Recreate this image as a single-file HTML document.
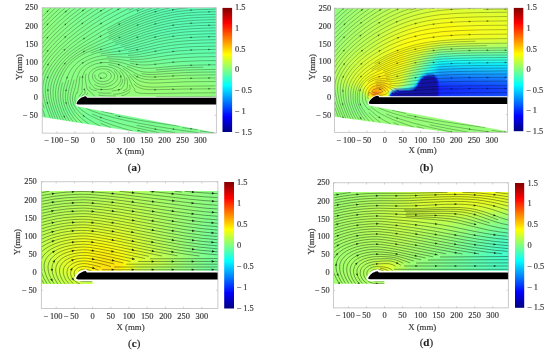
<!DOCTYPE html>
<html><head><meta charset="utf-8"><style>
html,body{margin:0;padding:0;background:#fff;overflow:hidden;}
svg{display:block;}
text{font-family:"Liberation Serif",serif;font-size:8.4px;fill:#3a3a3a;stroke:#3a3a3a;stroke-width:0.18px;}
</style></head><body>
<svg width="550" height="353" viewBox="0 0 550 353">
<defs><filter id="vb" x="-2%" y="-5%" width="104%" height="110%"><feGaussianBlur stdDeviation="0.3 1.0"/></filter><filter id="soft" x="0" y="0" width="100%" height="100%"><feGaussianBlur stdDeviation="0.35"/></filter></defs>
<rect width="550" height="353" fill="#fff"/>
<g filter="url(#soft)">
<defs><clipPath id="clipa"><path d="M41.93,7.80 L216.01,7.80 L216.01,133.10 L143.06,133.10 L41.93,117.10ZM76.29,104.28 L216.01,104.28 L216.01,132.71 L76.50,106.21Z" clip-rule="evenodd"/></clipPath></defs><g clip-path="url(#clipa)"><g filter="url(#vb)"><defs><linearGradient id="ga0"><stop offset="0.000" stop-color="#89ff76"/><stop offset="0.673" stop-color="#52ffad"/><stop offset="0.999" stop-color="#4cffb3"/></linearGradient><linearGradient id="ga1"><stop offset="0.000" stop-color="#89ff76"/><stop offset="0.698" stop-color="#51ffae"/><stop offset="0.999" stop-color="#4cffb3"/></linearGradient><linearGradient id="ga2"><stop offset="0.000" stop-color="#89ff76"/><stop offset="0.701" stop-color="#51ffae"/><stop offset="0.999" stop-color="#4cffb3"/></linearGradient><linearGradient id="ga3"><stop offset="0.000" stop-color="#89ff76"/><stop offset="0.369" stop-color="#68ff97"/><stop offset="0.804" stop-color="#4fffb0"/><stop offset="0.999" stop-color="#4cffb3"/></linearGradient><linearGradient id="ga4"><stop offset="0.000" stop-color="#89ff76"/><stop offset="0.352" stop-color="#6aff95"/><stop offset="0.778" stop-color="#50ffaf"/><stop offset="0.999" stop-color="#4cffb3"/></linearGradient><linearGradient id="ga5"><stop offset="0.000" stop-color="#89ff76"/><stop offset="0.335" stop-color="#6cff93"/><stop offset="0.761" stop-color="#50ffaf"/><stop offset="0.999" stop-color="#4cffb3"/></linearGradient><linearGradient id="ga6"><stop offset="0.000" stop-color="#89ff76"/><stop offset="0.324" stop-color="#6eff91"/><stop offset="0.752" stop-color="#51ffae"/><stop offset="0.999" stop-color="#4dffb2"/></linearGradient><linearGradient id="ga7"><stop offset="0.000" stop-color="#89ff76"/><stop offset="0.315" stop-color="#6fff90"/><stop offset="0.744" stop-color="#51ffae"/><stop offset="0.999" stop-color="#4dffb2"/></linearGradient><linearGradient id="ga8"><stop offset="0.000" stop-color="#89ff76"/><stop offset="0.309" stop-color="#70ff8f"/><stop offset="0.738" stop-color="#52ffad"/><stop offset="0.999" stop-color="#4dffb2"/></linearGradient><linearGradient id="ga9"><stop offset="0.000" stop-color="#89ff76"/><stop offset="0.304" stop-color="#72ff8d"/><stop offset="0.733" stop-color="#52ffad"/><stop offset="0.999" stop-color="#4dffb2"/></linearGradient><linearGradient id="ga10"><stop offset="0.000" stop-color="#89ff76"/><stop offset="0.301" stop-color="#73ff8c"/><stop offset="0.727" stop-color="#53ffac"/><stop offset="0.999" stop-color="#4dffb2"/></linearGradient><linearGradient id="ga11"><stop offset="0.000" stop-color="#89ff76"/><stop offset="0.298" stop-color="#73ff8c"/><stop offset="0.704" stop-color="#54ffab"/><stop offset="0.999" stop-color="#4dffb2"/></linearGradient><linearGradient id="ga12"><stop offset="0.000" stop-color="#89ff76"/><stop offset="0.295" stop-color="#74ff8b"/><stop offset="0.681" stop-color="#54ffab"/><stop offset="0.999" stop-color="#4dffb2"/></linearGradient><linearGradient id="ga13"><stop offset="0.000" stop-color="#89ff76"/><stop offset="0.295" stop-color="#75ff8a"/><stop offset="0.664" stop-color="#55ffaa"/><stop offset="0.999" stop-color="#4dffb2"/></linearGradient><linearGradient id="ga14"><stop offset="0.000" stop-color="#89ff76"/><stop offset="0.292" stop-color="#76ff89"/><stop offset="0.613" stop-color="#58ffa7"/><stop offset="0.999" stop-color="#4dffb2"/></linearGradient><linearGradient id="ga15"><stop offset="0.000" stop-color="#89ff76"/><stop offset="0.292" stop-color="#76ff89"/><stop offset="0.477" stop-color="#62ff9d"/><stop offset="0.999" stop-color="#4effb1"/></linearGradient><linearGradient id="ga16"><stop offset="0.000" stop-color="#89ff76"/><stop offset="0.290" stop-color="#77ff88"/><stop offset="0.440" stop-color="#64ff9b"/><stop offset="0.999" stop-color="#50ffaf"/></linearGradient><linearGradient id="ga17"><stop offset="0.000" stop-color="#89ff76"/><stop offset="0.287" stop-color="#78ff87"/><stop offset="0.432" stop-color="#63ff9c"/><stop offset="0.999" stop-color="#51ffae"/></linearGradient><linearGradient id="ga18"><stop offset="0.000" stop-color="#89ff76"/><stop offset="0.281" stop-color="#79ff86"/><stop offset="0.426" stop-color="#62ff9d"/><stop offset="0.999" stop-color="#52ffad"/></linearGradient><linearGradient id="ga19"><stop offset="0.000" stop-color="#89ff76"/><stop offset="0.273" stop-color="#7aff85"/><stop offset="0.423" stop-color="#60ff9f"/><stop offset="0.999" stop-color="#54ffab"/></linearGradient><linearGradient id="ga20"><stop offset="0.000" stop-color="#89ff76"/><stop offset="0.264" stop-color="#7bff84"/><stop offset="0.423" stop-color="#5fffa0"/><stop offset="0.999" stop-color="#55ffaa"/></linearGradient><linearGradient id="ga21"><stop offset="0.000" stop-color="#89ff76"/><stop offset="0.267" stop-color="#7bff84"/><stop offset="0.426" stop-color="#5fffa0"/><stop offset="0.999" stop-color="#57ffa8"/></linearGradient><linearGradient id="ga22"><stop offset="0.000" stop-color="#89ff76"/><stop offset="0.278" stop-color="#7cff83"/><stop offset="0.434" stop-color="#61ff9e"/><stop offset="0.999" stop-color="#58ffa7"/></linearGradient><linearGradient id="ga23"><stop offset="0.000" stop-color="#89ff76"/><stop offset="0.301" stop-color="#7bff84"/><stop offset="0.446" stop-color="#64ff9b"/><stop offset="0.999" stop-color="#59ffa6"/></linearGradient><linearGradient id="ga24"><stop offset="0.000" stop-color="#89ff76"/><stop offset="0.329" stop-color="#7bff84"/><stop offset="0.460" stop-color="#68ff97"/><stop offset="0.999" stop-color="#5affa5"/></linearGradient><linearGradient id="ga25"><stop offset="0.000" stop-color="#89ff76"/><stop offset="0.355" stop-color="#7bff84"/><stop offset="0.474" stop-color="#6bff94"/><stop offset="0.999" stop-color="#5cffa3"/></linearGradient><linearGradient id="ga26"><stop offset="0.000" stop-color="#89ff76"/><stop offset="0.380" stop-color="#7bff84"/><stop offset="0.497" stop-color="#6fff90"/><stop offset="0.999" stop-color="#5dffa2"/></linearGradient><linearGradient id="ga27"><stop offset="0.000" stop-color="#89ff76"/><stop offset="0.406" stop-color="#7bff84"/><stop offset="0.545" stop-color="#72ff8d"/><stop offset="0.999" stop-color="#5fffa0"/></linearGradient><linearGradient id="ga28"><stop offset="0.000" stop-color="#88ff77"/><stop offset="0.429" stop-color="#7bff84"/><stop offset="0.999" stop-color="#62ff9d"/></linearGradient><linearGradient id="ga29"><stop offset="0.000" stop-color="#87ff78"/><stop offset="0.446" stop-color="#7dff82"/><stop offset="0.889" stop-color="#6bff94"/><stop offset="0.999" stop-color="#66ff99"/></linearGradient><linearGradient id="ga30"><stop offset="0.000" stop-color="#86ff79"/><stop offset="0.454" stop-color="#80ff7f"/><stop offset="0.852" stop-color="#73ff8c"/><stop offset="0.999" stop-color="#6aff95"/></linearGradient><linearGradient id="ga31"><stop offset="0.000" stop-color="#84ff7b"/><stop offset="0.454" stop-color="#84ff7b"/><stop offset="0.829" stop-color="#7aff85"/><stop offset="0.999" stop-color="#6eff91"/></linearGradient><linearGradient id="ga32"><stop offset="0.000" stop-color="#83ff7c"/><stop offset="0.332" stop-color="#85ff7a"/><stop offset="0.772" stop-color="#82ff7d"/><stop offset="0.999" stop-color="#72ff8d"/></linearGradient><linearGradient id="ga33"><stop offset="0.000" stop-color="#81ff7e"/><stop offset="0.341" stop-color="#86ff79"/><stop offset="0.761" stop-color="#88ff77"/><stop offset="0.999" stop-color="#76ff89"/></linearGradient><linearGradient id="ga34"><stop offset="0.000" stop-color="#80ff7f"/><stop offset="0.551" stop-color="#8aff75"/><stop offset="0.775" stop-color="#8aff75"/><stop offset="0.999" stop-color="#7aff85"/></linearGradient><linearGradient id="ga35"><stop offset="0.000" stop-color="#7fff80"/><stop offset="0.735" stop-color="#8fff70"/><stop offset="0.999" stop-color="#7dff82"/></linearGradient><linearGradient id="ga36"><stop offset="0.000" stop-color="#7eff81"/><stop offset="0.730" stop-color="#90ff6f"/><stop offset="0.999" stop-color="#7fff80"/></linearGradient><linearGradient id="ga37"><stop offset="0.000" stop-color="#7dff82"/><stop offset="0.667" stop-color="#91ff6e"/><stop offset="0.999" stop-color="#82ff7d"/></linearGradient><linearGradient id="ga38"><stop offset="0.000" stop-color="#7cff83"/><stop offset="0.503" stop-color="#8cff73"/><stop offset="0.645" stop-color="#94ff6b"/><stop offset="0.999" stop-color="#85ff7a"/></linearGradient><linearGradient id="ga39"><stop offset="0.000" stop-color="#7bff84"/><stop offset="0.471" stop-color="#8dff72"/><stop offset="0.588" stop-color="#95ff6a"/><stop offset="0.647" stop-color="#93ff6c"/><stop offset="0.999" stop-color="#87ff78"/></linearGradient><linearGradient id="ga40"><stop offset="0.000" stop-color="#7aff85"/><stop offset="0.460" stop-color="#8eff71"/><stop offset="0.591" stop-color="#95ff6a"/><stop offset="0.639" stop-color="#94ff6b"/><stop offset="0.999" stop-color="#89ff76"/></linearGradient><linearGradient id="ga41"><stop offset="0.000" stop-color="#7bff84"/><stop offset="0.466" stop-color="#8eff71"/><stop offset="0.602" stop-color="#95ff6a"/><stop offset="0.999" stop-color="#8aff75"/></linearGradient><linearGradient id="ga42"><stop offset="0.000" stop-color="#7cff83"/><stop offset="0.483" stop-color="#8fff70"/><stop offset="0.713" stop-color="#90ff6f"/><stop offset="0.999" stop-color="#8aff75"/></linearGradient><linearGradient id="ga43"><stop offset="0.000" stop-color="#7dff82"/><stop offset="0.290" stop-color="#88ff77"/><stop offset="0.554" stop-color="#8fff70"/><stop offset="0.999" stop-color="#8aff75"/></linearGradient><linearGradient id="ga44"><stop offset="0.000" stop-color="#7eff81"/><stop offset="0.270" stop-color="#84ff7b"/><stop offset="0.477" stop-color="#90ff6f"/><stop offset="0.999" stop-color="#8aff75"/></linearGradient><linearGradient id="ga45"><stop offset="0.000" stop-color="#7eff81"/><stop offset="0.258" stop-color="#81ff7e"/><stop offset="0.466" stop-color="#8eff71"/><stop offset="0.999" stop-color="#89ff76"/></linearGradient><linearGradient id="ga46"><stop offset="0.000" stop-color="#7cff83"/><stop offset="0.258" stop-color="#7eff81"/><stop offset="0.511" stop-color="#89ff76"/><stop offset="0.999" stop-color="#85ff7a"/></linearGradient><linearGradient id="ga47"><stop offset="0.000" stop-color="#7aff85"/><stop offset="0.301" stop-color="#7cff83"/><stop offset="0.999" stop-color="#7fff80"/></linearGradient><linearGradient id="ga48"><stop offset="0.000" stop-color="#78ff87"/><stop offset="0.253" stop-color="#79ff86"/><stop offset="0.999" stop-color="#7aff85"/></linearGradient><linearGradient id="ga49"><stop offset="0.000" stop-color="#76ff89"/><stop offset="0.247" stop-color="#77ff88"/><stop offset="0.999" stop-color="#79ff86"/></linearGradient><linearGradient id="ga50"><stop offset="0.000" stop-color="#74ff8b"/><stop offset="0.258" stop-color="#74ff8b"/><stop offset="0.999" stop-color="#79ff86"/></linearGradient><linearGradient id="ga51"><stop offset="0.000" stop-color="#73ff8c"/><stop offset="0.185" stop-color="#73ff8c"/><stop offset="0.999" stop-color="#79ff86"/></linearGradient><linearGradient id="ga52"><stop offset="0.000" stop-color="#72ff8d"/><stop offset="0.170" stop-color="#72ff8d"/><stop offset="0.216" stop-color="#75ff8a"/><stop offset="0.318" stop-color="#74ff8b"/><stop offset="0.999" stop-color="#79ff86"/></linearGradient><linearGradient id="ga53"><stop offset="0.000" stop-color="#72ff8d"/><stop offset="0.156" stop-color="#73ff8c"/><stop offset="0.207" stop-color="#7bff84"/><stop offset="0.250" stop-color="#6fff90"/><stop offset="0.999" stop-color="#79ff86"/></linearGradient><linearGradient id="ga54"><stop offset="0.000" stop-color="#72ff8d"/><stop offset="0.145" stop-color="#74ff8b"/><stop offset="0.204" stop-color="#7dff82"/><stop offset="0.247" stop-color="#6fff90"/><stop offset="0.999" stop-color="#79ff86"/></linearGradient><linearGradient id="ga55"><stop offset="0.000" stop-color="#73ff8c"/><stop offset="0.131" stop-color="#75ff8a"/><stop offset="0.204" stop-color="#7eff81"/><stop offset="0.247" stop-color="#6fff90"/><stop offset="0.999" stop-color="#79ff86"/></linearGradient><linearGradient id="ga56"><stop offset="0.000" stop-color="#73ff8c"/><stop offset="0.119" stop-color="#76ff89"/><stop offset="0.202" stop-color="#7eff81"/><stop offset="0.250" stop-color="#6fff90"/><stop offset="0.999" stop-color="#79ff86"/></linearGradient><linearGradient id="ga57"><stop offset="0.000" stop-color="#73ff8c"/><stop offset="0.111" stop-color="#78ff87"/><stop offset="0.204" stop-color="#7cff83"/><stop offset="0.256" stop-color="#70ff8f"/><stop offset="0.999" stop-color="#79ff86"/></linearGradient><linearGradient id="ga58"><stop offset="0.000" stop-color="#73ff8c"/><stop offset="0.111" stop-color="#7aff85"/><stop offset="0.213" stop-color="#77ff88"/><stop offset="0.335" stop-color="#72ff8d"/><stop offset="0.999" stop-color="#79ff86"/></linearGradient><linearGradient id="ga59"><stop offset="0.000" stop-color="#74ff8b"/><stop offset="0.193" stop-color="#78ff87"/><stop offset="0.352" stop-color="#72ff8d"/><stop offset="0.999" stop-color="#79ff86"/></linearGradient><linearGradient id="ga60"><stop offset="0.000" stop-color="#74ff8b"/><stop offset="0.159" stop-color="#76ff89"/><stop offset="0.999" stop-color="#79ff86"/></linearGradient><linearGradient id="ga61"><stop offset="0.000" stop-color="#74ff8b"/><stop offset="0.133" stop-color="#73ff8c"/><stop offset="0.224" stop-color="#72ff8d"/><stop offset="0.999" stop-color="#79ff86"/></linearGradient><linearGradient id="ga62"><stop offset="0.000" stop-color="#75ff8a"/><stop offset="0.128" stop-color="#71ff8e"/><stop offset="0.216" stop-color="#70ff8f"/><stop offset="0.999" stop-color="#79ff86"/></linearGradient><linearGradient id="ga63"><stop offset="0.000" stop-color="#75ff8a"/><stop offset="0.136" stop-color="#6fff90"/><stop offset="0.224" stop-color="#71ff8e"/><stop offset="0.999" stop-color="#79ff86"/></linearGradient><linearGradient id="ga64"><stop offset="0.000" stop-color="#75ff8a"/><stop offset="0.148" stop-color="#6eff91"/><stop offset="0.250" stop-color="#72ff8d"/><stop offset="0.999" stop-color="#79ff86"/></linearGradient></defs><rect x="41.2" y="6.8" width="176.1" height="2.05" fill="url(#ga0)"/><rect x="41.2" y="8.8" width="176.1" height="2.05" fill="url(#ga1)"/><rect x="41.2" y="10.8" width="176.1" height="2.05" fill="url(#ga2)"/><rect x="41.2" y="12.8" width="176.1" height="2.05" fill="url(#ga3)"/><rect x="41.2" y="14.8" width="176.1" height="2.05" fill="url(#ga4)"/><rect x="41.2" y="16.8" width="176.1" height="2.05" fill="url(#ga5)"/><rect x="41.2" y="18.8" width="176.1" height="2.05" fill="url(#ga6)"/><rect x="41.2" y="20.8" width="176.1" height="2.05" fill="url(#ga7)"/><rect x="41.2" y="22.8" width="176.1" height="2.05" fill="url(#ga8)"/><rect x="41.2" y="24.8" width="176.1" height="2.05" fill="url(#ga9)"/><rect x="41.2" y="26.8" width="176.1" height="2.05" fill="url(#ga10)"/><rect x="41.2" y="28.8" width="176.1" height="2.05" fill="url(#ga11)"/><rect x="41.2" y="30.8" width="176.1" height="2.05" fill="url(#ga12)"/><rect x="41.2" y="32.8" width="176.1" height="2.05" fill="url(#ga13)"/><rect x="41.2" y="34.8" width="176.1" height="2.05" fill="url(#ga14)"/><rect x="41.2" y="36.8" width="176.1" height="2.05" fill="url(#ga15)"/><rect x="41.2" y="38.8" width="176.1" height="2.05" fill="url(#ga16)"/><rect x="41.2" y="40.8" width="176.1" height="2.05" fill="url(#ga17)"/><rect x="41.2" y="42.8" width="176.1" height="2.05" fill="url(#ga18)"/><rect x="41.2" y="44.8" width="176.1" height="2.05" fill="url(#ga19)"/><rect x="41.2" y="46.8" width="176.1" height="2.05" fill="url(#ga20)"/><rect x="41.2" y="48.8" width="176.1" height="2.05" fill="url(#ga21)"/><rect x="41.2" y="50.8" width="176.1" height="2.05" fill="url(#ga22)"/><rect x="41.2" y="52.8" width="176.1" height="2.05" fill="url(#ga23)"/><rect x="41.2" y="54.8" width="176.1" height="2.05" fill="url(#ga24)"/><rect x="41.2" y="56.8" width="176.1" height="2.05" fill="url(#ga25)"/><rect x="41.2" y="58.8" width="176.1" height="2.05" fill="url(#ga26)"/><rect x="41.2" y="60.8" width="176.1" height="2.05" fill="url(#ga27)"/><rect x="41.2" y="62.8" width="176.1" height="2.05" fill="url(#ga28)"/><rect x="41.2" y="64.8" width="176.1" height="2.05" fill="url(#ga29)"/><rect x="41.2" y="66.8" width="176.1" height="2.05" fill="url(#ga30)"/><rect x="41.2" y="68.8" width="176.1" height="2.05" fill="url(#ga31)"/><rect x="41.2" y="70.8" width="176.1" height="2.05" fill="url(#ga32)"/><rect x="41.2" y="72.8" width="176.1" height="2.05" fill="url(#ga33)"/><rect x="41.2" y="74.8" width="176.1" height="2.05" fill="url(#ga34)"/><rect x="41.2" y="76.8" width="176.1" height="2.05" fill="url(#ga35)"/><rect x="41.2" y="78.8" width="176.1" height="2.05" fill="url(#ga36)"/><rect x="41.2" y="80.8" width="176.1" height="2.05" fill="url(#ga37)"/><rect x="41.2" y="82.8" width="176.1" height="2.05" fill="url(#ga38)"/><rect x="41.2" y="84.8" width="176.1" height="2.05" fill="url(#ga39)"/><rect x="41.2" y="86.8" width="176.1" height="2.05" fill="url(#ga40)"/><rect x="41.2" y="88.8" width="176.1" height="2.05" fill="url(#ga41)"/><rect x="41.2" y="90.8" width="176.1" height="2.05" fill="url(#ga42)"/><rect x="41.2" y="92.8" width="176.1" height="2.05" fill="url(#ga43)"/><rect x="41.2" y="94.8" width="176.1" height="2.05" fill="url(#ga44)"/><rect x="41.2" y="96.8" width="176.1" height="2.05" fill="url(#ga45)"/><rect x="41.2" y="98.8" width="176.1" height="2.05" fill="url(#ga46)"/><rect x="41.2" y="100.8" width="176.1" height="2.05" fill="url(#ga47)"/><rect x="41.2" y="102.8" width="176.1" height="2.05" fill="url(#ga48)"/><rect x="41.2" y="104.8" width="176.1" height="2.05" fill="url(#ga49)"/><rect x="41.2" y="106.8" width="176.1" height="2.05" fill="url(#ga50)"/><rect x="41.2" y="108.8" width="176.1" height="2.05" fill="url(#ga51)"/><rect x="41.2" y="110.8" width="176.1" height="2.05" fill="url(#ga52)"/><rect x="41.2" y="112.8" width="176.1" height="2.05" fill="url(#ga53)"/><rect x="41.2" y="114.8" width="176.1" height="2.05" fill="url(#ga54)"/><rect x="41.2" y="116.8" width="176.1" height="2.05" fill="url(#ga55)"/><rect x="41.2" y="118.8" width="176.1" height="2.05" fill="url(#ga56)"/><rect x="41.2" y="120.8" width="176.1" height="2.05" fill="url(#ga57)"/><rect x="41.2" y="122.8" width="176.1" height="2.05" fill="url(#ga58)"/><rect x="41.2" y="124.8" width="176.1" height="2.05" fill="url(#ga59)"/><rect x="41.2" y="126.8" width="176.1" height="2.05" fill="url(#ga60)"/><rect x="41.2" y="128.8" width="176.1" height="2.05" fill="url(#ga61)"/><rect x="41.2" y="130.8" width="176.1" height="2.05" fill="url(#ga62)"/><rect x="41.2" y="132.8" width="176.1" height="2.05" fill="url(#ga63)"/><rect x="41.2" y="134.8" width="176.1" height="2.05" fill="url(#ga64)"/></g><path d="M102.7 72.8l-1.6 .2-1.1 .5-.9 .7-.5 1.1 .2 1.2 .7 .9 1.5 .7 1.5 .3 1.6-.2 1.5-.7 .8-.8 .4-1.1-.3-1.1-.8-.9-1.1-.5-1.6-.3M152.4 7.8l-11.6 4.3-12.8 5.6-13.3 6.6-12.9 7.1-15.1 9.2-11.9 8-4.2 3.1-3.7 3.1-3.2 3-3 3.2-2.5 3.1-2.4 3.3-2.1 3.4-1.8 3.5-1.4 3.3-1.2 3.4-.8 3.1-.5 3.2-.1 2.8 .1 3.2 .4 3.5 .7 3.6 2.6 8.8 3.5 9.3M215.7 42.8l-14.4 .3-11.6 .5-10 .8-9.5 1.1-11 1.9-18.8 4.2-7 1.3-7.6 .8-16.8 1.1-8.3 1.1-4.3 1-4.2 1.3-4.1 1.6-3.5 1.9-3.6 2.5-2.9 2.7-2.2 2.9-2 3.4-1.9 4.9-3 10.8-.9 4.3-.4 3.5 .1 3.2 .6 3.2 1.1 3.4 1.6 3.2 2.1 3.4 2.4 3.2 3.2 3.6 3.5 3.3M86.7 7.8l-13.5 10.1-6.1 5.1-5.7 5-5.3 4.9-5 5.1-4.6 5.1-4.1 4.9M215.7 74.8l-30.8 .5-30.3 1.7-4.4 0-3.6-.2-4.4-.8-4.1-1.4-3.2-1.6-10.1-5.8-3.6-1.7-3.8-1.3-4.3-1-4.3-.6-4.4-.1-4.4 .4-5 1.2-4.4 1.9-2 1.3-1.6 1.3-1.4 1.5-1.1 1.6-1.4 2.9-.7 3.1-.1 8-.4 3.2 .3 1.5-.1 1.2-.8 1.8-2.4 3.2M85.9 108.3l7 3 9.4 3.2 12 3.3 12.8 3 14.9 3 17 3 18.9 3 20.6 3M215.7 19.6l-19.2 .6-14.3 1.1-6.8 .9-6.3 1.1-6.3 1.3-6.6 1.7-9.1 2.7-9.5 3.3-26 10.5-17.9 6.7-8.8 3.9-3.5 1.9-3.4 2.2-3.8 2.8-3.3 3-2.6 3-2.6 3.6-2.3 4.2-2.1 4.7-1.7 4.9-1 4.3-.5 3.6-.1 3.6 .3 4 .8 3.9 1.2 4.2 1.7 4.5 2.2 4.7 2.3 4.2M113.2 7.8l-12.7 7.5-11.8 7.7-11 8-9.9 8-8.6 7.9-7.1 7.6-3 3.7-2.5 3.6-2.4 3.7-1.9 3.5M42.2 108.2l3.2 9.1M65.2 7.8l-6.3 5.5-5.9 5.5-5.4 5.3-5.1 5.6M99.7 66.7l-3.1 .8-2.9 1.4-1.9 1.4-1.9 2.1-1 2.1-.4 2.4 .3 2.4 1 3 1.3 2 1.5 1.9 1.7 1.6 1.7 1.1 2.8 .5 4 .2 4.4-.1 3.5-.5 2-.5 3.1-1.7 2.1-1.8 1.8-2.2 1-2.2 .3-2-.2-2.3-.7-1.9-1.3-2-2-2-2.3-1.5-2.6-1.2-3-.8-3.2-.5-3.2 0-2.8 .3M215.7 56.6l-19.6 .4-15.2 .8-12.3 1.2-19.4 2.6-6.8 .4-4 0-4.4-.3-13.5-2-5.1-.6-4.8-.3-4.8 .1-5.2 .5-5.1 1.1-4.5 1.6-3.9 2-3 2.1-2.5 2.5-1.9 2.6-1.6 3.2-1 3.4-1.7 8.7-2.7 9.2-.2 3.2 .3 2.7 1 3.1 1.9 3.1 2.5 3.1 3.2 3 3.7 3 4.7 3.1 5.1 3.1 6.1 3.1M215.7 30.8l-17.2 .4-13.6 .8-11.9 1.4-11 2-6.6 1.6-7 1.9-26 8-19.8 4.6-6.2 1.6-4.2 1.4-4.1 1.6-3.6 1.7-3.1 1.9-3.6 2.5-2.9 2.7-2.9 3.3-2.2 3.4-1.9 3.9-2 5.3-1.8 6.1-.9 4.7-.3 3.6 .1 3.6 .6 3.6 1 3.8 1.5 3.8 1.9 3.9 2.3 3.8 2.8 3.9M215.7 9.1l-20.4 .7-8 .6-7.5 .9-7.1 1.1-7.1 1.4-7 1.8-6.9 2-7.5 2.6-8.2 3.2-8.5 3.6-8.7 4.1-31.8 16-6.6 3.8-5.3 3.5-4.1 3.2-3.6 3.2-3.2 3.5-2.7 3.5-2.5 4.1-2.2 4.3-1.8 4.5-1.2 4.2-.6 3.9-.2 3.6 .2 4 .6 4 1 4.2 1.6 5 2 5.2 2.2 4.7M130 7.8l-12.5 6.3-12.6 7-11.6 7.1-11.2 7.7-9.9 7.4-8.2 7-6.5 6.5-5.3 6.6-4.1 6.4-2.9 6.1-1.7 5.8-.6 3.1-.2 2.8 .3 5.6 1.1 6.3 2.5 8.4 3.7 10.2M99.1 7.8l-9.4 6.2-8.8 6.2-8.2 6.4-7.3 6.2-7.1 6.5-6.1 6.3-5.2 6.1-4.6 6.1M75.5 7.8l-9.6 7.8-8.7 7.7-8 7.9-6.9 7.7M55.7 7.8l-7 6.6-6.4 6.6M102.7 68.8l-2 .2-1.9 .4-2.3 .9-1.3 .8-1.2 1.1-.9 1.3-.6 1.5-.1 1.6 .3 1.5 .6 1.5 1 1.3 1.5 1.3 1.7 1 1.9 .6 2 .4 2 .1 2.4-.3 1.9-.4 1.9-.8 1.7-1 1.5-1.3 1-1.2 .7-1.5 .2-1.6-.3-1.5-.7-1.4-1.4-1.5-1.3-1-1.7-.9-1.9-.6-2.4-.4-2-.1M215.7 92.8l-31.2 .2-35.2 .6-7.6-.2-4.3-.7-1.5-.6-.9-.8-.3-.7 0-1.6-1.5-1.8-1.1-1.8-3.6-8-1.9-3-2.4-2.7-3.4-2.8-3.9-2-4.1-1.5-4.3-.8M86.2 73.6l-.7 2.6-.2 2.8 .3 2.4 1.4 7.5 5.9 5.3 2.1 2.4M215.7 64.8l-17.6 .2-13.6 .5-12 .8-19.1 1.9-8 .2-4.3-.4-4.4-.8-13-4-5.4-1.3-4.7-.8-4.8-.4M80.1 76.1l-.5 2.8-.8 6.7-.7 3.1-.2 2.4-.6 1.9-.7-.5-1.1 3-.6 2.3-.1 1.6 .2 1.6 .4 1.6 .7 1.4M78.2 106.8l3.2 3 4.2 3.1 5.2 3 6.5 3.1 7.3 3.1 8.7 3.2 9.5 3 10 2.9M215.7 49.4l-21.6 .5-16.4 1.1-11.5 1.4-21.2 3.7-8.4 1-7.2 .2-15.6-.6-7.2 .3M74.2 79.6l-3.3 12.7-.6 3.2-.2 2.4 .1 2 .8 3.9 1 2.6 1.3 2.4 1.8 2.7 2.1 2.5 2.4 2.6 2.7 2.4 6.6 5.1M215.7 36.6l-14 .3-11.6 .6-9.9 .8-9.2 1.1-7.5 1.3-7.8 1.7-21.3 5.7-6.6 1.5-6.7 1.2-14.6 2.1-5.9 1.1M68.8 80.1l-2.2 7.7-1 5.1-.3 4.4 .5 4.4 1.4 5 2.3 5.1 3.2 5 4.3 5.3M215.7 25.1l-17.2 .5-13.2 .8-11.9 1.5-11 2-8.5 2.2-8.8 2.6-27.2 9.6-19.9 6.1-7.1 2.5M62.7 82.4l-1.4 5-.7 4.7-.1 4.4 .5 4.8 1.3 5 1.8 4.9 2.5 5 3.1 5.1M215.7 14.3l-20 .7-8 .5-7.1 .8-6.8 .9-6.6 1.3-6.7 1.5-6.9 2-6.9 2.2-7.1 2.6-15.2 6.2-35.7 16.1-6.7 3.5-5.5 3.4-3.8 2.9-3.5 3.2-3 3.3-2.6 3.5-2.4 4.2-2.1 4.3-1.8 4.9-1.1 4.2-.6 4-.1 3.6 .3 4 .7 3.9 1.1 4.3 1.6 4.5 2 4.8 2.3 4.6M170.4 7.8l-5.9 1.3-5.8 1.5-12.1 4-13.4 5.3-13.8 6.4-15.9 8.4-20.9 11.9-5.4 3.4-4.2 3-3.8 3-3.5 3.3-3 3.2-2.5 3.1-2.3 3.3-2.2 3.8-1.9 3.9-1.5 3.8-1 3.4-.6 3.6-.3 3.1 .1 3.2 .4 3.6 .7 3.6 1.1 4.2 1.4 4.6 3.7 9.3M140.1 7.8l-12.4 5.6-12.8 6.4-12.6 7.1-12.2 7.6-11.9 8.1-8.9 6.8-7.2 6.4-3 3.2-2.8 3.4-2.4 3.2-2.2 3.3-1.7 3.2-1.6 3.2-1.2 3.4-.9 3.1-.7 3.1-.2 2.8-.1 2.8 .2 3.2 1.2 6.7 2.5 8.4 3.7 9.8M121.2 7.8l-15.1 8.3-14.2 8.9-13.1 9.2-6 4.7-5.5 4.6-4.8 4.3-4.3 4.2-3.5 3.8-3.3 4-2.8 3.9-2.5 4.1-2.1 3.9-1.7 4.1M105.9 7.8l-10.9 6.8-10.2 7-9.6 7.2-8.3 6.9-7.7 7-6.6 6.9-5.7 6.8-4.5 6.6M92.7 7.8l-7.9 5.5-7.7 5.7-7.2 5.7-6.7 5.8-6.1 5.7-5.6 5.7-4.7 5.4-4.5 5.7M81 7.8l-11.4 8.9-10.3 8.9-9.1 8.9-7.9 9M70.3 7.8l-7.7 6.4-7.4 6.8-6.5 6.4-6.3 6.8M60.4 7.8l-9.7 9-8.4 8.6M51.1 7.8l-8.8 8.7M95 74.6l-.2 1.6 .5 1.6 .9 1.3 1.5 1.2 1.8 .8 2 .4 2 .1 2.4-.4 2.2-.9 1.6-1.1 1-1.2 .6-1.5-.1-1.6-.7-1.4-1.2-1.2-2-1.1M94.3 84.1l2 1.4 2.2 .9 2.3 .5 2.4 .2 2.8-.2 2.7-.7 2.6-.9 2.4-1.5 1.8-1.5 1.2-1.6 .8-1.9 .3-1.5-.3-2-.6-1.5-1.1-1.6-1.8-1.6M89.3 86.4l1 2.2 .9 .7 2.6 .9 3.1 .7M111.7 91.1l5.9-1 3.8-1.2 1.3-1.5 1.3-2.5 .6-1.9 .2-2 0-2-.4-1.9-.8-1.9-1-1.7-1.2-1.6-1.8-1.6M215.7 81.5l-30 .3-30.8 1.3-5.2-.1-4-.4-4.6-1-2.2-1-1.8-.9-2.9-2.2-6.8-6.2-4.2-3M84.5 89.6l.7 1.8-.2 1.6-.9 1.3-2.8 2.3M215.7 69.4l-17.2 .3-13.2 .4-11.6 .6-18.3 1.5-7.2 .1-4.8-.4-4.7-1-4.1-1.5-7.7-3.3M92.2 114l5.5 2.3 6.4 2.4 14.9 4.6 18.2 4.7 21.9 4.7M215.7 60.5l-18.8 .4-14.8 .6-11.9 1-17.9 2.1-6 .4-4 0-3.6-.3-3.9-.6-4.7-1M100.7 123.4l10.3 4.3M215.7 52.9l-18.8 .4-14.4 .8-14.3 1.4-24.5 3.6-6.8 .4-7.2-.3M215.7 46.1l-22.4 .5-8.8 .6-7.9 .7-13.9 1.9-23.6 4.6-5.5 .7-5.6 .3M215.7 39.7l-13.6 .3-11.2 .5-9.6 .7-8.7 1-7.1 1.1-7.1 1.4-21.8 5.2-8.2 1.6M215.7 33.7l-14.4 .3-11.6 .6-9.9 .8-9.6 1.3-8.2 1.5-8.2 1.9-22.7 6.5-7 1.8M215.7 27.9l-15.6 .4-12 .7-10.3 1-9.9 1.5-9 1.9-9.7 2.6-8 2.5-20.5 6.9M215.7 22.3l-16 .5-12.8 .8-11.1 1.2-10.2 1.8-10.1 2.4-10.8 3.3-9.8 3.5-19.8 7.6M215.7 17l-16.4 .4-13.2 .9-11.5 1.4-10.6 2-11.2 3-11.8 3.9-11.9 4.7-16.5 7.1M215.7 11.7l-17.2 .5-13.6 1-11.8 1.6-11 2.3-11.9 3.5-12.8 4.6-13.2 5.6-16 7.6M188.1 7.8l-9.6 1.1-9 1.6-9 2.1-8.8 2.6-9.8 3.5-10.7 4.4-10.9 5-11.5 5.8M159.8 7.9l-12.2 3.9-12.6 5.1-13.8 6.3-13.8 7.2M119.5 86.7l1.5-1.9 .9-1.7 .7-1.9 .2-2M98.2 92.7l6 .5 7.2-.2M123.1 90.6l3-1.2 .9-.7 .4-3.2 .1-2.8-.4-2.8-.6-2.3M215.7 85.9l-30 .3-30 .9-5.6-.1-4.4-.3-2.7-.5-2.3-.6-2.2-1-1.8-1-2.9-2.7-4.5-5.6M87.7 92.7l-.3 1.2-.4 .6-.9 .8-1.4 .9M215.7 77.9l-28.8 .4-29.6 1.4-7.6 .1-5.1-.6-3.9-1-3.6-1.6-3.7-2.4M114.8 115.5l13.7 2.8 14.2 2.5 16.2 2.5 20.6 2.9M215.7 72l-17.6 .2-13.6 .4-31.9 2-6-.2-5.1-.8M136.7 125.4l18.9 3.8 19.6 3.6M203.3 67.2l-12.4 .3-10.8 .5-24.3 2M138.4 130.6l9 2.1M113.3 94.4l4.3-.4 4.3-.9 3.1-1.1 3.2-1.6 1.7-1.1 .3-.6-.7-4M215.7 88.8l-30 .2-29.6 .7-7.6-.1-4.7-.5-4.7-1.4-2.8-1.5-1.2-1-1.3-1.5M101.6 111.3l12.1 2.7M200 130.9l13.9 1.8M42.3 102.4l2 6.1M98.5 95.1l3.1 .5 4 .3 10.4 .2M121.2 95.7l2.7-.5 1.9-.7 2.4-1.5 2.1-1.8M215.7 96.4l-59.6 .4M182.2 127.6l15.5 2M144.8 7.9l-7.1 2.9M133.9 8l-5.1 2.3" fill="none" stroke="#000" stroke-opacity="0.55" stroke-width="0.5"/><path d="M48.6 10.2L47.7 12.5 46.3 11.0ZM67.0 10.5L65.9 12.7 64.6 11.2ZM84.2 9.6L83.0 11.7 81.8 10.1ZM102.2 10.0L100.9 12.0 99.8 10.3ZM119.5 8.7L118.0 10.6 117.1 8.8ZM138.9 10.3L137.3 12.1 136.5 10.2ZM156.9 11.2L155.1 12.8 154.5 10.9ZM174.3 9.6L172.3 10.9 172.0 9.0ZM192.6 10.0L190.5 11.1 190.4 9.2ZM210.6 11.8L208.4 12.8 208.4 10.9ZM48.6 23.2L47.7 25.4 46.3 24.1ZM66.5 23.4L65.5 25.6 64.2 24.1ZM83.6 22.4L82.4 24.5 81.2 22.9ZM102.3 22.7L100.9 24.7 99.9 23.0ZM120.6 23.5L119.1 25.4 118.2 23.6ZM139.0 24.6L137.3 26.3 136.6 24.5ZM156.8 23.6L154.9 25.1 154.4 23.2ZM174.7 25.0L172.7 26.3 172.4 24.3ZM192.6 23.1L190.5 24.3 190.4 22.3ZM210.6 25.2L208.4 26.2 208.4 24.3ZM48.4 36.5L47.6 38.8 46.2 37.5ZM66.3 36.1L65.4 38.3 64.0 36.8ZM85.2 37.7L83.9 39.8 82.8 38.1ZM101.8 35.6L100.4 37.5 99.4 35.8ZM120.8 36.9L119.2 38.6 118.4 36.8ZM138.7 36.8L137.0 38.5 136.3 36.6ZM156.7 36.7L154.8 38.2 154.3 36.2ZM174.7 36.0L172.7 37.3 172.4 35.4ZM192.6 37.3L190.5 38.4 190.4 36.5ZM210.6 36.7L208.4 37.8 208.4 35.8ZM48.6 49.7L47.9 52.1 46.4 50.8ZM65.5 48.9L64.6 51.1 63.2 49.6ZM85.2 50.8L83.7 52.7 82.8 51.0ZM102.4 49.1L100.5 50.6 100.0 48.8ZM120.9 50.9L118.8 52.2 118.5 50.2ZM138.7 49.4L136.8 50.9 136.3 49.0ZM156.9 50.9L154.9 52.3 154.6 50.4ZM174.7 51.3L172.6 52.6 172.4 50.6ZM192.6 50.0L190.5 51.1 190.4 49.1ZM210.6 49.5L208.4 50.5 208.4 48.5ZM48.9 63.3L48.5 65.7 46.8 64.6ZM65.8 62.4L65.1 64.7 63.6 63.4ZM84.0 62.0L82.8 64.1 81.6 62.5ZM102.5 62.6L100.4 63.8 100.2 61.8ZM120.2 65.1L117.8 65.4 118.4 63.5ZM138.4 64.7L136.1 65.3 136.4 63.4ZM156.8 64.1L154.7 65.3 154.5 63.4ZM174.7 62.1L172.6 63.3 172.4 61.3ZM192.6 65.2L190.5 66.3 190.4 64.3ZM210.6 64.8L208.4 65.8 208.4 63.8ZM48.2 76.0L48.3 78.4 46.5 77.7ZM67.6 76.2L67.7 78.6 65.9 77.9ZM82.8 75.6L83.4 77.9 81.4 77.6ZM102.2 78.5L99.8 78.8 100.4 76.9ZM121.1 78.0L119.7 76.0 121.7 75.6ZM138.6 77.4L136.2 77.2 137.1 75.5ZM156.7 76.9L154.5 78.0 154.4 76.0ZM174.6 75.8L172.5 76.9 172.4 74.9ZM192.6 78.2L190.4 79.2 190.4 77.2ZM210.6 77.9L208.4 78.9 208.4 76.9ZM47.9 88.7L48.9 91.0 46.9 90.9ZM66.3 88.9L66.8 91.2 64.9 90.8ZM85.2 90.7L83.2 89.3 85.0 88.3ZM102.9 89.6L100.6 90.5 100.7 88.5ZM120.4 89.4L118.5 90.9 118.0 89.0ZM156.6 89.7L154.4 90.8 154.4 88.8ZM174.6 89.3L172.5 90.3 172.4 88.3ZM192.6 88.9L190.4 90.0 190.4 88.0ZM210.6 88.8L208.4 89.8 208.4 87.8ZM47.8 104.4L46.3 102.5 48.2 102.0ZM66.4 104.5L64.9 102.6 66.9 102.2ZM65.0 118.0L63.1 116.6 64.8 115.6ZM84.9 116.8L82.5 116.3 83.7 114.7ZM102.3 118.0L99.9 118.2 100.6 116.4ZM120.8 116.8L118.4 117.3 118.8 115.4ZM139.7 130.9L137.3 131.3 137.8 129.4ZM156.9 129.5L154.5 130.0 154.9 128.1ZM174.9 129.3L172.6 130.0 172.9 128.0ZM192.6 129.0L190.3 129.7 190.6 127.7Z" fill="#000" fill-opacity="0.5"/></g>
<path d="M76.47,103.39 C77.97,99.89 80.98,96.83 85.98,96.23 L87.18,97.66 L216.30,97.66 L216.30,104.46 L78.97,104.46 Q76.47,104.46 76.47,103.39 Z" fill="#000" stroke="#fff" stroke-width="1.8" stroke-linejoin="round"/>
<path d="M76.47,103.39 C77.97,99.89 80.98,96.83 85.98,96.23 L87.18,97.66 L216.30,97.66 L216.30,104.46 L78.97,104.46 Q76.47,104.46 76.47,103.39 Z" fill="#000"/>
<rect x="42.20" y="7.80" width="174.10" height="125.30" fill="none" stroke="#b4b4b4" stroke-width="0.7"/>
<path d="M56.90,133.10v-1.7M56.90,7.80v1.7M74.85,133.10v-1.7M74.85,7.80v1.7M92.80,133.10v-1.7M92.80,7.80v1.7M110.75,133.10v-1.7M110.75,7.80v1.7M128.70,133.10v-1.7M128.70,7.80v1.7M146.65,133.10v-1.7M146.65,7.80v1.7M164.60,133.10v-1.7M164.60,7.80v1.7M182.55,133.10v-1.7M182.55,7.80v1.7M200.50,133.10v-1.7M200.50,7.80v1.7M42.20,115.20h1.7M216.30,115.20h-1.7M42.20,97.30h1.7M216.30,97.30h-1.7M42.20,79.40h1.7M216.30,79.40h-1.7M42.20,61.50h1.7M216.30,61.50h-1.7M42.20,43.60h1.7M216.30,43.60h-1.7M42.20,25.70h1.7M216.30,25.70h-1.7M42.20,7.80h1.7M216.30,7.80h-1.7" stroke="#b4b4b4" stroke-width="0.6" fill="none"/>
<defs><linearGradient id="jeta" x1="0" y1="0" x2="0" y2="1"><stop offset="0.0000" stop-color="#800000"/><stop offset="0.0312" stop-color="#9f0000"/><stop offset="0.0625" stop-color="#bf0000"/><stop offset="0.0938" stop-color="#df0000"/><stop offset="0.1250" stop-color="#ff0000"/><stop offset="0.1562" stop-color="#ff2000"/><stop offset="0.1875" stop-color="#ff4000"/><stop offset="0.2188" stop-color="#ff6000"/><stop offset="0.2500" stop-color="#ff8000"/><stop offset="0.2812" stop-color="#ff9f00"/><stop offset="0.3125" stop-color="#ffbf00"/><stop offset="0.3438" stop-color="#ffdf00"/><stop offset="0.3750" stop-color="#ffff00"/><stop offset="0.4062" stop-color="#dfff20"/><stop offset="0.4375" stop-color="#bfff40"/><stop offset="0.4688" stop-color="#9fff60"/><stop offset="0.5000" stop-color="#80ff80"/><stop offset="0.5312" stop-color="#60ff9f"/><stop offset="0.5625" stop-color="#40ffbf"/><stop offset="0.5938" stop-color="#20ffdf"/><stop offset="0.6250" stop-color="#00ffff"/><stop offset="0.6562" stop-color="#00dfff"/><stop offset="0.6875" stop-color="#00bfff"/><stop offset="0.7188" stop-color="#009fff"/><stop offset="0.7500" stop-color="#0080ff"/><stop offset="0.7812" stop-color="#0060ff"/><stop offset="0.8125" stop-color="#0040ff"/><stop offset="0.8438" stop-color="#0020ff"/><stop offset="0.8750" stop-color="#0000ff"/><stop offset="0.9062" stop-color="#0000df"/><stop offset="0.9375" stop-color="#0000bf"/><stop offset="0.9688" stop-color="#00009f"/><stop offset="1.0000" stop-color="#000080"/></linearGradient></defs>
<rect x="222.50" y="7.90" width="9.60" height="124.10" fill="url(#jeta)"/>
<g><text x="56.90" y="143.20" text-anchor="middle">100</text><text x="49.20" y="143.20" text-anchor="end">−</text><text x="74.85" y="143.20" text-anchor="middle">50</text><text x="69.25" y="143.20" text-anchor="end">−</text><text x="92.80" y="143.20" text-anchor="middle">0</text><text x="110.75" y="143.20" text-anchor="middle">50</text><text x="128.70" y="143.20" text-anchor="middle">100</text><text x="146.65" y="143.20" text-anchor="middle">150</text><text x="164.60" y="143.20" text-anchor="middle">200</text><text x="182.55" y="143.20" text-anchor="middle">250</text><text x="200.50" y="143.20" text-anchor="middle">300</text><text x="37.90" y="118.20" text-anchor="end">− 50</text><text x="37.90" y="100.30" text-anchor="end">0</text><text x="37.90" y="82.40" text-anchor="end">50</text><text x="37.90" y="64.50" text-anchor="end">100</text><text x="37.90" y="46.60" text-anchor="end">150</text><text x="37.90" y="28.70" text-anchor="end">200</text><text x="37.90" y="10.20" text-anchor="end">250</text><text x="235.00" y="10.40">1.5</text><text x="235.00" y="31.08">1</text><text x="235.00" y="51.77">0.5</text><text x="235.00" y="72.45">0</text><text x="235.00" y="93.13">− 0.5</text><text x="235.00" y="113.82">− 1</text><text x="235.00" y="134.50">− 1.5</text><text x="130.20" y="154.30" text-anchor="middle" style="font-size:8.8px">X (mm)</text><text transform="translate(21.50,67.00) rotate(-90)" text-anchor="middle" style="font-size:8.8px">Y(mm)</text><text x="134.20" y="170.90" text-anchor="middle" style="font-size:11px;fill:#1a1a1a">(<tspan style="font-weight:700">a</tspan>)</text></g>
<defs><clipPath id="clipb"><path d="M334.28,8.20 L508.25,8.20 L508.25,132.31 L449.07,132.31 L334.28,116.71ZM368.50,103.76 L508.25,103.76 L508.25,131.49 L369.00,105.50Z" clip-rule="evenodd"/></clipPath></defs><g clip-path="url(#clipb)"><g filter="url(#vb)"><defs><linearGradient id="gb0"><stop offset="0.000" stop-color="#89ff76"/><stop offset="0.615" stop-color="#d9ff26"/><stop offset="0.998" stop-color="#cfff30"/></linearGradient><linearGradient id="gb1"><stop offset="0.000" stop-color="#89ff76"/><stop offset="0.623" stop-color="#deff21"/><stop offset="0.998" stop-color="#d3ff2c"/></linearGradient><linearGradient id="gb2"><stop offset="0.000" stop-color="#8aff75"/><stop offset="0.629" stop-color="#e2ff1d"/><stop offset="0.998" stop-color="#d7ff28"/></linearGradient><linearGradient id="gb3"><stop offset="0.000" stop-color="#8aff75"/><stop offset="0.303" stop-color="#baff45"/><stop offset="0.638" stop-color="#e7ff18"/><stop offset="0.998" stop-color="#dbff24"/></linearGradient><linearGradient id="gb4"><stop offset="0.000" stop-color="#8bff74"/><stop offset="0.300" stop-color="#baff45"/><stop offset="0.635" stop-color="#ecff13"/><stop offset="0.998" stop-color="#dfff20"/></linearGradient><linearGradient id="gb5"><stop offset="0.000" stop-color="#8bff74"/><stop offset="0.303" stop-color="#bcff43"/><stop offset="0.635" stop-color="#f0ff0f"/><stop offset="0.998" stop-color="#e2ff1d"/></linearGradient><linearGradient id="gb6"><stop offset="0.000" stop-color="#8cff73"/><stop offset="0.303" stop-color="#bdff42"/><stop offset="0.632" stop-color="#f5ff0a"/><stop offset="0.998" stop-color="#e6ff19"/></linearGradient><linearGradient id="gb7"><stop offset="0.000" stop-color="#8cff73"/><stop offset="0.306" stop-color="#bfff40"/><stop offset="0.509" stop-color="#e6ff19"/><stop offset="0.638" stop-color="#f8ff07"/><stop offset="0.998" stop-color="#e8ff17"/></linearGradient><linearGradient id="gb8"><stop offset="0.000" stop-color="#8dff72"/><stop offset="0.306" stop-color="#c1ff3e"/><stop offset="0.480" stop-color="#e8ff17"/><stop offset="0.638" stop-color="#fbff04"/><stop offset="0.998" stop-color="#e9ff16"/></linearGradient><linearGradient id="gb9"><stop offset="0.000" stop-color="#8dff72"/><stop offset="0.303" stop-color="#c2ff3d"/><stop offset="0.472" stop-color="#ecff13"/><stop offset="0.640" stop-color="#feff01"/><stop offset="0.998" stop-color="#ebff14"/></linearGradient><linearGradient id="gb10"><stop offset="0.000" stop-color="#8dff72"/><stop offset="0.294" stop-color="#c2ff3d"/><stop offset="0.472" stop-color="#f2ff0d"/><stop offset="0.655" stop-color="#fffe00"/><stop offset="0.998" stop-color="#ecff13"/></linearGradient><linearGradient id="gb11"><stop offset="0.000" stop-color="#8eff71"/><stop offset="0.280" stop-color="#c1ff3e"/><stop offset="0.472" stop-color="#f7ff08"/><stop offset="0.675" stop-color="#fffd00"/><stop offset="0.998" stop-color="#eeff11"/></linearGradient><linearGradient id="gb12"><stop offset="0.000" stop-color="#8eff71"/><stop offset="0.266" stop-color="#c0ff3f"/><stop offset="0.472" stop-color="#fcff03"/><stop offset="0.663" stop-color="#fff900"/><stop offset="0.998" stop-color="#eeff11"/></linearGradient><linearGradient id="gb13"><stop offset="0.000" stop-color="#8fff70"/><stop offset="0.254" stop-color="#c0ff3f"/><stop offset="0.466" stop-color="#ffff00"/><stop offset="0.660" stop-color="#fff900"/><stop offset="0.998" stop-color="#eeff11"/></linearGradient><linearGradient id="gb14"><stop offset="0.000" stop-color="#90ff6f"/><stop offset="0.249" stop-color="#c1ff3e"/><stop offset="0.452" stop-color="#ffff00"/><stop offset="0.638" stop-color="#fffc00"/><stop offset="0.998" stop-color="#e8ff17"/></linearGradient><linearGradient id="gb15"><stop offset="0.000" stop-color="#91ff6e"/><stop offset="0.246" stop-color="#c2ff3d"/><stop offset="0.440" stop-color="#ffff00"/><stop offset="0.517" stop-color="#fffe00"/><stop offset="0.998" stop-color="#dfff20"/></linearGradient><linearGradient id="gb16"><stop offset="0.000" stop-color="#92ff6d"/><stop offset="0.246" stop-color="#c3ff3c"/><stop offset="0.429" stop-color="#fffe00"/><stop offset="0.515" stop-color="#ffff00"/><stop offset="0.695" stop-color="#e9ff16"/><stop offset="0.998" stop-color="#d4ff2b"/></linearGradient><linearGradient id="gb17"><stop offset="0.000" stop-color="#93ff6c"/><stop offset="0.246" stop-color="#c5ff3a"/><stop offset="0.417" stop-color="#fffe00"/><stop offset="0.535" stop-color="#f9ff06"/><stop offset="0.643" stop-color="#deff21"/><stop offset="0.998" stop-color="#c7ff38"/></linearGradient><linearGradient id="gb18"><stop offset="0.000" stop-color="#94ff6b"/><stop offset="0.246" stop-color="#c7ff38"/><stop offset="0.406" stop-color="#fffe00"/><stop offset="0.523" stop-color="#faff05"/><stop offset="0.626" stop-color="#ceff31"/><stop offset="0.998" stop-color="#b6ff49"/></linearGradient><linearGradient id="gb19"><stop offset="0.000" stop-color="#96ff69"/><stop offset="0.243" stop-color="#c8ff37"/><stop offset="0.397" stop-color="#ffff00"/><stop offset="0.509" stop-color="#faff05"/><stop offset="0.620" stop-color="#baff45"/><stop offset="0.998" stop-color="#a3ff5c"/></linearGradient><linearGradient id="gb20"><stop offset="0.000" stop-color="#97ff68"/><stop offset="0.240" stop-color="#caff35"/><stop offset="0.389" stop-color="#feff01"/><stop offset="0.500" stop-color="#f6ff09"/><stop offset="0.615" stop-color="#a6ff59"/><stop offset="0.998" stop-color="#90ff6f"/></linearGradient><linearGradient id="gb21"><stop offset="0.000" stop-color="#99ff66"/><stop offset="0.240" stop-color="#cdff32"/><stop offset="0.383" stop-color="#ffff00"/><stop offset="0.497" stop-color="#ecff13"/><stop offset="0.612" stop-color="#91ff6e"/><stop offset="0.998" stop-color="#7eff81"/></linearGradient><linearGradient id="gb22"><stop offset="0.000" stop-color="#9bff64"/><stop offset="0.243" stop-color="#d2ff2d"/><stop offset="0.374" stop-color="#fffc00"/><stop offset="0.472" stop-color="#eaff15"/><stop offset="0.509" stop-color="#d6ff29"/><stop offset="0.612" stop-color="#7aff85"/><stop offset="0.998" stop-color="#6cff93"/></linearGradient><linearGradient id="gb23"><stop offset="0.000" stop-color="#9dff62"/><stop offset="0.249" stop-color="#d8ff27"/><stop offset="0.369" stop-color="#fffa00"/><stop offset="0.406" stop-color="#f8ff07"/><stop offset="0.472" stop-color="#dfff20"/><stop offset="0.509" stop-color="#c9ff36"/><stop offset="0.612" stop-color="#61ff9e"/><stop offset="0.998" stop-color="#5bffa4"/></linearGradient><linearGradient id="gb24"><stop offset="0.000" stop-color="#9fff60"/><stop offset="0.254" stop-color="#deff21"/><stop offset="0.360" stop-color="#fffa00"/><stop offset="0.395" stop-color="#fffd00"/><stop offset="0.500" stop-color="#c2ff3d"/><stop offset="0.609" stop-color="#49ffb6"/><stop offset="0.998" stop-color="#49ffb6"/></linearGradient><linearGradient id="gb25"><stop offset="0.000" stop-color="#a1ff5e"/><stop offset="0.263" stop-color="#e5ff1a"/><stop offset="0.352" stop-color="#fffa00"/><stop offset="0.392" stop-color="#fffb00"/><stop offset="0.489" stop-color="#c0ff3f"/><stop offset="0.609" stop-color="#30ffcf"/><stop offset="0.998" stop-color="#37ffc8"/></linearGradient><linearGradient id="gb26"><stop offset="0.000" stop-color="#a3ff5c"/><stop offset="0.280" stop-color="#efff10"/><stop offset="0.346" stop-color="#fff800"/><stop offset="0.392" stop-color="#fffd00"/><stop offset="0.475" stop-color="#c4ff3b"/><stop offset="0.606" stop-color="#1affe5"/><stop offset="0.669" stop-color="#16ffe9"/><stop offset="0.998" stop-color="#22ffdd"/></linearGradient><linearGradient id="gb27"><stop offset="0.000" stop-color="#a4ff5b"/><stop offset="0.309" stop-color="#fdff02"/><stop offset="0.372" stop-color="#fff900"/><stop offset="0.409" stop-color="#f3ff0c"/><stop offset="0.469" stop-color="#c1ff3e"/><stop offset="0.603" stop-color="#06fff9"/><stop offset="0.675" stop-color="#00feff"/><stop offset="0.998" stop-color="#0cfff3"/></linearGradient><linearGradient id="gb28"><stop offset="0.000" stop-color="#a5ff5a"/><stop offset="0.320" stop-color="#fffa00"/><stop offset="0.392" stop-color="#f9ff06"/><stop offset="0.452" stop-color="#cbff34"/><stop offset="0.595" stop-color="#00faff"/><stop offset="0.623" stop-color="#00e6ff"/><stop offset="0.998" stop-color="#00f6ff"/></linearGradient><linearGradient id="gb29"><stop offset="0.000" stop-color="#a5ff5a"/><stop offset="0.306" stop-color="#fffb00"/><stop offset="0.380" stop-color="#f8ff07"/><stop offset="0.432" stop-color="#d8ff27"/><stop offset="0.517" stop-color="#62ff9d"/><stop offset="0.580" stop-color="#00feff"/><stop offset="0.612" stop-color="#00d6ff"/><stop offset="0.998" stop-color="#00e4ff"/></linearGradient><linearGradient id="gb30"><stop offset="0.000" stop-color="#a6ff59"/><stop offset="0.292" stop-color="#fffc00"/><stop offset="0.366" stop-color="#f7ff08"/><stop offset="0.417" stop-color="#deff21"/><stop offset="0.503" stop-color="#6aff95"/><stop offset="0.572" stop-color="#00faff"/><stop offset="0.609" stop-color="#00c4ff"/><stop offset="0.672" stop-color="#00c1ff"/><stop offset="0.998" stop-color="#00d2ff"/></linearGradient><linearGradient id="gb31"><stop offset="0.000" stop-color="#a6ff59"/><stop offset="0.274" stop-color="#fffc00"/><stop offset="0.352" stop-color="#f8ff07"/><stop offset="0.409" stop-color="#dfff20"/><stop offset="0.500" stop-color="#5fffa0"/><stop offset="0.560" stop-color="#00faff"/><stop offset="0.609" stop-color="#00b1ff"/><stop offset="0.672" stop-color="#00aeff"/><stop offset="0.998" stop-color="#00c0ff"/></linearGradient><linearGradient id="gb32"><stop offset="0.000" stop-color="#a6ff59"/><stop offset="0.260" stop-color="#fffc00"/><stop offset="0.303" stop-color="#fff900"/><stop offset="0.389" stop-color="#e9ff16"/><stop offset="0.420" stop-color="#c6ff39"/><stop offset="0.509" stop-color="#40ffbf"/><stop offset="0.546" stop-color="#00fbff"/><stop offset="0.609" stop-color="#009dff"/><stop offset="0.672" stop-color="#009aff"/><stop offset="0.998" stop-color="#00aeff"/></linearGradient><linearGradient id="gb33"><stop offset="0.000" stop-color="#a6ff59"/><stop offset="0.249" stop-color="#fffb00"/><stop offset="0.297" stop-color="#fff400"/><stop offset="0.332" stop-color="#f9ff06"/><stop offset="0.397" stop-color="#deff21"/><stop offset="0.503" stop-color="#37ffc8"/><stop offset="0.515" stop-color="#12ffed"/><stop offset="0.517" stop-color="#03fffc"/><stop offset="0.523" stop-color="#00daff"/><stop offset="0.535" stop-color="#0081ff"/><stop offset="0.543" stop-color="#0069ff"/><stop offset="0.560" stop-color="#005dff"/><stop offset="0.569" stop-color="#0077ff"/><stop offset="0.577" stop-color="#009cff"/><stop offset="0.586" stop-color="#00a3ff"/><stop offset="0.617" stop-color="#0084ff"/><stop offset="0.998" stop-color="#009bff"/></linearGradient><linearGradient id="gb34"><stop offset="0.000" stop-color="#a6ff59"/><stop offset="0.200" stop-color="#f2ff0d"/><stop offset="0.243" stop-color="#fff900"/><stop offset="0.294" stop-color="#ffee00"/><stop offset="0.326" stop-color="#faff05"/><stop offset="0.392" stop-color="#dfff20"/><stop offset="0.492" stop-color="#39ffc6"/><stop offset="0.497" stop-color="#1effe1"/><stop offset="0.500" stop-color="#06fff9"/><stop offset="0.503" stop-color="#00e6ff"/><stop offset="0.517" stop-color="#0025ff"/><stop offset="0.520" stop-color="#0005ff"/><stop offset="0.529" stop-color="#0000c2"/><stop offset="0.537" stop-color="#0000aa"/><stop offset="0.563" stop-color="#0000ac"/><stop offset="0.572" stop-color="#0000ce"/><stop offset="0.577" stop-color="#0000fd"/><stop offset="0.589" stop-color="#0069ff"/><stop offset="0.595" stop-color="#007eff"/><stop offset="0.632" stop-color="#0071ff"/><stop offset="0.998" stop-color="#0089ff"/></linearGradient><linearGradient id="gb35"><stop offset="0.000" stop-color="#a6ff59"/><stop offset="0.194" stop-color="#f0ff0f"/><stop offset="0.234" stop-color="#fff900"/><stop offset="0.294" stop-color="#ffe900"/><stop offset="0.326" stop-color="#faff05"/><stop offset="0.389" stop-color="#ddff22"/><stop offset="0.483" stop-color="#37ffc8"/><stop offset="0.489" stop-color="#19ffe6"/><stop offset="0.492" stop-color="#00faff"/><stop offset="0.495" stop-color="#00cdff"/><stop offset="0.503" stop-color="#0019ff"/><stop offset="0.506" stop-color="#0000e8"/><stop offset="0.509" stop-color="#0000c7"/><stop offset="0.515" stop-color="#0000a7"/><stop offset="0.532" stop-color="#00009b"/><stop offset="0.575" stop-color="#00009f"/><stop offset="0.580" stop-color="#0000af"/><stop offset="0.583" stop-color="#0000c4"/><stop offset="0.589" stop-color="#000aff"/><stop offset="0.595" stop-color="#004dff"/><stop offset="0.597" stop-color="#005eff"/><stop offset="0.603" stop-color="#0068ff"/><stop offset="0.640" stop-color="#0060ff"/><stop offset="0.966" stop-color="#0078ff"/><stop offset="0.998" stop-color="#0079ff"/></linearGradient><linearGradient id="gb36"><stop offset="0.000" stop-color="#a6ff59"/><stop offset="0.183" stop-color="#ebff14"/><stop offset="0.229" stop-color="#fff900"/><stop offset="0.292" stop-color="#ffe200"/><stop offset="0.326" stop-color="#fbff04"/><stop offset="0.386" stop-color="#daff25"/><stop offset="0.475" stop-color="#38ffc7"/><stop offset="0.480" stop-color="#1effe1"/><stop offset="0.483" stop-color="#02fffd"/><stop offset="0.486" stop-color="#00d4ff"/><stop offset="0.495" stop-color="#0018ff"/><stop offset="0.497" stop-color="#0000e5"/><stop offset="0.500" stop-color="#0000c2"/><stop offset="0.503" stop-color="#0000ad"/><stop offset="0.509" stop-color="#00009d"/><stop offset="0.580" stop-color="#00009e"/><stop offset="0.586" stop-color="#0000b2"/><stop offset="0.592" stop-color="#0000e8"/><stop offset="0.595" stop-color="#000cff"/><stop offset="0.600" stop-color="#0042ff"/><stop offset="0.606" stop-color="#0052ff"/><stop offset="0.689" stop-color="#0056ff"/><stop offset="0.998" stop-color="#006aff"/></linearGradient><linearGradient id="gb37"><stop offset="0.000" stop-color="#a4ff5b"/><stop offset="0.169" stop-color="#e2ff1d"/><stop offset="0.214" stop-color="#fffb00"/><stop offset="0.286" stop-color="#ffdb00"/><stop offset="0.312" stop-color="#ffef00"/><stop offset="0.329" stop-color="#fbff04"/><stop offset="0.380" stop-color="#d8ff27"/><stop offset="0.469" stop-color="#36ffc9"/><stop offset="0.475" stop-color="#1bffe4"/><stop offset="0.477" stop-color="#00fdff"/><stop offset="0.480" stop-color="#00ceff"/><stop offset="0.489" stop-color="#0008ff"/><stop offset="0.492" stop-color="#0000d5"/><stop offset="0.495" stop-color="#0000b5"/><stop offset="0.500" stop-color="#00009e"/><stop offset="0.583" stop-color="#00009d"/><stop offset="0.589" stop-color="#0000b0"/><stop offset="0.595" stop-color="#0000e6"/><stop offset="0.597" stop-color="#0009ff"/><stop offset="0.600" stop-color="#0026ff"/><stop offset="0.606" stop-color="#003fff"/><stop offset="0.978" stop-color="#005bff"/><stop offset="0.998" stop-color="#005bff"/></linearGradient><linearGradient id="gb38"><stop offset="0.000" stop-color="#a0ff5f"/><stop offset="0.163" stop-color="#daff25"/><stop offset="0.203" stop-color="#fffa00"/><stop offset="0.266" stop-color="#ffd400"/><stop offset="0.300" stop-color="#ffdc00"/><stop offset="0.332" stop-color="#faff05"/><stop offset="0.380" stop-color="#cdff32"/><stop offset="0.463" stop-color="#34ffcb"/><stop offset="0.469" stop-color="#15ffea"/><stop offset="0.472" stop-color="#00f5ff"/><stop offset="0.475" stop-color="#00c7ff"/><stop offset="0.483" stop-color="#0006ff"/><stop offset="0.486" stop-color="#0000d4"/><stop offset="0.489" stop-color="#0000b5"/><stop offset="0.495" stop-color="#00009e"/><stop offset="0.583" stop-color="#00009d"/><stop offset="0.589" stop-color="#0000ac"/><stop offset="0.595" stop-color="#0000dc"/><stop offset="0.597" stop-color="#0000fb"/><stop offset="0.603" stop-color="#0027ff"/><stop offset="0.612" stop-color="#0031ff"/><stop offset="0.998" stop-color="#004dff"/></linearGradient><linearGradient id="gb39"><stop offset="0.000" stop-color="#9dff62"/><stop offset="0.106" stop-color="#b9ff46"/><stop offset="0.163" stop-color="#d2ff2d"/><stop offset="0.197" stop-color="#fffc00"/><stop offset="0.249" stop-color="#ffc800"/><stop offset="0.289" stop-color="#ffce00"/><stop offset="0.332" stop-color="#fcff03"/><stop offset="0.383" stop-color="#bbff44"/><stop offset="0.449" stop-color="#42ffbd"/><stop offset="0.455" stop-color="#29ffd6"/><stop offset="0.457" stop-color="#11ffee"/><stop offset="0.460" stop-color="#00f1ff"/><stop offset="0.466" stop-color="#009bff"/><stop offset="0.475" stop-color="#0007ff"/><stop offset="0.480" stop-color="#0000bf"/><stop offset="0.486" stop-color="#0000a2"/><stop offset="0.515" stop-color="#00009b"/><stop offset="0.586" stop-color="#00009e"/><stop offset="0.592" stop-color="#0000b0"/><stop offset="0.600" stop-color="#0000fa"/><stop offset="0.606" stop-color="#001dff"/><stop offset="0.620" stop-color="#0022ff"/><stop offset="0.986" stop-color="#003fff"/><stop offset="0.998" stop-color="#0040ff"/></linearGradient><linearGradient id="gb40"><stop offset="0.000" stop-color="#9aff65"/><stop offset="0.083" stop-color="#a9ff56"/><stop offset="0.163" stop-color="#caff35"/><stop offset="0.194" stop-color="#fffd00"/><stop offset="0.243" stop-color="#ffb600"/><stop offset="0.274" stop-color="#ffbd00"/><stop offset="0.314" stop-color="#ffeb00"/><stop offset="0.332" stop-color="#f8ff07"/><stop offset="0.363" stop-color="#aaff55"/><stop offset="0.374" stop-color="#86ff79"/><stop offset="0.389" stop-color="#6aff95"/><stop offset="0.403" stop-color="#25ffda"/><stop offset="0.426" stop-color="#00feff"/><stop offset="0.435" stop-color="#00d6ff"/><stop offset="0.443" stop-color="#00a5ff"/><stop offset="0.449" stop-color="#008eff"/><stop offset="0.452" stop-color="#007aff"/><stop offset="0.457" stop-color="#0035ff"/><stop offset="0.460" stop-color="#000bff"/><stop offset="0.463" stop-color="#0000e4"/><stop offset="0.469" stop-color="#0000b3"/><stop offset="0.477" stop-color="#00009d"/><stop offset="0.586" stop-color="#00009d"/><stop offset="0.592" stop-color="#0000ab"/><stop offset="0.597" stop-color="#0000d5"/><stop offset="0.600" stop-color="#0000f0"/><stop offset="0.603" stop-color="#0007ff"/><stop offset="0.609" stop-color="#001aff"/><stop offset="0.998" stop-color="#0037ff"/></linearGradient><linearGradient id="gb41"><stop offset="0.000" stop-color="#97ff68"/><stop offset="0.089" stop-color="#a3ff5c"/><stop offset="0.163" stop-color="#bfff40"/><stop offset="0.189" stop-color="#f8ff07"/><stop offset="0.197" stop-color="#fff100"/><stop offset="0.237" stop-color="#ffa100"/><stop offset="0.254" stop-color="#ffa200"/><stop offset="0.294" stop-color="#ffd400"/><stop offset="0.320" stop-color="#fcff03"/><stop offset="0.326" stop-color="#e5ff1a"/><stop offset="0.332" stop-color="#b0ff4f"/><stop offset="0.337" stop-color="#53ffac"/><stop offset="0.340" stop-color="#1cffe3"/><stop offset="0.343" stop-color="#00e7ff"/><stop offset="0.346" stop-color="#00bcff"/><stop offset="0.349" stop-color="#009dff"/><stop offset="0.354" stop-color="#007dff"/><stop offset="0.363" stop-color="#0050ff"/><stop offset="0.372" stop-color="#001dff"/><stop offset="0.392" stop-color="#0000fe"/><stop offset="0.403" stop-color="#0000d3"/><stop offset="0.432" stop-color="#0000c2"/><stop offset="0.449" stop-color="#0000aa"/><stop offset="0.475" stop-color="#00009b"/><stop offset="0.586" stop-color="#00009d"/><stop offset="0.592" stop-color="#0000ab"/><stop offset="0.597" stop-color="#0000d5"/><stop offset="0.600" stop-color="#0000ef"/><stop offset="0.603" stop-color="#0006ff"/><stop offset="0.609" stop-color="#0019ff"/><stop offset="0.998" stop-color="#0035ff"/></linearGradient><linearGradient id="gb42"><stop offset="0.000" stop-color="#94ff6b"/><stop offset="0.103" stop-color="#9fff60"/><stop offset="0.163" stop-color="#b1ff4e"/><stop offset="0.180" stop-color="#d3ff2c"/><stop offset="0.194" stop-color="#fffa00"/><stop offset="0.232" stop-color="#ff8e00"/><stop offset="0.246" stop-color="#ff8700"/><stop offset="0.309" stop-color="#fffc00"/><stop offset="0.312" stop-color="#f8ff07"/><stop offset="0.314" stop-color="#e7ff18"/><stop offset="0.317" stop-color="#c7ff38"/><stop offset="0.320" stop-color="#96ff69"/><stop offset="0.323" stop-color="#53ffac"/><stop offset="0.326" stop-color="#07fff8"/><stop offset="0.332" stop-color="#0070ff"/><stop offset="0.334" stop-color="#0031ff"/><stop offset="0.337" stop-color="#0000fd"/><stop offset="0.340" stop-color="#0000d7"/><stop offset="0.343" stop-color="#0000bd"/><stop offset="0.349" stop-color="#0000a7"/><stop offset="0.397" stop-color="#00009b"/><stop offset="0.586" stop-color="#00009d"/><stop offset="0.592" stop-color="#0000ab"/><stop offset="0.597" stop-color="#0000d6"/><stop offset="0.600" stop-color="#0000f1"/><stop offset="0.603" stop-color="#0007ff"/><stop offset="0.609" stop-color="#001bff"/><stop offset="0.998" stop-color="#0037ff"/></linearGradient><linearGradient id="gb43"><stop offset="0.000" stop-color="#92ff6d"/><stop offset="0.143" stop-color="#9eff61"/><stop offset="0.172" stop-color="#acff53"/><stop offset="0.186" stop-color="#ceff31"/><stop offset="0.197" stop-color="#fbff04"/><stop offset="0.226" stop-color="#ff9300"/><stop offset="0.237" stop-color="#ff7f00"/><stop offset="0.249" stop-color="#ff8a00"/><stop offset="0.286" stop-color="#ffe300"/><stop offset="0.303" stop-color="#fbff04"/><stop offset="0.309" stop-color="#ebff14"/><stop offset="0.312" stop-color="#d7ff28"/><stop offset="0.314" stop-color="#b0ff4f"/><stop offset="0.317" stop-color="#69ff96"/><stop offset="0.320" stop-color="#05fffa"/><stop offset="0.326" stop-color="#002cff"/><stop offset="0.329" stop-color="#0000e2"/><stop offset="0.332" stop-color="#0000b9"/><stop offset="0.334" stop-color="#0000a6"/><stop offset="0.346" stop-color="#00009b"/><stop offset="0.586" stop-color="#00009d"/><stop offset="0.592" stop-color="#0000ab"/><stop offset="0.597" stop-color="#0000d6"/><stop offset="0.600" stop-color="#0000f2"/><stop offset="0.603" stop-color="#0009ff"/><stop offset="0.609" stop-color="#001dff"/><stop offset="0.998" stop-color="#003aff"/></linearGradient><linearGradient id="gb44"><stop offset="0.000" stop-color="#91ff6e"/><stop offset="0.157" stop-color="#98ff67"/><stop offset="0.180" stop-color="#a8ff57"/><stop offset="0.194" stop-color="#ceff31"/><stop offset="0.206" stop-color="#ffff00"/><stop offset="0.226" stop-color="#ffae00"/><stop offset="0.237" stop-color="#ffa100"/><stop offset="0.252" stop-color="#ffbb00"/><stop offset="0.274" stop-color="#ffec00"/><stop offset="0.292" stop-color="#faff05"/><stop offset="0.309" stop-color="#d7ff28"/><stop offset="0.312" stop-color="#c2ff3d"/><stop offset="0.314" stop-color="#98ff67"/><stop offset="0.317" stop-color="#4fffb0"/><stop offset="0.320" stop-color="#00e8ff"/><stop offset="0.323" stop-color="#0077ff"/><stop offset="0.326" stop-color="#0016ff"/><stop offset="0.329" stop-color="#0000d3"/><stop offset="0.332" stop-color="#0000b0"/><stop offset="0.337" stop-color="#00009e"/><stop offset="0.586" stop-color="#00009d"/><stop offset="0.592" stop-color="#0000ac"/><stop offset="0.597" stop-color="#0000d9"/><stop offset="0.600" stop-color="#0000f5"/><stop offset="0.606" stop-color="#001cff"/><stop offset="0.617" stop-color="#0024ff"/><stop offset="0.998" stop-color="#0040ff"/></linearGradient><linearGradient id="gb45"><stop offset="0.000" stop-color="#91ff6e"/><stop offset="0.157" stop-color="#92ff6d"/><stop offset="0.186" stop-color="#9eff61"/><stop offset="0.200" stop-color="#c0ff3f"/><stop offset="0.217" stop-color="#fffd00"/><stop offset="0.229" stop-color="#ffe300"/><stop offset="0.243" stop-color="#ffea00"/><stop offset="0.260" stop-color="#fbff04"/><stop offset="0.294" stop-color="#e3ff1c"/><stop offset="0.306" stop-color="#d0ff2f"/><stop offset="0.309" stop-color="#c4ff3b"/><stop offset="0.312" stop-color="#adff52"/><stop offset="0.314" stop-color="#81ff7e"/><stop offset="0.317" stop-color="#3fffc0"/><stop offset="0.320" stop-color="#00ebff"/><stop offset="0.323" stop-color="#0099ff"/><stop offset="0.326" stop-color="#0059ff"/><stop offset="0.329" stop-color="#0031ff"/><stop offset="0.332" stop-color="#001dff"/><stop offset="0.343" stop-color="#000fff"/><stop offset="0.420" stop-color="#0000f8"/><stop offset="0.586" stop-color="#0000cb"/><stop offset="0.592" stop-color="#0000d8"/><stop offset="0.597" stop-color="#0003ff"/><stop offset="0.603" stop-color="#0036ff"/><stop offset="0.609" stop-color="#004dff"/><stop offset="0.998" stop-color="#0067ff"/></linearGradient><linearGradient id="gb46"><stop offset="0.000" stop-color="#90ff6f"/><stop offset="0.166" stop-color="#8dff72"/><stop offset="0.194" stop-color="#97ff68"/><stop offset="0.226" stop-color="#d7ff28"/><stop offset="0.269" stop-color="#d8ff27"/><stop offset="0.297" stop-color="#d2ff2d"/><stop offset="0.312" stop-color="#bfff40"/><stop offset="0.329" stop-color="#7cff83"/><stop offset="0.377" stop-color="#49ffb6"/><stop offset="0.489" stop-color="#00faff"/><stop offset="0.592" stop-color="#00b6ff"/><stop offset="0.612" stop-color="#00c9ff"/><stop offset="0.998" stop-color="#00d5ff"/></linearGradient><linearGradient id="gb47"><stop offset="0.000" stop-color="#90ff6f"/><stop offset="0.186" stop-color="#87ff78"/><stop offset="0.214" stop-color="#9cff63"/><stop offset="0.289" stop-color="#beff41"/><stop offset="0.329" stop-color="#b2ff4d"/><stop offset="0.380" stop-color="#8bff74"/><stop offset="0.626" stop-color="#4effb1"/><stop offset="0.998" stop-color="#50ffaf"/></linearGradient><linearGradient id="gb48"><stop offset="0.000" stop-color="#90ff6f"/><stop offset="0.123" stop-color="#84ff7b"/><stop offset="0.206" stop-color="#86ff79"/><stop offset="0.329" stop-color="#a8ff57"/><stop offset="0.397" stop-color="#92ff6d"/><stop offset="0.858" stop-color="#87ff78"/><stop offset="0.998" stop-color="#86ff79"/></linearGradient><linearGradient id="gb49"><stop offset="0.000" stop-color="#90ff6f"/><stop offset="0.123" stop-color="#82ff7d"/><stop offset="0.197" stop-color="#82ff7d"/><stop offset="0.237" stop-color="#8aff75"/><stop offset="0.360" stop-color="#97ff68"/><stop offset="0.998" stop-color="#90ff6f"/></linearGradient><linearGradient id="gb50"><stop offset="0.000" stop-color="#90ff6f"/><stop offset="0.126" stop-color="#81ff7e"/><stop offset="0.194" stop-color="#82ff7d"/><stop offset="0.237" stop-color="#8cff73"/><stop offset="0.749" stop-color="#91ff6e"/><stop offset="0.998" stop-color="#91ff6e"/></linearGradient><linearGradient id="gb51"><stop offset="0.000" stop-color="#90ff6f"/><stop offset="0.134" stop-color="#80ff7f"/><stop offset="0.214" stop-color="#8aff75"/><stop offset="0.895" stop-color="#91ff6e"/><stop offset="0.998" stop-color="#91ff6e"/></linearGradient><linearGradient id="gb52"><stop offset="0.000" stop-color="#90ff6f"/><stop offset="0.177" stop-color="#83ff7c"/><stop offset="0.303" stop-color="#8fff70"/><stop offset="0.998" stop-color="#91ff6e"/></linearGradient><linearGradient id="gb53"><stop offset="0.000" stop-color="#90ff6f"/><stop offset="0.180" stop-color="#86ff79"/><stop offset="0.363" stop-color="#90ff6f"/><stop offset="0.998" stop-color="#91ff6e"/></linearGradient><linearGradient id="gb54"><stop offset="0.000" stop-color="#90ff6f"/><stop offset="0.183" stop-color="#89ff76"/><stop offset="0.460" stop-color="#91ff6e"/><stop offset="0.998" stop-color="#91ff6e"/></linearGradient><linearGradient id="gb55"><stop offset="0.000" stop-color="#90ff6f"/><stop offset="0.189" stop-color="#8cff73"/><stop offset="0.998" stop-color="#91ff6e"/></linearGradient><linearGradient id="gb56"><stop offset="0.000" stop-color="#90ff6f"/><stop offset="0.226" stop-color="#90ff6f"/><stop offset="0.998" stop-color="#91ff6e"/></linearGradient></defs><rect x="333.6" y="7.2" width="174.9" height="2.05" fill="url(#gb0)"/><rect x="333.6" y="9.2" width="174.9" height="2.05" fill="url(#gb1)"/><rect x="333.6" y="11.2" width="174.9" height="2.05" fill="url(#gb2)"/><rect x="333.6" y="13.2" width="174.9" height="2.05" fill="url(#gb3)"/><rect x="333.6" y="15.2" width="174.9" height="2.05" fill="url(#gb4)"/><rect x="333.6" y="17.2" width="174.9" height="2.05" fill="url(#gb5)"/><rect x="333.6" y="19.2" width="174.9" height="2.05" fill="url(#gb6)"/><rect x="333.6" y="21.2" width="174.9" height="2.05" fill="url(#gb7)"/><rect x="333.6" y="23.2" width="174.9" height="2.05" fill="url(#gb8)"/><rect x="333.6" y="25.2" width="174.9" height="2.05" fill="url(#gb9)"/><rect x="333.6" y="27.2" width="174.9" height="2.05" fill="url(#gb10)"/><rect x="333.6" y="29.2" width="174.9" height="2.05" fill="url(#gb11)"/><rect x="333.6" y="31.2" width="174.9" height="2.05" fill="url(#gb12)"/><rect x="333.6" y="33.2" width="174.9" height="2.05" fill="url(#gb13)"/><rect x="333.6" y="35.2" width="174.9" height="2.05" fill="url(#gb14)"/><rect x="333.6" y="37.2" width="174.9" height="2.05" fill="url(#gb15)"/><rect x="333.6" y="39.2" width="174.9" height="2.05" fill="url(#gb16)"/><rect x="333.6" y="41.2" width="174.9" height="2.05" fill="url(#gb17)"/><rect x="333.6" y="43.2" width="174.9" height="2.05" fill="url(#gb18)"/><rect x="333.6" y="45.2" width="174.9" height="2.05" fill="url(#gb19)"/><rect x="333.6" y="47.2" width="174.9" height="2.05" fill="url(#gb20)"/><rect x="333.6" y="49.2" width="174.9" height="2.05" fill="url(#gb21)"/><rect x="333.6" y="51.2" width="174.9" height="2.05" fill="url(#gb22)"/><rect x="333.6" y="53.2" width="174.9" height="2.05" fill="url(#gb23)"/><rect x="333.6" y="55.2" width="174.9" height="2.05" fill="url(#gb24)"/><rect x="333.6" y="57.2" width="174.9" height="2.05" fill="url(#gb25)"/><rect x="333.6" y="59.2" width="174.9" height="2.05" fill="url(#gb26)"/><rect x="333.6" y="61.2" width="174.9" height="2.05" fill="url(#gb27)"/><rect x="333.6" y="63.2" width="174.9" height="2.05" fill="url(#gb28)"/><rect x="333.6" y="65.2" width="174.9" height="2.05" fill="url(#gb29)"/><rect x="333.6" y="67.2" width="174.9" height="2.05" fill="url(#gb30)"/><rect x="333.6" y="69.2" width="174.9" height="2.05" fill="url(#gb31)"/><rect x="333.6" y="71.2" width="174.9" height="2.05" fill="url(#gb32)"/><rect x="333.6" y="73.2" width="174.9" height="2.05" fill="url(#gb33)"/><rect x="333.6" y="75.2" width="174.9" height="2.05" fill="url(#gb34)"/><rect x="333.6" y="77.2" width="174.9" height="2.05" fill="url(#gb35)"/><rect x="333.6" y="79.2" width="174.9" height="2.05" fill="url(#gb36)"/><rect x="333.6" y="81.2" width="174.9" height="2.05" fill="url(#gb37)"/><rect x="333.6" y="83.2" width="174.9" height="2.05" fill="url(#gb38)"/><rect x="333.6" y="85.2" width="174.9" height="2.05" fill="url(#gb39)"/><rect x="333.6" y="87.2" width="174.9" height="2.05" fill="url(#gb40)"/><rect x="333.6" y="89.2" width="174.9" height="2.05" fill="url(#gb41)"/><rect x="333.6" y="91.2" width="174.9" height="2.05" fill="url(#gb42)"/><rect x="333.6" y="93.2" width="174.9" height="2.05" fill="url(#gb43)"/><rect x="333.6" y="95.2" width="174.9" height="2.05" fill="url(#gb44)"/><rect x="333.6" y="97.2" width="174.9" height="2.05" fill="url(#gb45)"/><rect x="333.6" y="99.2" width="174.9" height="2.05" fill="url(#gb46)"/><rect x="333.6" y="101.2" width="174.9" height="2.05" fill="url(#gb47)"/><rect x="333.6" y="103.2" width="174.9" height="2.05" fill="url(#gb48)"/><rect x="333.6" y="105.2" width="174.9" height="2.05" fill="url(#gb49)"/><rect x="333.6" y="107.2" width="174.9" height="2.05" fill="url(#gb50)"/><rect x="333.6" y="109.2" width="174.9" height="2.05" fill="url(#gb51)"/><rect x="333.6" y="111.2" width="174.9" height="2.05" fill="url(#gb52)"/><rect x="333.6" y="113.2" width="174.9" height="2.05" fill="url(#gb53)"/><rect x="333.6" y="115.2" width="174.9" height="2.05" fill="url(#gb54)"/><rect x="333.6" y="117.2" width="174.9" height="2.05" fill="url(#gb55)"/><rect x="333.6" y="119.2" width="174.9" height="2.05" fill="url(#gb56)"/><rect x="333.6" y="121.2" width="174.9" height="2.05" fill="#90ff6f"/><rect x="333.6" y="123.2" width="174.9" height="2.05" fill="#90ff6f"/><rect x="333.6" y="125.2" width="174.9" height="2.05" fill="#90ff6f"/><rect x="333.6" y="127.2" width="174.9" height="2.05" fill="#90ff6f"/><rect x="333.6" y="129.2" width="174.9" height="2.05" fill="#91ff6e"/><rect x="333.6" y="131.2" width="174.9" height="2.05" fill="#91ff6e"/><rect x="333.6" y="133.2" width="174.9" height="2.05" fill="#91ff6e"/><rect x="333.6" y="135.2" width="174.9" height="2.05" fill="#91ff6e"/></g><path d="M376.6 88.7l-1.6 .3-1.4 .7-1.2 1.1-.3 .6 .5 .6 1.8 .7 1.6 .4 2 0 1.9-.2 1.6-.5 1-.6 .2-.3 0-.3-1.2-1.1-1.3-.8-1.6-.5-1.9-.1M507.6 20.9l-29.6 .3-20.4 .7-15.9 1.2-7.2 .9-6.7 1-6.7 1.4-6.6 1.6-6.5 1.9-6.4 2.3-6.3 2.6-6.2 2.8-6 3.1-6.2 3.6-6.4 4.2-5.8 4.2-5.6 4.6-4.7 4.3-4.1 4.4-3.4 4.5-2.7 4.4-2.1 4.3-1.1 3.8-.7 4-.1 3.6 .5 4.4 .9 5.5 1.1 3.8 2.4 6.8 2.9 7M507.6 57.5l-30 .2-20.8 .6-16.4 .9-13.9 1.6-12.2 2.1-11.6 2.9-8.8 2.9-17.3 6.3-3.6 1.5-3.6 1.9-2.8 2.2-2.6 2.5-1.9 2.6-1.4 2.8-1 3.1-.4 3.1-.1 4 .2 2.4 .7 2.7 1.4 2.9 1.6 2.8 2.1 2.9 2.5 3.1 6.3 6.2M383.2 8.2l-6.8 4.1-7.1 4.6-6.8 4.8-6.3 4.9-6.2 5.2-5.5 5.1-5.4 5.5-4.5 5M507.6 81.1l-42 .2-26 .7-18.7 1.3-8.4 .9-11.5 1.5-3.6 .3-2.4-.1-2.3-.4-7.3-2.1-2.8-.6-3.1-.3-2.8 .2-3.5 .9-3.1 1.9-1.5 1.3-1 1.3-1 1.7-.6 1.4-.5 2-.3 2 .3 4.3 .9 2.7 .9 1.3 1.3 1.5M378.4 107.7l7 3 9.5 3.2 12 3.3 12.8 3 14.9 3 16.5 3 18.6 3 20.6 3M507.6 38.6l-28.4 .3-20 .5-16 1.1-13.5 1.5-6.7 1.2-6.2 1.3-6.2 1.6-6.1 1.9-6.1 2.1-5.5 2.2-5.9 2.7-5.3 2.7-5.5 3.2-5.4 3.6-4.8 3.5-3.9 3.4-3.4 3.5-2.8 3.4-2.1 3.4-1.6 3.6-1 3.5-.5 3.5 .1 6.4 .4 3.2 1 3.8 1.7 4.5 2.3 4.7 2.5 4.5M427.4 8.2l-7.1 1.5-6.9 1.9-6.8 2.2-6.4 2.4-6.6 2.9-6.5 3.2-6.6 3.7-6.5 3.9-6.3 4.3-6.1 4.5-5.9 4.8-5.3 4.8-4.8 4.9-4.2 4.8-3.7 4.8-3 4.7M334.6 107.2l3.7 9.7M358.8 8.2l-6.6 5.2-6.1 5.2-5.9 5.4-5.4 5.4M368.7 96.2l.2-4 .3 0 2.3 1.6 2.2 .9 2.4 .4 3.2 .2 3.5-.3 2.7-.7 1.8-1 1.3-1.5-.2-.7-2.2-2.4-2-1.3-2.1-1.1-1.9-.5-2-.3-2 .2-1.9 .5-1.8 .8-1.6 1.3-1.3 1.5-.8 1.4-.6 1.5-.3 1.9-.1 2 .3 2.4M507.6 68.1l-28 .1-19.6 .4-15.2 .6-13.1 1-9.6 1.1-8.7 1.4-7.8 1.6-14 3.4-3.2 .4-7.1 .6-3.6 .4-3.1 .8-2.6 1.1-2.7 1.6-2.4 2.1-2 2.6-1.4 2.8-.8 3.1-.3 3.6 .3 3.6 .8 2.6 2.1 3.5 2.9 3.3 .2-.1 .5-1 3.9 4 4.7 3.7 6.1 3.9 7 3.8M507.6 47.8l-28.8 .3-20 .5-16 1-13.5 1.5-6.7 1-6.3 1.3-6.2 1.5-5.8 1.7-5.6 1.8-5.7 2.2-5.5 2.4-5.4 2.6-10.4 5.8-3.7 2.5-3.4 2.7-2.9 2.8-2.2 2.9-1.8 3.1-1.4 3.3-.7 3.1-.3 3.6 0 4.8 .6 3.1 1.5 4.2 2.1 4.3 2.7 4.4 3.1 4.2M507.6 29.6l-29.2 .3-20 .7-16.3 1.1-13.5 1.8-6.7 1.2-6.2 1.5-6.6 1.8-6.1 2-6 2.3-5.8 2.5-6.1 3-5.6 3.1-5.8 3.6-5.6 3.8-5.1 4-4.4 4-3.9 4-3.2 4.1-2.4 3.7-1.8 4-1.2 4.2-.5 4 0 4 .7 6.4 .9 3.5 1.6 4.9 2.2 5.1 2.2 4.7M507.6 12.2l-30 .4-20.4 .7-16.3 1.3-7.2 1-7.1 1.2-7 1.5-6.6 1.7-6.4 2.1-6.8 2.5-6.6 2.9-6.5 3.2-6.6 3.6-6.2 3.8-6.6 4.5-6.3 4.8-5.8 4.9-4.9 4.8-4.6 5-3.6 4.8-2.9 4.8-2.2 4.7-1.3 3.8-.7 3.9-.2 4 .4 4 1.3 6.6 1 3.9 2.5 7.2 3.1 7.8M399.8 8.2l-9.4 4.3-9.2 5-9.2 5.6-8.8 6.2-8.2 6.5-7.7 6.9-6.7 6.9-5.8 7.2M370.1 8.2l-9.7 7-9.4 7.5-8.3 7.4-7.9 8M348.6 8.2l-7.2 6.3-6.7 6.4M385.3 91.8l.1-.7-.8-.9-1.2-1.1-1.3-.9-1.5-.6-1.5-.4-2.8-.1M507.6 92.6l-63.6 .4-20 .4-20.4 .8-3.6 0-2-.3-1.4-.5-2.5-2.1-4.5-3.2-2.4-1.5-2.5-1.2-2.3-.8-2.3-.5-2-.1-2 .2M507.6 74l-40.8 .3-14 .4-11.6 .5-12 .8-10.7 1.2-8.3 1.3-12.2 2.3-3.5 .5-4 .1-9.6-.7-2.8 .2-2.7 .5M370.8 106.5l2.7 2.4 3.5 2.6 4.5 2.7 5.3 2.7 5.9 2.6 6.3 2.5 15.1 5.2M507.6 62.6l-30.8 .3-21.2 .5-16.4 .9-14.3 1.5-8.7 1.4-8.6 1.8-6.9 1.9-12.7 3.8-10.9 2.5-4.9 1.8-2.1 1.2-2.3 1.6M368.6 112.9l.6 0 4.9 4.8 6.3 4.9M507.6 52.6l-30.4 .2-20.8 .6-16.8 1.1-13.9 1.7-6.7 1.1-6.6 1.5-6.2 1.6-6.1 1.8-10.9 4.1-14.5 6.7-3.9 2.1-3.3 2.2-2.8 2.3-2.2 2.3-1.9 2.6-1.5 2.8-1 3-.6 3.2-.2 4.4 .1 2.8 .5 2.3 1.1 3 1.7 3.6 2.4 3.7 3.1 4.2 3.1 3.6M507.6 43.2l-28.4 .2-20 .6-16 1-13.5 1.5-6.7 1.1-6.2 1.3-6.3 1.5-5.7 1.7-5.7 1.9-6 2.4-5.4 2.4-5.4 2.7-5.6 3.1-5.4 3.4-4.5 3.3-3.7 3.1-3.1 3.2-2.4 3.1-1.9 3.1-1.4 3.3-.8 3.1-.4 3.6 0 5.6 .4 3.1 1.3 4.2 1.9 4.4 2.5 4.6 2.8 4.4M507.6 34.1l-28.8 .3-20 .6-16 1-13.4 1.7-6.7 1.2-6.3 1.4-6.2 1.6-6.1 1.9-6 2.2-5.9 2.5-5.8 2.7-5.3 2.8-5.8 3.5-5.4 3.5-4.8 3.7-4.5 3.9-3.6 3.7-3 3.7-2.4 3.7-1.7 3.7-1.2 3.8-.5 3.5 0 4 .5 6.4 .9 3.5 1.7 4.9 2.1 4.8 2.4 4.6M507.6 25.2l-29.2 .3-20.4 .7-15.9 1.2-7.2 .8-6.7 1-6.7 1.3-6.6 1.6-6.1 1.8-6.5 2.2-6.3 2.5-5.8 2.6-6.1 3.1-5.9 3.3-6.1 3.9-5.9 4.1-5 4-4.7 4.3-3.8 4.1-3.5 4.4-2.5 4.1-1.9 4-1.3 4.2-.6 4.3 .1 4 .8 6.4 .7 3.5 1.5 4.6 2.1 5.6 2.5 5.5M507.6 16.5l-30 .4-20.4 .7-16.3 1.3-7.2 .9-6.7 1.1-7 1.5-6.6 1.7-6.5 2-6.4 2.4-6.2 2.6-6.5 3.1-6 3.2-6.2 3.7-6.4 4.2-6.1 4.5-5.5 4.6-5.2 4.9-4.4 4.8-3.4 4.4-2.9 4.8-2.1 4.3-1.2 3.8-.7 3.9-.2 4 .4 4 1.2 6.3 1 3.9 2.5 7.1 3 7.5M482 8.2l-16 .4-13.2 .7-11.2 1-10.3 1.4-9.4 1.8-8.9 2.4-8.7 2.9-8.9 3.6-10 4.9-10.1 5.9-9.2 6.2-8.9 6.9-7.6 7.1-3.6 3.8-2.8 3.3-2.7 3.5-2.2 3.3-2 3.5-1.6 3.3M334.8 101.3l2.2 6.4 3.6 9.3M411 8.2l-10.9 4-10.9 5-10.9 6-10.7 7-10.2 7.7-4.5 3.9-4.4 4.1-4 4-3.7 4.1-3.3 4.1-2.8 3.9M390.9 8.2l-8.1 4.3-7.9 4.7-7.7 5.1-7.7 5.8-7.1 5.8-6.5 5.9-5.9 6-5.2 6.1M376.4 8.2l-11.6 7.8-11.1 8.5-5.2 4.5-5 4.6-4.5 4.5-4.3 4.7M364.3 8.2l-8 6-7.7 6.4-7.1 6.4-6.8 6.8M353.6 8.2l-9.8 8.3-9 8.5M343.8 8.2l-9.1 8.4M507.6 85.6l-40.4 .2-25.6 .5-19.2 .9-22.3 1.9-2.8-.1-2.3-.5-2.3-.8-3.3-1.4M507.6 77.3l-40.4 .3-25.2 .7-12 .8-10.3 1-8.3 1-14.3 2.3-3.6 .1-3.9-.5M386.2 113.9l5.9 2.4 6.4 2.3 14.9 4.5 18.3 4.6 20.7 4.5M507.6 70.9l-44 .5-14.4 .4-12.4 .7-9.5 .9-8.8 1-10.2 1.8-14.1 3-3.6 .5-4.4 0M393.2 122.6l5.9 2.5M507.6 65.3l-26.8 .2-19.2 .3-15.2 .6-12.7 1-11.2 1.3-10.2 1.7-8.6 1.9-12.7 3.5-5.1 1M507.6 60l-27.6 .2-19.6 .4-15.6 .8-13.1 1.1-11.9 1.7-11.4 2.3-9.2 2.6-14.5 4.8M507.6 55l-28.4 .2-20 .5-15.6 .9-13.5 1.3-12.6 2-11.7 2.8-10.7 3.4-11.9 4.8M507.6 50.2l-30 .2-20.8 .6-16.4 1.1-13.9 1.7-6.7 1.1-6.6 1.4-6.6 1.8-6.1 1.8-5.6 2.1-5.6 2.2-12.6 6.1M486.8 45.6l-23.2 .5-17.6 .9-14.3 1.5-6.7 1-6.3 1.2-6.6 1.5-6.2 1.7-6.1 2-6 2.3-5.8 2.5-5.4 2.7-5.6 3-5.5 3.4M475.6 41.2l-18.8 .6-14.8 1-12.7 1.5-11.8 2.2-5.8 1.4-5.7 1.7-11 3.9-5.5 2.4-5 2.4-5 2.7-4.8 2.8M388.7 95.7l1.9-.6 1.2-1 .6-1.5-.2-1.1M507.6 88.5l-40.8 .2-24.8 .4-18.4 .6-21.5 1.5-4-.3-3.1-.9M407 114.9l16.1 3.3 17.7 3 19.8 3 24.5 3.3M429.6 124.8l18.8 3.8 19.7 3.6M507.6 9l-24.4 .2M433.5 8.2l-4.8 .8M392.1 110.2l14 3.3M491.7 130.4l13.5 1.8M416.2 8.2l-6.5 2M416.6 126.5l7.7 2.1" fill="none" stroke="#000" stroke-opacity="0.55" stroke-width="0.5"/><path d="M344.2 7.9L343.2 10.1 341.9 8.6ZM363.1 9.1L361.9 11.2 360.7 9.6ZM381.3 9.3L379.9 11.3 378.9 9.6ZM398.8 8.6L397.2 10.4 396.4 8.6ZM416.7 8.1L414.8 9.6 414.3 7.7ZM434.8 8.0L432.7 9.3 432.4 7.4ZM452.9 9.3L450.8 10.4 450.7 8.5ZM470.9 8.5L468.7 9.5 468.7 7.5ZM488.9 9.2L486.7 10.2 486.7 8.2ZM506.9 9.0L504.7 10.0 504.7 8.0ZM345.7 23.1L344.7 25.4 343.4 23.9ZM362.2 21.9L361.1 24.0 359.9 22.4ZM380.5 21.9L379.1 23.9 378.1 22.2ZM398.1 21.2L396.5 23.0 395.7 21.2ZM417.0 23.1L415.1 24.7 414.6 22.7ZM435.0 23.9L433.0 25.2 432.7 23.2ZM452.9 22.1L450.8 23.3 450.7 21.3ZM470.9 21.4L468.8 22.4 468.7 20.4ZM488.9 21.0L486.7 22.0 486.7 20.0ZM345.1 36.3L344.2 38.5 342.9 37.1ZM361.6 34.6L360.5 36.7 359.2 35.2ZM379.8 34.5L378.5 36.4 377.4 34.7ZM399.4 37.2L397.8 38.9 397.0 37.1ZM416.9 35.9L415.0 37.4 414.6 35.4ZM435.0 36.9L433.0 38.2 432.7 36.2ZM452.9 35.3L450.8 36.4 450.7 34.4ZM470.9 34.5L468.8 35.6 468.7 33.6ZM344.9 49.5L344.1 51.8 342.6 50.4ZM363.2 49.7L362.1 51.9 360.9 50.3ZM380.9 50.0L379.5 52.0 378.5 50.3ZM398.9 49.9L397.2 51.6 396.5 49.8ZM416.9 48.9L415.0 50.3 414.5 48.4ZM435.0 50.3L432.9 51.6 432.7 49.6ZM452.9 48.9L450.8 50.0 450.7 48.0ZM470.9 50.6L468.7 51.6 468.7 49.6ZM488.9 50.3L486.7 51.3 486.7 49.3ZM506.9 50.2L504.7 51.2 504.7 49.2ZM345.0 63.0L344.5 65.3 342.9 64.1ZM362.5 62.7L361.5 64.9 360.2 63.4ZM380.6 62.4L379.2 64.3 378.2 62.6ZM398.7 62.7L396.9 64.4 396.3 62.5ZM416.8 62.4L414.8 63.8 414.4 61.9ZM435.0 62.2L432.9 63.4 432.7 61.4ZM452.9 63.5L450.8 64.6 450.7 62.6ZM470.9 63.0L468.7 64.0 468.7 62.0ZM488.9 62.7L486.7 63.7 486.7 61.7ZM506.9 62.6L504.7 63.6 504.7 61.6ZM343.8 75.5L343.8 77.9 342.0 77.0ZM362.0 75.4L361.2 77.7 359.8 76.3ZM380.7 76.3L378.8 77.8 378.4 75.9ZM398.7 76.0L396.8 77.5 396.3 75.6ZM417.0 77.4L415.0 78.7 414.7 76.7ZM434.9 75.6L432.8 76.7 432.7 74.8ZM452.9 77.9L450.8 79.0 450.7 77.0ZM470.9 77.6L468.7 78.6 468.7 76.6ZM488.9 77.4L486.7 78.4 486.7 76.4ZM506.9 77.3L504.7 78.3 504.7 76.4ZM342.9 89.3L343.9 91.5 341.9 91.5ZM360.5 88.8L360.8 91.2 358.9 90.6ZM381.4 89.8L379.0 89.8 379.8 88.0ZM399.0 91.1L396.6 91.6 397.0 89.7ZM416.9 90.1L414.8 91.3 414.7 89.3ZM434.9 89.3L432.8 90.3 432.7 88.4ZM452.9 88.8L450.7 89.9 450.7 87.9ZM470.9 88.6L468.7 89.7 468.7 87.7ZM488.9 88.6L486.7 89.6 486.7 87.6ZM506.9 88.5L504.7 89.5 504.7 87.5ZM343.1 105.6L341.5 103.8 343.3 103.2ZM360.9 105.8L359.2 104.1 361.0 103.4ZM343.6 118.8L341.9 117.2 343.7 116.4ZM361.4 119.2L359.3 117.9 361.0 116.8ZM380.6 118.3L378.2 117.9 379.3 116.2ZM398.6 118.6L396.2 118.8 396.9 117.0ZM416.9 117.0L414.5 117.5 414.9 115.6ZM452.9 132.3L450.5 132.8 450.9 130.9ZM471.0 129.4L468.7 130.0 469.0 128.1ZM488.8 132.0L486.5 132.7 486.8 130.7ZM506.5 132.3L504.2 133.0 504.4 131.1Z" fill="#000" fill-opacity="0.5"/></g>
<path d="M368.68,102.88 C370.18,99.38 373.13,96.39 378.13,95.79 L379.33,97.20 L507.50,97.20 L507.50,103.94 L371.18,103.94 Q368.68,103.94 368.68,102.88 Z" fill="#000" stroke="#fff" stroke-width="1.8" stroke-linejoin="round"/>
<path d="M368.68,102.88 C370.18,99.38 373.13,96.39 378.13,95.79 L379.33,97.20 L507.50,97.20 L507.50,103.94 L371.18,103.94 Q368.68,103.94 368.68,102.88 Z" fill="#000"/>
<rect x="334.60" y="8.20" width="172.90" height="124.10" fill="none" stroke="#b4b4b4" stroke-width="0.7"/>
<path d="M349.25,132.30v-1.7M349.25,8.20v1.7M367.07,132.30v-1.7M367.07,8.20v1.7M384.90,132.30v-1.7M384.90,8.20v1.7M402.72,132.30v-1.7M402.72,8.20v1.7M420.55,132.30v-1.7M420.55,8.20v1.7M438.38,132.30v-1.7M438.38,8.20v1.7M456.20,132.30v-1.7M456.20,8.20v1.7M474.02,132.30v-1.7M474.02,8.20v1.7M491.85,132.30v-1.7M491.85,8.20v1.7M334.60,114.58h1.7M507.50,114.58h-1.7M334.60,96.85h1.7M507.50,96.85h-1.7M334.60,79.12h1.7M507.50,79.12h-1.7M334.60,61.39h1.7M507.50,61.39h-1.7M334.60,43.66h1.7M507.50,43.66h-1.7M334.60,25.93h1.7M507.50,25.93h-1.7M334.60,8.20h1.7M507.50,8.20h-1.7" stroke="#b4b4b4" stroke-width="0.6" fill="none"/>
<defs><linearGradient id="jetb" x1="0" y1="0" x2="0" y2="1"><stop offset="0.0000" stop-color="#800000"/><stop offset="0.0312" stop-color="#9f0000"/><stop offset="0.0625" stop-color="#bf0000"/><stop offset="0.0938" stop-color="#df0000"/><stop offset="0.1250" stop-color="#ff0000"/><stop offset="0.1562" stop-color="#ff2000"/><stop offset="0.1875" stop-color="#ff4000"/><stop offset="0.2188" stop-color="#ff6000"/><stop offset="0.2500" stop-color="#ff8000"/><stop offset="0.2812" stop-color="#ff9f00"/><stop offset="0.3125" stop-color="#ffbf00"/><stop offset="0.3438" stop-color="#ffdf00"/><stop offset="0.3750" stop-color="#ffff00"/><stop offset="0.4062" stop-color="#dfff20"/><stop offset="0.4375" stop-color="#bfff40"/><stop offset="0.4688" stop-color="#9fff60"/><stop offset="0.5000" stop-color="#80ff80"/><stop offset="0.5312" stop-color="#60ff9f"/><stop offset="0.5625" stop-color="#40ffbf"/><stop offset="0.5938" stop-color="#20ffdf"/><stop offset="0.6250" stop-color="#00ffff"/><stop offset="0.6562" stop-color="#00dfff"/><stop offset="0.6875" stop-color="#00bfff"/><stop offset="0.7188" stop-color="#009fff"/><stop offset="0.7500" stop-color="#0080ff"/><stop offset="0.7812" stop-color="#0060ff"/><stop offset="0.8125" stop-color="#0040ff"/><stop offset="0.8438" stop-color="#0020ff"/><stop offset="0.8750" stop-color="#0000ff"/><stop offset="0.9062" stop-color="#0000df"/><stop offset="0.9375" stop-color="#0000bf"/><stop offset="0.9688" stop-color="#00009f"/><stop offset="1.0000" stop-color="#000080"/></linearGradient></defs>
<rect x="513.80" y="7.90" width="9.50" height="123.30" fill="url(#jetb)"/>
<g><text x="349.25" y="142.80" text-anchor="middle">100</text><text x="341.55" y="142.80" text-anchor="end">−</text><text x="367.07" y="142.80" text-anchor="middle">50</text><text x="361.48" y="142.80" text-anchor="end">−</text><text x="384.90" y="142.80" text-anchor="middle">0</text><text x="402.72" y="142.80" text-anchor="middle">50</text><text x="420.55" y="142.80" text-anchor="middle">100</text><text x="438.38" y="142.80" text-anchor="middle">150</text><text x="456.20" y="142.80" text-anchor="middle">200</text><text x="474.02" y="142.80" text-anchor="middle">250</text><text x="491.85" y="142.80" text-anchor="middle">300</text><text x="331.10" y="117.58" text-anchor="end">− 50</text><text x="331.10" y="99.85" text-anchor="end">0</text><text x="331.10" y="82.12" text-anchor="end">50</text><text x="331.10" y="64.39" text-anchor="end">100</text><text x="331.10" y="46.66" text-anchor="end">150</text><text x="331.10" y="28.93" text-anchor="end">200</text><text x="331.10" y="10.60" text-anchor="end">250</text><text x="526.40" y="10.40">1.5</text><text x="526.40" y="30.95">1</text><text x="526.40" y="51.50">0.5</text><text x="526.40" y="72.05">0</text><text x="526.40" y="92.60">− 0.5</text><text x="526.40" y="113.15">− 1</text><text x="526.40" y="133.70">− 1.5</text><text x="422.60" y="153.30" text-anchor="middle" style="font-size:8.8px">X (mm)</text><text transform="translate(314.80,67.00) rotate(-90)" text-anchor="middle" style="font-size:8.8px">Y(mm)</text><text x="426.40" y="170.90" text-anchor="middle" style="font-size:11px;fill:#1a1a1a">(<tspan style="font-weight:700">b</tspan>)</text></g>
<defs><clipPath id="clipc"><path d="M41.26,191.00 L218.21,191.00 L218.21,279.43 L92.60,279.43 L92.60,283.99 L41.26,283.99Z" clip-rule="evenodd"/></clipPath></defs><g clip-path="url(#clipc)"><g filter="url(#vb)"><defs><linearGradient id="gc0"><stop offset="0.000" stop-color="#a2ff5d"/><stop offset="0.498" stop-color="#afff50"/><stop offset="0.999" stop-color="#80ff7f"/></linearGradient><linearGradient id="gc1"><stop offset="0.000" stop-color="#a2ff5d"/><stop offset="0.496" stop-color="#afff50"/><stop offset="0.999" stop-color="#80ff7f"/></linearGradient><linearGradient id="gc2"><stop offset="0.000" stop-color="#a2ff5d"/><stop offset="0.496" stop-color="#afff50"/><stop offset="0.999" stop-color="#81ff7e"/></linearGradient><linearGradient id="gc3"><stop offset="0.000" stop-color="#a2ff5d"/><stop offset="0.496" stop-color="#afff50"/><stop offset="0.999" stop-color="#81ff7e"/></linearGradient><linearGradient id="gc4"><stop offset="0.000" stop-color="#a2ff5d"/><stop offset="0.496" stop-color="#afff50"/><stop offset="0.999" stop-color="#81ff7e"/></linearGradient><linearGradient id="gc5"><stop offset="0.000" stop-color="#a2ff5d"/><stop offset="0.493" stop-color="#afff50"/><stop offset="0.999" stop-color="#80ff7f"/></linearGradient><linearGradient id="gc6"><stop offset="0.000" stop-color="#a2ff5d"/><stop offset="0.490" stop-color="#b0ff4f"/><stop offset="0.999" stop-color="#80ff7f"/></linearGradient><linearGradient id="gc7"><stop offset="0.000" stop-color="#a3ff5c"/><stop offset="0.484" stop-color="#b2ff4d"/><stop offset="0.999" stop-color="#80ff7f"/></linearGradient><linearGradient id="gc8"><stop offset="0.000" stop-color="#a4ff5b"/><stop offset="0.473" stop-color="#b4ff4b"/><stop offset="0.999" stop-color="#7fff80"/></linearGradient><linearGradient id="gc9"><stop offset="0.000" stop-color="#a4ff5b"/><stop offset="0.465" stop-color="#b7ff48"/><stop offset="0.999" stop-color="#7eff81"/></linearGradient><linearGradient id="gc10"><stop offset="0.000" stop-color="#a5ff5a"/><stop offset="0.456" stop-color="#baff45"/><stop offset="0.999" stop-color="#7eff81"/></linearGradient><linearGradient id="gc11"><stop offset="0.000" stop-color="#a6ff59"/><stop offset="0.448" stop-color="#bdff42"/><stop offset="0.999" stop-color="#7dff82"/></linearGradient><linearGradient id="gc12"><stop offset="0.000" stop-color="#a7ff58"/><stop offset="0.428" stop-color="#bfff40"/><stop offset="0.801" stop-color="#95ff6a"/><stop offset="0.999" stop-color="#7cff83"/></linearGradient><linearGradient id="gc13"><stop offset="0.000" stop-color="#a8ff57"/><stop offset="0.395" stop-color="#c0ff3f"/><stop offset="0.630" stop-color="#aeff51"/><stop offset="0.999" stop-color="#7bff84"/></linearGradient><linearGradient id="gc14"><stop offset="0.000" stop-color="#a9ff56"/><stop offset="0.367" stop-color="#c1ff3e"/><stop offset="0.529" stop-color="#bbff44"/><stop offset="0.999" stop-color="#7aff85"/></linearGradient><linearGradient id="gc15"><stop offset="0.000" stop-color="#aaff55"/><stop offset="0.339" stop-color="#c2ff3d"/><stop offset="0.510" stop-color="#bfff40"/><stop offset="0.999" stop-color="#78ff87"/></linearGradient><linearGradient id="gc16"><stop offset="0.000" stop-color="#abff54"/><stop offset="0.311" stop-color="#c4ff3b"/><stop offset="0.504" stop-color="#c2ff3d"/><stop offset="0.999" stop-color="#77ff88"/></linearGradient><linearGradient id="gc17"><stop offset="0.000" stop-color="#acff53"/><stop offset="0.291" stop-color="#c6ff39"/><stop offset="0.501" stop-color="#c5ff3a"/><stop offset="0.999" stop-color="#74ff8b"/></linearGradient><linearGradient id="gc18"><stop offset="0.000" stop-color="#adff52"/><stop offset="0.280" stop-color="#c9ff36"/><stop offset="0.501" stop-color="#c7ff38"/><stop offset="0.999" stop-color="#72ff8d"/></linearGradient><linearGradient id="gc19"><stop offset="0.000" stop-color="#aeff51"/><stop offset="0.274" stop-color="#ccff33"/><stop offset="0.504" stop-color="#c9ff36"/><stop offset="0.999" stop-color="#70ff8f"/></linearGradient><linearGradient id="gc20"><stop offset="0.000" stop-color="#afff50"/><stop offset="0.269" stop-color="#cfff30"/><stop offset="0.504" stop-color="#cbff34"/><stop offset="0.999" stop-color="#6eff91"/></linearGradient><linearGradient id="gc21"><stop offset="0.000" stop-color="#b0ff4f"/><stop offset="0.266" stop-color="#d2ff2d"/><stop offset="0.504" stop-color="#cdff32"/><stop offset="0.999" stop-color="#6cff93"/></linearGradient><linearGradient id="gc22"><stop offset="0.000" stop-color="#b1ff4e"/><stop offset="0.263" stop-color="#d5ff2a"/><stop offset="0.496" stop-color="#d0ff2f"/><stop offset="0.999" stop-color="#6aff95"/></linearGradient><linearGradient id="gc23"><stop offset="0.000" stop-color="#b2ff4d"/><stop offset="0.260" stop-color="#d8ff27"/><stop offset="0.487" stop-color="#d2ff2d"/><stop offset="0.999" stop-color="#69ff96"/></linearGradient><linearGradient id="gc24"><stop offset="0.000" stop-color="#b3ff4c"/><stop offset="0.263" stop-color="#dcff23"/><stop offset="0.473" stop-color="#d6ff29"/><stop offset="0.999" stop-color="#67ff98"/></linearGradient><linearGradient id="gc25"><stop offset="0.000" stop-color="#b4ff4b"/><stop offset="0.269" stop-color="#e0ff1f"/><stop offset="0.462" stop-color="#daff25"/><stop offset="0.999" stop-color="#66ff99"/></linearGradient><linearGradient id="gc26"><stop offset="0.000" stop-color="#b5ff4a"/><stop offset="0.274" stop-color="#e5ff1a"/><stop offset="0.454" stop-color="#deff21"/><stop offset="0.999" stop-color="#66ff99"/></linearGradient><linearGradient id="gc27"><stop offset="0.000" stop-color="#b6ff49"/><stop offset="0.280" stop-color="#eaff15"/><stop offset="0.445" stop-color="#e3ff1c"/><stop offset="0.999" stop-color="#65ff9a"/></linearGradient><linearGradient id="gc28"><stop offset="0.000" stop-color="#b6ff49"/><stop offset="0.288" stop-color="#efff10"/><stop offset="0.437" stop-color="#e8ff17"/><stop offset="0.890" stop-color="#7dff82"/><stop offset="0.999" stop-color="#64ff9b"/></linearGradient><linearGradient id="gc29"><stop offset="0.000" stop-color="#b7ff48"/><stop offset="0.218" stop-color="#e9ff16"/><stop offset="0.344" stop-color="#f4ff0b"/><stop offset="0.456" stop-color="#e5ff1a"/><stop offset="0.859" stop-color="#83ff7c"/><stop offset="0.999" stop-color="#64ff9b"/></linearGradient><linearGradient id="gc30"><stop offset="0.000" stop-color="#b8ff47"/><stop offset="0.300" stop-color="#f9ff06"/><stop offset="0.423" stop-color="#f0ff0f"/><stop offset="0.857" stop-color="#83ff7c"/><stop offset="0.999" stop-color="#63ff9c"/></linearGradient><linearGradient id="gc31"><stop offset="0.000" stop-color="#b8ff47"/><stop offset="0.302" stop-color="#feff01"/><stop offset="0.414" stop-color="#f5ff0a"/><stop offset="0.876" stop-color="#7eff81"/><stop offset="0.999" stop-color="#62ff9d"/></linearGradient><linearGradient id="gc32"><stop offset="0.000" stop-color="#b9ff46"/><stop offset="0.291" stop-color="#fffe00"/><stop offset="0.412" stop-color="#f8ff07"/><stop offset="0.904" stop-color="#78ff87"/><stop offset="0.999" stop-color="#62ff9d"/></linearGradient><linearGradient id="gc33"><stop offset="0.000" stop-color="#baff45"/><stop offset="0.277" stop-color="#fffe00"/><stop offset="0.364" stop-color="#fff900"/><stop offset="0.468" stop-color="#edff12"/><stop offset="0.899" stop-color="#78ff87"/><stop offset="0.999" stop-color="#61ff9e"/></linearGradient><linearGradient id="gc34"><stop offset="0.000" stop-color="#baff45"/><stop offset="0.269" stop-color="#fffd00"/><stop offset="0.358" stop-color="#fff400"/><stop offset="0.445" stop-color="#f6ff09"/><stop offset="0.907" stop-color="#76ff89"/><stop offset="0.999" stop-color="#61ff9e"/></linearGradient><linearGradient id="gc35"><stop offset="0.000" stop-color="#baff45"/><stop offset="0.263" stop-color="#fffd00"/><stop offset="0.358" stop-color="#fff100"/><stop offset="0.448" stop-color="#f9ff06"/><stop offset="0.913" stop-color="#75ff8a"/><stop offset="0.999" stop-color="#63ff9c"/></linearGradient><linearGradient id="gc36"><stop offset="0.000" stop-color="#b9ff46"/><stop offset="0.260" stop-color="#fffd00"/><stop offset="0.361" stop-color="#ffed00"/><stop offset="0.454" stop-color="#faff05"/><stop offset="0.778" stop-color="#9aff65"/><stop offset="0.952" stop-color="#6fff90"/><stop offset="0.999" stop-color="#65ff9a"/></linearGradient><linearGradient id="gc37"><stop offset="0.000" stop-color="#b8ff47"/><stop offset="0.260" stop-color="#fffd00"/><stop offset="0.358" stop-color="#ffea00"/><stop offset="0.459" stop-color="#faff05"/><stop offset="0.507" stop-color="#e6ff19"/><stop offset="0.935" stop-color="#72ff8d"/><stop offset="0.999" stop-color="#68ff97"/></linearGradient><linearGradient id="gc38"><stop offset="0.000" stop-color="#b7ff48"/><stop offset="0.258" stop-color="#fffd00"/><stop offset="0.356" stop-color="#ffe700"/><stop offset="0.448" stop-color="#fff700"/><stop offset="0.473" stop-color="#f3ff0c"/><stop offset="0.521" stop-color="#e2ff1d"/><stop offset="0.689" stop-color="#b7ff48"/><stop offset="0.932" stop-color="#71ff8e"/><stop offset="0.999" stop-color="#6aff95"/></linearGradient><linearGradient id="gc39"><stop offset="0.000" stop-color="#b6ff49"/><stop offset="0.258" stop-color="#fffc00"/><stop offset="0.353" stop-color="#ffe400"/><stop offset="0.448" stop-color="#fff200"/><stop offset="0.473" stop-color="#f8ff07"/><stop offset="0.518" stop-color="#deff21"/><stop offset="0.635" stop-color="#caff35"/><stop offset="0.840" stop-color="#87ff78"/><stop offset="0.966" stop-color="#6eff91"/><stop offset="0.999" stop-color="#6cff93"/></linearGradient><linearGradient id="gc40"><stop offset="0.000" stop-color="#b5ff4a"/><stop offset="0.258" stop-color="#fffa00"/><stop offset="0.353" stop-color="#ffe100"/><stop offset="0.448" stop-color="#ffee00"/><stop offset="0.476" stop-color="#faff05"/><stop offset="0.524" stop-color="#daff25"/><stop offset="0.641" stop-color="#c9ff36"/><stop offset="0.817" stop-color="#8eff71"/><stop offset="0.969" stop-color="#6bff94"/><stop offset="0.999" stop-color="#6cff93"/></linearGradient><linearGradient id="gc41"><stop offset="0.000" stop-color="#b4ff4b"/><stop offset="0.255" stop-color="#fffa00"/><stop offset="0.356" stop-color="#ffdf00"/><stop offset="0.448" stop-color="#ffea00"/><stop offset="0.482" stop-color="#f9ff06"/><stop offset="0.535" stop-color="#d5ff2a"/><stop offset="0.652" stop-color="#c4ff3b"/><stop offset="0.809" stop-color="#8fff70"/><stop offset="0.980" stop-color="#69ff96"/><stop offset="0.999" stop-color="#6aff95"/></linearGradient><linearGradient id="gc42"><stop offset="0.000" stop-color="#b3ff4c"/><stop offset="0.255" stop-color="#fffb00"/><stop offset="0.356" stop-color="#ffdc00"/><stop offset="0.440" stop-color="#ffe500"/><stop offset="0.484" stop-color="#f9ff06"/><stop offset="0.543" stop-color="#d1ff2e"/><stop offset="0.691" stop-color="#b5ff4a"/><stop offset="0.893" stop-color="#78ff87"/><stop offset="0.999" stop-color="#66ff99"/></linearGradient><linearGradient id="gc43"><stop offset="0.000" stop-color="#b2ff4d"/><stop offset="0.246" stop-color="#fdff02"/><stop offset="0.356" stop-color="#ffdc00"/><stop offset="0.431" stop-color="#ffe200"/><stop offset="0.482" stop-color="#faff05"/><stop offset="0.554" stop-color="#caff35"/><stop offset="0.789" stop-color="#91ff6e"/><stop offset="0.999" stop-color="#62ff9d"/></linearGradient><linearGradient id="gc44"><stop offset="0.000" stop-color="#b1ff4e"/><stop offset="0.238" stop-color="#f7ff08"/><stop offset="0.286" stop-color="#fff200"/><stop offset="0.361" stop-color="#ffde00"/><stop offset="0.426" stop-color="#ffe800"/><stop offset="0.468" stop-color="#f9ff06"/><stop offset="0.560" stop-color="#c2ff3d"/><stop offset="0.999" stop-color="#60ff9f"/></linearGradient><linearGradient id="gc45"><stop offset="0.000" stop-color="#afff50"/><stop offset="0.232" stop-color="#f0ff0f"/><stop offset="0.283" stop-color="#fff700"/><stop offset="0.358" stop-color="#ffe800"/><stop offset="0.423" stop-color="#fffd00"/><stop offset="0.546" stop-color="#bcff43"/><stop offset="0.840" stop-color="#81ff7e"/><stop offset="0.890" stop-color="#77ff88"/><stop offset="0.929" stop-color="#64ff9b"/><stop offset="0.999" stop-color="#5effa1"/></linearGradient><linearGradient id="gc46"><stop offset="0.000" stop-color="#aeff51"/><stop offset="0.227" stop-color="#e8ff17"/><stop offset="0.308" stop-color="#fffc00"/><stop offset="0.381" stop-color="#f9ff06"/><stop offset="0.507" stop-color="#baff45"/><stop offset="0.764" stop-color="#86ff79"/><stop offset="0.885" stop-color="#7eff81"/><stop offset="0.918" stop-color="#61ff9e"/><stop offset="0.999" stop-color="#5effa1"/></linearGradient><linearGradient id="gc47"><stop offset="0.000" stop-color="#adff52"/><stop offset="0.176" stop-color="#d4ff2b"/><stop offset="0.322" stop-color="#e6ff19"/><stop offset="0.412" stop-color="#c9ff36"/><stop offset="0.552" stop-color="#a4ff5b"/><stop offset="0.767" stop-color="#82ff7d"/><stop offset="0.885" stop-color="#78ff87"/><stop offset="0.921" stop-color="#60ff9f"/><stop offset="0.999" stop-color="#5effa1"/></linearGradient><linearGradient id="gc48"><stop offset="0.000" stop-color="#adff52"/><stop offset="0.162" stop-color="#ccff33"/><stop offset="0.216" stop-color="#d5ff2a"/><stop offset="0.395" stop-color="#bbff44"/><stop offset="0.809" stop-color="#7aff85"/><stop offset="0.901" stop-color="#68ff97"/><stop offset="0.999" stop-color="#5effa1"/></linearGradient><linearGradient id="gc49"><stop offset="0.000" stop-color="#acff53"/><stop offset="0.168" stop-color="#caff35"/><stop offset="0.213" stop-color="#d2ff2d"/><stop offset="0.280" stop-color="#c6ff39"/><stop offset="0.999" stop-color="#5effa1"/></linearGradient><linearGradient id="gc50"><stop offset="0.000" stop-color="#abff54"/><stop offset="0.176" stop-color="#c8ff37"/><stop offset="0.218" stop-color="#cbff34"/><stop offset="0.999" stop-color="#5effa1"/></linearGradient><linearGradient id="gc51"><stop offset="0.000" stop-color="#aaff55"/><stop offset="0.230" stop-color="#c6ff39"/><stop offset="0.378" stop-color="#bbff44"/><stop offset="0.787" stop-color="#7cff83"/><stop offset="0.999" stop-color="#5effa1"/></linearGradient><linearGradient id="gc52"><stop offset="0.000" stop-color="#a9ff56"/><stop offset="0.092" stop-color="#b6ff49"/><stop offset="0.297" stop-color="#c8ff37"/><stop offset="0.412" stop-color="#baff45"/><stop offset="0.454" stop-color="#a9ff56"/><stop offset="0.770" stop-color="#8bff74"/><stop offset="0.806" stop-color="#6eff91"/><stop offset="0.999" stop-color="#5effa1"/></linearGradient><linearGradient id="gc53"><stop offset="0.000" stop-color="#a9ff56"/><stop offset="0.078" stop-color="#b0ff4f"/><stop offset="0.126" stop-color="#bcff43"/><stop offset="0.224" stop-color="#c4ff3b"/><stop offset="0.364" stop-color="#c8ff37"/><stop offset="0.409" stop-color="#c0ff3f"/><stop offset="0.440" stop-color="#a6ff59"/><stop offset="0.767" stop-color="#97ff68"/><stop offset="0.801" stop-color="#66ff99"/><stop offset="0.999" stop-color="#5effa1"/></linearGradient><linearGradient id="gc54"><stop offset="0.000" stop-color="#a8ff57"/><stop offset="0.078" stop-color="#b0ff4f"/><stop offset="0.118" stop-color="#bdff42"/><stop offset="0.221" stop-color="#c3ff3c"/><stop offset="0.302" stop-color="#caff35"/><stop offset="0.406" stop-color="#c5ff3a"/><stop offset="0.440" stop-color="#a3ff5c"/><stop offset="0.764" stop-color="#9dff62"/><stop offset="0.784" stop-color="#7cff83"/><stop offset="0.801" stop-color="#62ff9d"/><stop offset="0.999" stop-color="#5effa1"/></linearGradient><linearGradient id="gc55"><stop offset="0.000" stop-color="#a8ff57"/><stop offset="0.076" stop-color="#aeff51"/><stop offset="0.115" stop-color="#bdff42"/><stop offset="0.221" stop-color="#c3ff3c"/><stop offset="0.300" stop-color="#caff35"/><stop offset="0.406" stop-color="#c5ff3a"/><stop offset="0.440" stop-color="#a3ff5c"/><stop offset="0.764" stop-color="#9eff61"/><stop offset="0.781" stop-color="#83ff7c"/><stop offset="0.798" stop-color="#63ff9c"/><stop offset="0.966" stop-color="#5effa1"/><stop offset="0.999" stop-color="#5effa1"/></linearGradient><linearGradient id="gc56"><stop offset="0.000" stop-color="#a8ff57"/><stop offset="0.076" stop-color="#aeff51"/><stop offset="0.115" stop-color="#bdff42"/><stop offset="0.221" stop-color="#c3ff3c"/><stop offset="0.300" stop-color="#caff35"/><stop offset="0.406" stop-color="#c5ff3a"/><stop offset="0.440" stop-color="#a3ff5c"/><stop offset="0.764" stop-color="#9eff61"/><stop offset="0.781" stop-color="#83ff7c"/><stop offset="0.798" stop-color="#63ff9c"/><stop offset="0.963" stop-color="#5effa1"/><stop offset="0.999" stop-color="#5effa1"/></linearGradient><linearGradient id="gc57"><stop offset="0.000" stop-color="#a8ff57"/><stop offset="0.076" stop-color="#aeff51"/><stop offset="0.115" stop-color="#bdff42"/><stop offset="0.221" stop-color="#c3ff3c"/><stop offset="0.300" stop-color="#caff35"/><stop offset="0.406" stop-color="#c5ff3a"/><stop offset="0.440" stop-color="#a3ff5c"/><stop offset="0.764" stop-color="#9eff61"/><stop offset="0.781" stop-color="#83ff7c"/><stop offset="0.798" stop-color="#63ff9c"/><stop offset="0.963" stop-color="#5dffa2"/><stop offset="0.999" stop-color="#5dffa2"/></linearGradient><linearGradient id="gc58"><stop offset="0.000" stop-color="#a8ff57"/><stop offset="0.076" stop-color="#aeff51"/><stop offset="0.115" stop-color="#bdff42"/><stop offset="0.221" stop-color="#c3ff3c"/><stop offset="0.300" stop-color="#caff35"/><stop offset="0.406" stop-color="#c5ff3a"/><stop offset="0.440" stop-color="#a3ff5c"/><stop offset="0.764" stop-color="#9eff61"/><stop offset="0.781" stop-color="#83ff7c"/><stop offset="0.798" stop-color="#63ff9c"/><stop offset="0.963" stop-color="#5dffa2"/><stop offset="0.999" stop-color="#5dffa2"/></linearGradient><linearGradient id="gc59"><stop offset="0.000" stop-color="#a8ff57"/><stop offset="0.076" stop-color="#aeff51"/><stop offset="0.115" stop-color="#bdff42"/><stop offset="0.221" stop-color="#c3ff3c"/><stop offset="0.300" stop-color="#caff35"/><stop offset="0.406" stop-color="#c5ff3a"/><stop offset="0.440" stop-color="#a3ff5c"/><stop offset="0.764" stop-color="#9eff61"/><stop offset="0.781" stop-color="#83ff7c"/><stop offset="0.798" stop-color="#63ff9c"/><stop offset="0.963" stop-color="#5dffa2"/><stop offset="0.999" stop-color="#5dffa2"/></linearGradient><linearGradient id="gc60"><stop offset="0.000" stop-color="#a8ff57"/><stop offset="0.076" stop-color="#aeff51"/><stop offset="0.115" stop-color="#bdff42"/><stop offset="0.221" stop-color="#c3ff3c"/><stop offset="0.300" stop-color="#caff35"/><stop offset="0.406" stop-color="#c5ff3a"/><stop offset="0.440" stop-color="#a3ff5c"/><stop offset="0.764" stop-color="#9eff61"/><stop offset="0.781" stop-color="#83ff7c"/><stop offset="0.798" stop-color="#63ff9c"/><stop offset="0.963" stop-color="#5dffa2"/><stop offset="0.999" stop-color="#5dffa2"/></linearGradient><linearGradient id="gc61"><stop offset="0.000" stop-color="#a8ff57"/><stop offset="0.076" stop-color="#aeff51"/><stop offset="0.115" stop-color="#bdff42"/><stop offset="0.221" stop-color="#c3ff3c"/><stop offset="0.300" stop-color="#caff35"/><stop offset="0.406" stop-color="#c5ff3a"/><stop offset="0.440" stop-color="#a3ff5c"/><stop offset="0.764" stop-color="#9eff61"/><stop offset="0.781" stop-color="#83ff7c"/><stop offset="0.798" stop-color="#63ff9c"/><stop offset="0.963" stop-color="#5dffa2"/><stop offset="0.999" stop-color="#5dffa2"/></linearGradient><linearGradient id="gc62"><stop offset="0.000" stop-color="#a8ff57"/><stop offset="0.076" stop-color="#aeff51"/><stop offset="0.115" stop-color="#bdff42"/><stop offset="0.221" stop-color="#c3ff3c"/><stop offset="0.300" stop-color="#caff35"/><stop offset="0.406" stop-color="#c5ff3a"/><stop offset="0.440" stop-color="#a3ff5c"/><stop offset="0.764" stop-color="#9eff61"/><stop offset="0.781" stop-color="#83ff7c"/><stop offset="0.798" stop-color="#63ff9c"/><stop offset="0.963" stop-color="#5dffa2"/><stop offset="0.999" stop-color="#5dffa2"/></linearGradient><linearGradient id="gc63"><stop offset="0.000" stop-color="#a8ff57"/><stop offset="0.076" stop-color="#aeff51"/><stop offset="0.115" stop-color="#bdff42"/><stop offset="0.221" stop-color="#c3ff3c"/><stop offset="0.300" stop-color="#caff35"/><stop offset="0.406" stop-color="#c5ff3a"/><stop offset="0.440" stop-color="#a3ff5c"/><stop offset="0.764" stop-color="#9eff61"/><stop offset="0.781" stop-color="#83ff7c"/><stop offset="0.798" stop-color="#63ff9c"/><stop offset="0.963" stop-color="#5dffa2"/><stop offset="0.999" stop-color="#5dffa2"/></linearGradient><linearGradient id="gc64"><stop offset="0.000" stop-color="#a8ff57"/><stop offset="0.076" stop-color="#aeff51"/><stop offset="0.115" stop-color="#bdff42"/><stop offset="0.221" stop-color="#c3ff3c"/><stop offset="0.300" stop-color="#caff35"/><stop offset="0.406" stop-color="#c5ff3a"/><stop offset="0.440" stop-color="#a3ff5c"/><stop offset="0.764" stop-color="#9eff61"/><stop offset="0.781" stop-color="#83ff7c"/><stop offset="0.798" stop-color="#63ff9c"/><stop offset="0.963" stop-color="#5dffa2"/><stop offset="0.999" stop-color="#5dffa2"/></linearGradient><linearGradient id="gc65"><stop offset="0.000" stop-color="#a8ff57"/><stop offset="0.076" stop-color="#aeff51"/><stop offset="0.115" stop-color="#bdff42"/><stop offset="0.221" stop-color="#c3ff3c"/><stop offset="0.300" stop-color="#caff35"/><stop offset="0.406" stop-color="#c5ff3a"/><stop offset="0.440" stop-color="#a3ff5c"/><stop offset="0.764" stop-color="#9eff61"/><stop offset="0.781" stop-color="#83ff7c"/><stop offset="0.798" stop-color="#63ff9c"/><stop offset="0.963" stop-color="#5dffa2"/><stop offset="0.999" stop-color="#5dffa2"/></linearGradient></defs><rect x="40.3" y="180.8" width="178.6" height="2.05" fill="url(#gc0)"/><rect x="40.3" y="182.8" width="178.6" height="2.05" fill="url(#gc1)"/><rect x="40.3" y="184.8" width="178.6" height="2.05" fill="url(#gc2)"/><rect x="40.3" y="186.8" width="178.6" height="2.05" fill="url(#gc3)"/><rect x="40.3" y="188.8" width="178.6" height="2.05" fill="url(#gc4)"/><rect x="40.3" y="190.8" width="178.6" height="2.05" fill="url(#gc5)"/><rect x="40.3" y="192.8" width="178.6" height="2.05" fill="url(#gc6)"/><rect x="40.3" y="194.8" width="178.6" height="2.05" fill="url(#gc7)"/><rect x="40.3" y="196.8" width="178.6" height="2.05" fill="url(#gc8)"/><rect x="40.3" y="198.8" width="178.6" height="2.05" fill="url(#gc9)"/><rect x="40.3" y="200.8" width="178.6" height="2.05" fill="url(#gc10)"/><rect x="40.3" y="202.8" width="178.6" height="2.05" fill="url(#gc11)"/><rect x="40.3" y="204.8" width="178.6" height="2.05" fill="url(#gc12)"/><rect x="40.3" y="206.8" width="178.6" height="2.05" fill="url(#gc13)"/><rect x="40.3" y="208.8" width="178.6" height="2.05" fill="url(#gc14)"/><rect x="40.3" y="210.8" width="178.6" height="2.05" fill="url(#gc15)"/><rect x="40.3" y="212.8" width="178.6" height="2.05" fill="url(#gc16)"/><rect x="40.3" y="214.8" width="178.6" height="2.05" fill="url(#gc17)"/><rect x="40.3" y="216.8" width="178.6" height="2.05" fill="url(#gc18)"/><rect x="40.3" y="218.8" width="178.6" height="2.05" fill="url(#gc19)"/><rect x="40.3" y="220.8" width="178.6" height="2.05" fill="url(#gc20)"/><rect x="40.3" y="222.8" width="178.6" height="2.05" fill="url(#gc21)"/><rect x="40.3" y="224.8" width="178.6" height="2.05" fill="url(#gc22)"/><rect x="40.3" y="226.8" width="178.6" height="2.05" fill="url(#gc23)"/><rect x="40.3" y="228.8" width="178.6" height="2.05" fill="url(#gc24)"/><rect x="40.3" y="230.8" width="178.6" height="2.05" fill="url(#gc25)"/><rect x="40.3" y="232.8" width="178.6" height="2.05" fill="url(#gc26)"/><rect x="40.3" y="234.8" width="178.6" height="2.05" fill="url(#gc27)"/><rect x="40.3" y="236.8" width="178.6" height="2.05" fill="url(#gc28)"/><rect x="40.3" y="238.8" width="178.6" height="2.05" fill="url(#gc29)"/><rect x="40.3" y="240.8" width="178.6" height="2.05" fill="url(#gc30)"/><rect x="40.3" y="242.8" width="178.6" height="2.05" fill="url(#gc31)"/><rect x="40.3" y="244.8" width="178.6" height="2.05" fill="url(#gc32)"/><rect x="40.3" y="246.8" width="178.6" height="2.05" fill="url(#gc33)"/><rect x="40.3" y="248.8" width="178.6" height="2.05" fill="url(#gc34)"/><rect x="40.3" y="250.8" width="178.6" height="2.05" fill="url(#gc35)"/><rect x="40.3" y="252.8" width="178.6" height="2.05" fill="url(#gc36)"/><rect x="40.3" y="254.8" width="178.6" height="2.05" fill="url(#gc37)"/><rect x="40.3" y="256.8" width="178.6" height="2.05" fill="url(#gc38)"/><rect x="40.3" y="258.8" width="178.6" height="2.05" fill="url(#gc39)"/><rect x="40.3" y="260.8" width="178.6" height="2.05" fill="url(#gc40)"/><rect x="40.3" y="262.8" width="178.6" height="2.05" fill="url(#gc41)"/><rect x="40.3" y="264.8" width="178.6" height="2.05" fill="url(#gc42)"/><rect x="40.3" y="266.8" width="178.6" height="2.05" fill="url(#gc43)"/><rect x="40.3" y="268.8" width="178.6" height="2.05" fill="url(#gc44)"/><rect x="40.3" y="270.8" width="178.6" height="2.05" fill="url(#gc45)"/><rect x="40.3" y="272.8" width="178.6" height="2.05" fill="url(#gc46)"/><rect x="40.3" y="274.8" width="178.6" height="2.05" fill="url(#gc47)"/><rect x="40.3" y="276.8" width="178.6" height="2.05" fill="url(#gc48)"/><rect x="40.3" y="278.8" width="178.6" height="2.05" fill="url(#gc49)"/><rect x="40.3" y="280.8" width="178.6" height="2.05" fill="url(#gc50)"/><rect x="40.3" y="282.8" width="178.6" height="2.05" fill="url(#gc51)"/><rect x="40.3" y="284.8" width="178.6" height="2.05" fill="url(#gc52)"/><rect x="40.3" y="286.8" width="178.6" height="2.05" fill="url(#gc53)"/><rect x="40.3" y="288.8" width="178.6" height="2.05" fill="url(#gc54)"/><rect x="40.3" y="290.8" width="178.6" height="2.05" fill="url(#gc55)"/><rect x="40.3" y="292.8" width="178.6" height="2.05" fill="url(#gc56)"/><rect x="40.3" y="294.8" width="178.6" height="2.05" fill="url(#gc57)"/><rect x="40.3" y="296.8" width="178.6" height="2.05" fill="url(#gc58)"/><rect x="40.3" y="298.8" width="178.6" height="2.05" fill="url(#gc59)"/><rect x="40.3" y="300.8" width="178.6" height="2.05" fill="url(#gc60)"/><rect x="40.3" y="302.8" width="178.6" height="2.05" fill="url(#gc61)"/><rect x="40.3" y="304.8" width="178.6" height="2.05" fill="url(#gc62)"/><rect x="40.3" y="306.8" width="178.6" height="2.05" fill="url(#gc63)"/><rect x="40.3" y="308.8" width="178.6" height="2.05" fill="url(#gc64)"/><rect x="40.3" y="310.8" width="178.6" height="2.05" fill="url(#gc65)"/></g><path d="M150 258.8l68-.2M138 261.5l80-.1M126 264.2l91.6 0M114 267l103.6 0M102 269.8l115.6 0M92.8 271.8l-1.7-1-2.3-.8-2.3-.6-2.4-.2-2 .2-1.5 .5-1.3 .8-.8 .9M217.8 245.9l-17.1-1.6-18.6-2.6-19.3-3.4-50.3-9.8-14.2-2.3-10.7-1.2-4-.2-7.2 .2-6.4 .5-6 .8-5.9 1.1-5.8 1.3-5.4 1.6-5.3 1.8M145 258.5l-36.8-7.9-10.6-2-7.9-1.2-5.2-.4-5.5 .2-6 .7-5.5 1.2-3.4 1.1-3.3 1.3-2.9 1.5-2.7 1.7-1.8 1.6-2 2-1.4 1.9-1 2.2-.6 1.9-.4 2.4 .1 2.3 .4 2.8 .9 3.1 1.3 2.9 1.5 2.9 1.9 3M217.8 219.9l-13.2-1.1-14.7-1.8-15.8-2.2-52.9-8.3-17.9-2.3-13.5-1.3-5.2-.3-5.2 0-13.6 .8-12.3 1.6-12.2 2.4M114.3 264l-16.8-4-6.6-1.2-4.8-.6-3.2-.1-4 .4-3.5 .7-3.4 1.2-3.5 1.9-2.4 2.1-1.8 2.6-.6 1.5-.4 1.6 0 3.1 1 3.5 1.8 3.5 2.8 3.4M199.5 256l-15.5-2.1-16.9-2.9-15.7-3-33.3-6.9-13.8-2.6-11-1.8-7.6-.8-6 .1-6.4 .5-6.3 .9-6.3 1.3-5.3 1.6-5.3 2-4.6 2.2-4.1 2.6M217.8 233.4l-15.1-1.4-16.7-2.2-17.4-2.9-51.5-9.2-15.9-2.4-12.3-1.4-4.8-.2-5.6 .1-6.8 .3-6.3 .6-6.4 .9-5.9 1-5.8 1.3-5.8 1.5M217.8 205.3l-11.6-.8-13.1-1.3-69.1-8.4-19.1-2-15.2-1.1-5.1-.2-5.6 0-13.2 .7-12.4 1.4-11.8 1.9M100.7 267l-9.3-2.4-4-.7-3.1-.3-3.2 .2-2.8 .6-2.6 1.1-2 1.3-1.9 2-1 2.2-.2 2.4 .5 2.7 1.4 2.5 2.1 2.3 2.7 1.8 2.5 1.1M130.5 261.5l-26.1-5.9-9.5-1.8-6.7-1-4.4-.3-4.8 .3-4.7 .7-4.3 1.1-2.6 1-2.5 1.1-2.1 1.3-1.9 1.4-1.5 1.4-1.3 1.5-1 1.7-.8 1.9-.4 1.9-.2 2 .2 2 .4 2.3 .8 2.3 1.1 2.6 1.4 2.4 1.6 2.3M162 256l-45.4-9.4-13.8-2.7-13-2-4.4-.4-3.6 0-7.2 .5-6.7 1-6.6 1.7-5.6 2.1-5 2.5-4.2 3.1-3 3.1-2.1 3.4M41.3 272.1l2.3 5.6 3.4 5.9M217.8 251.8l-17.9-1.6-19.8-2.8-20.1-3.7-49.8-9.9-13.4-2.2-10-1.1-5.2-.1-6.8 .3-6.3 .7-5.9 .9-5.9 1.4-5.4 1.5-5.2 1.9-4.8 2.1M217.8 239.7l-15.9-1.4-17.9-2.5-18.1-3.1-51.1-9.6-15-2.3-11.5-1.3-4.4-.3-6.8 .2-6.4 .4-6.4 .7-5.9 1-5.9 1.2-5.8 1.4-5.4 1.6M217.8 226.7l-13.9-1.2-15.9-2-16.6-2.6-52.1-8.8-16.6-2.3-13.1-1.4-5.2-.3-5.2 .1-6.8 .3-6.8 .6-12.3 1.7-11.7 2.5M217.8 212.7l-12.4-.9-13.9-1.5-15.1-2-53.8-7.6-18.3-2.2-14.3-1.2-5.2-.2-5.2 0-13.6 .7-12.3 1.4-12.2 2.2M217.8 197.6l-12-.7-13.5-1.1-42.6-4.5M98.7 270.2l-5.2-2-5.8-1.4-4.4-.4-3.5 .7-1.9 .7-1.3 .9-1.1 1.2-.9 1.3-.4 1.6 0 1.6 .5 1.5 1 1.7M78 279.8l2.1 1.1 2.3 .6 9.6 .1M111 266.6l-6.5-1.9-7.4-1.8-5.9-1.2-4.7-.7-3.2-.1-3.2 .2-3.1 .7-3 1.1-3.1 1.8-2 2-.9 1.3-.6 1.5-.5 2.8 .5 3.1 1.2 2.9 2.1 3 2.7 2.4M123.5 263l-21.8-5-8.2-1.6-6-.9-4-.2-4.4 .3-3.9 .6-3.8 1.1-4.4 2-3.3 2.3-1.4 1.5-1.1 1.6-.9 1.8-.5 1.5-.3 2 .1 2 .3 2 .5 1.9 1.9 4 2.8 3.9M134.8 259.3l-30.1-6.5-9.5-1.7-7.1-1.1-4.4-.2-5.6 .3-5.1 .7-5 1.3-3.1 1.1-2.5 1.1-2.4 1.4-2.3 1.7-1.8 1.6-1.5 1.8-1 1.7-.8 1.9-.5 1.9-.2 2.4 .2 2.4 .5 2.4 .8 2.6 1.2 2.6 3.1 5.1M148.8 256.3l-40.3-8.5-11-2-8.3-1.2-5.2-.4-6.4 .3-6.3 .8-5.9 1.3-3.8 1.2-3.3 1.4-3.2 1.6-2.8 1.7-2.5 1.9-1.9 2-1.7 2.3-1.1 2.1-.7 2.3-.3 2.4 .1 2.8 .5 2.7 .9 3.1 1.2 3 1.7 3.2 2 3.4M177.7 255.8l-21.2-3.9-50.6-10.3-12.6-2.1-8.8-.8-6.7 .2-6.4 .6-6.3 1.2-5.8 1.5-5.3 1.9-4.7 2.2-4.1 2.5-3.7 3M217.8 254.8l-9.2-.7-9.1-1-20.2-2.9-20.5-3.7-49.8-10-13-2.2-9.5-1.1-5.2-.1-6.8 .4-6.4 .8-5.9 1.1-5.8 1.4-5.3 1.7-4.8 2-4.7 2.3M217.8 248.9l-17.5-1.7-19-2.6-19.7-3.5-50.3-9.9-13.8-2.3-10.3-1.2-4.4-.1-7.2 .2-6.4 .6-5.9 .9-5.9 1.2-5.4 1.4-5.3 1.7-5.3 2M217.8 242.8l-16.3-1.5-18.3-2.5-18.9-3.3-50.7-9.7-14.6-2.3-11.1-1.3-4-.2-7.2 .2-6.4 .5-5.9 .7-5.9 1-5.9 1.2-5.8 1.6-5.3 1.7M217.8 236.6l-15.5-1.4-17.1-2.3-18.1-3.1-51.2-9.4-15.4-2.4-11.9-1.3-4.4-.2-6.4 .1-6.4 .4-6.4 .6-6.3 .9-5.9 1.1-5.8 1.4-5.4 1.5M217.8 230.1l-14.3-1.3-16.3-2.1-17.4-2.8-51.6-9-16.2-2.3-12.8-1.4-4.7-.3-6 .1-6.8 .4-6.4 .5-12.3 1.8-11.7 2.7M217.8 223.3l-13.5-1.1-15.5-1.9-16.3-2.5-52.1-8.5-17-2.3-13.5-1.3-5.2-.3-5.2 0-6.8 .3-6.8 .5-12.3 1.6-12.1 2.5M217.8 216.3l-12.8-1-14.3-1.6-15.8-2.2-53-7.9-17.9-2.2-13.9-1.3-5.2-.3-5.2 .1-13.6 .7-12.3 1.5-12.2 2.2M217.8 209l-12-.8-13.5-1.4-69-9.1-18.7-2-14.7-1.2-5.2-.2-5.6 0-13.2 .7-12.3 1.4-12.3 2.1M49.3 191.3l-7.9 1.3M217.8 201.5l-13.2-.9-15.1-1.4-50.5-5.8-19.5-2.1M217.8 193.7l-15.2-.9-17.9-1.5M181.9 192l-7.2-.7M41.5 279.4l2.4 4.1M41.8 261.7l-.4 2-.1 2.4 .3 2.4 .5 2.3" fill="none" stroke="#000" stroke-opacity="0.65" stroke-width="0.6"/><path d="M54.7 193.4L52.1 195.0 51.8 192.5ZM74.6 191.7L71.9 193.1 71.8 190.6ZM94.6 192.0L91.7 193.1 91.9 190.6ZM114.5 193.8L111.6 194.8 111.9 192.2ZM134.7 192.9L131.8 193.9 132.1 191.3ZM154.6 191.8L151.6 192.8 151.9 190.3ZM174.4 194.0L171.5 194.9 171.8 192.4ZM194.7 192.2L191.8 193.2 192.0 190.7ZM214.7 193.5L211.8 194.6 212.0 192.1ZM54.7 201.9L52.1 203.6 51.7 201.1ZM74.7 202.8L71.9 204.2 71.8 201.7ZM94.6 203.3L91.7 204.3 92.0 201.8ZM114.4 202.6L111.5 203.5 111.8 201.0ZM134.6 202.3L131.6 203.1 132.0 200.6ZM154.7 201.9L151.8 202.7 152.1 200.2ZM174.9 201.1L172.0 202.0 172.3 199.5ZM194.4 203.4L191.4 204.3 191.7 201.8ZM214.7 201.3L211.8 202.4 212.0 199.9ZM54.2 210.6L51.7 212.4 51.2 209.9ZM74.5 211.2L71.8 212.6 71.7 210.1ZM94.5 211.7L91.6 212.6 91.8 210.1ZM114.7 211.4L111.7 212.3 112.1 209.8ZM134.7 211.6L131.8 212.4 132.2 209.9ZM154.8 211.7L151.9 212.5 152.3 210.0ZM174.6 211.4L171.6 212.3 172.0 209.8ZM194.4 214.1L191.5 215.0 191.8 212.5ZM214.7 212.5L211.8 213.6 212.0 211.1ZM54.5 222.2L52.1 224.0 51.5 221.6ZM74.8 222.3L72.1 223.8 71.9 221.3ZM94.4 222.9L91.4 223.8 91.7 221.3ZM114.5 223.1L111.5 223.8 111.9 221.4ZM134.9 220.8L131.9 221.5 132.4 219.0ZM154.5 221.2L151.6 222.0 152.0 219.5ZM174.6 221.5L171.7 222.3 172.1 219.8ZM194.8 221.1L191.9 222.0 192.2 219.5ZM214.3 223.1L211.4 224.1 211.6 221.6ZM54.4 231.2L52.0 233.2 51.3 230.7ZM74.5 230.7L71.9 232.2 71.6 229.7ZM94.5 231.3L91.5 232.2 91.8 229.7ZM114.6 231.8L111.6 232.5 112.0 230.0ZM134.2 232.6L131.2 233.3 131.7 230.8ZM154.6 230.6L151.6 231.3 152.1 228.8ZM174.6 231.1L171.7 231.9 172.1 229.4ZM194.8 231.0L191.9 231.9 192.2 229.4ZM214.3 233.1L211.4 234.1 211.6 231.6ZM54.7 240.5L52.5 242.6 51.6 240.3ZM74.7 241.9L72.1 243.6 71.8 241.1ZM94.2 242.5L91.3 243.3 91.6 240.8ZM114.6 240.4L111.6 241.1 112.1 238.7ZM134.6 241.6L131.6 242.2 132.1 239.8ZM154.2 242.6L151.2 243.3 151.7 240.8ZM174.6 240.4L171.7 241.2 172.1 238.7ZM194.8 240.5L191.9 241.4 192.2 238.9ZM214.3 242.6L211.4 243.6 211.6 241.1ZM55.1 250.7L53.4 253.2 52.1 251.1ZM74.6 250.5L72.1 252.3 71.6 249.8ZM94.5 250.9L91.6 251.7 92.0 249.3ZM114.2 251.9L111.2 252.5 111.7 250.1ZM134.7 250.4L131.7 251.0 132.2 248.6ZM154.6 251.6L151.6 252.2 152.1 249.8ZM174.2 252.3L171.3 253.0 171.7 250.6ZM194.8 249.5L191.9 250.4 192.2 247.9ZM214.7 251.6L211.8 252.7 212.0 250.1ZM55.1 259.8L54.6 262.8 52.5 261.4ZM74.3 259.5L72.2 261.6 71.2 259.3ZM94.9 259.5L91.9 260.2 92.3 257.7ZM114.7 260.9L111.7 261.5 112.2 259.0ZM134.9 259.3L131.8 260.0 132.4 257.5ZM154.5 261.5L151.7 262.7 151.7 260.2ZM174.5 261.5L171.7 262.7 171.7 260.2ZM194.5 261.4L191.7 262.7 191.7 260.2ZM214.5 261.4L211.7 262.7 211.7 260.1ZM52.1 271.6L50.6 268.9 53.1 268.7ZM72.5 267.7L72.1 270.8 70.0 269.5ZM95.1 268.7L92.1 269.0 92.8 266.6ZM114.5 269.8L111.7 271.1 111.7 268.5ZM134.5 269.8L131.7 271.1 131.7 268.5ZM154.5 269.8L151.7 271.1 151.7 268.5ZM174.5 269.8L171.7 271.1 171.7 268.5ZM194.5 269.8L191.7 271.1 191.7 268.5ZM214.5 269.8L211.7 271.1 211.7 268.5ZM52.6 281.4L50.1 279.6 52.3 278.4ZM74.0 280.5L71.3 279.1 73.2 277.5Z" fill="#000" fill-opacity="0.75"/></g>
<path d="M76.03,278.35 C77.53,274.85 80.68,271.71 85.68,271.11 L86.88,272.56 L217.90,272.56 L217.90,279.43 L78.53,279.43 Q76.03,279.43 76.03,278.35 Z" fill="#000" stroke="#fff" stroke-width="3.6" stroke-linejoin="round"/>
<path d="M76.03,278.35 C77.53,274.85 80.68,271.71 85.68,271.11 L86.88,272.56 L217.90,272.56 L217.90,279.43 L78.53,279.43 Q76.03,279.43 76.03,278.35 Z" fill="#000"/>
<rect x="41.30" y="181.80" width="176.60" height="126.60" fill="none" stroke="#b4b4b4" stroke-width="0.7"/>
<path d="M56.19,308.40v-1.7M56.19,181.80v1.7M74.39,308.40v-1.7M74.39,181.80v1.7M92.60,308.40v-1.7M92.60,181.80v1.7M110.80,308.40v-1.7M110.80,181.80v1.7M129.01,308.40v-1.7M129.01,181.80v1.7M147.21,308.40v-1.7M147.21,181.80v1.7M165.42,308.40v-1.7M165.42,181.80v1.7M183.62,308.40v-1.7M183.62,181.80v1.7M201.83,308.40v-1.7M201.83,181.80v1.7M41.30,290.28h1.7M217.90,290.28h-1.7M41.30,272.20h1.7M217.90,272.20h-1.7M41.30,254.11h1.7M217.90,254.11h-1.7M41.30,236.03h1.7M217.90,236.03h-1.7M41.30,217.94h1.7M217.90,217.94h-1.7M41.30,199.86h1.7M217.90,199.86h-1.7M41.30,181.77h1.7M217.90,181.77h-1.7" stroke="#b4b4b4" stroke-width="0.6" fill="none"/>
<defs><linearGradient id="jetc" x1="0" y1="0" x2="0" y2="1"><stop offset="0.0000" stop-color="#800000"/><stop offset="0.0312" stop-color="#9f0000"/><stop offset="0.0625" stop-color="#bf0000"/><stop offset="0.0938" stop-color="#df0000"/><stop offset="0.1250" stop-color="#ff0000"/><stop offset="0.1562" stop-color="#ff2000"/><stop offset="0.1875" stop-color="#ff4000"/><stop offset="0.2188" stop-color="#ff6000"/><stop offset="0.2500" stop-color="#ff8000"/><stop offset="0.2812" stop-color="#ff9f00"/><stop offset="0.3125" stop-color="#ffbf00"/><stop offset="0.3438" stop-color="#ffdf00"/><stop offset="0.3750" stop-color="#ffff00"/><stop offset="0.4062" stop-color="#dfff20"/><stop offset="0.4375" stop-color="#bfff40"/><stop offset="0.4688" stop-color="#9fff60"/><stop offset="0.5000" stop-color="#80ff80"/><stop offset="0.5312" stop-color="#60ff9f"/><stop offset="0.5625" stop-color="#40ffbf"/><stop offset="0.5938" stop-color="#20ffdf"/><stop offset="0.6250" stop-color="#00ffff"/><stop offset="0.6562" stop-color="#00dfff"/><stop offset="0.6875" stop-color="#00bfff"/><stop offset="0.7188" stop-color="#009fff"/><stop offset="0.7500" stop-color="#0080ff"/><stop offset="0.7812" stop-color="#0060ff"/><stop offset="0.8125" stop-color="#0040ff"/><stop offset="0.8438" stop-color="#0020ff"/><stop offset="0.8750" stop-color="#0000ff"/><stop offset="0.9062" stop-color="#0000df"/><stop offset="0.9375" stop-color="#0000bf"/><stop offset="0.9688" stop-color="#00009f"/><stop offset="1.0000" stop-color="#000080"/></linearGradient></defs>
<rect x="224.20" y="182.00" width="9.80" height="126.50" fill="url(#jetc)"/>
<g><text x="56.19" y="318.90" text-anchor="middle">100</text><text x="48.49" y="318.90" text-anchor="end">−</text><text x="74.39" y="318.90" text-anchor="middle">50</text><text x="68.79" y="318.90" text-anchor="end">−</text><text x="92.60" y="318.90" text-anchor="middle">0</text><text x="110.80" y="318.90" text-anchor="middle">50</text><text x="129.01" y="318.90" text-anchor="middle">100</text><text x="147.21" y="318.90" text-anchor="middle">150</text><text x="165.42" y="318.90" text-anchor="middle">200</text><text x="183.62" y="318.90" text-anchor="middle">250</text><text x="201.83" y="318.90" text-anchor="middle">300</text><text x="36.80" y="293.28" text-anchor="end">− 50</text><text x="36.80" y="275.20" text-anchor="end">0</text><text x="36.80" y="257.12" text-anchor="end">50</text><text x="36.80" y="239.03" text-anchor="end">100</text><text x="36.80" y="220.94" text-anchor="end">150</text><text x="36.80" y="202.86" text-anchor="end">200</text><text x="36.80" y="184.17" text-anchor="end">250</text><text x="236.90" y="184.50">1.5</text><text x="236.90" y="205.58">1</text><text x="236.90" y="226.67">0.5</text><text x="236.90" y="247.75">0</text><text x="236.90" y="268.83">− 0.5</text><text x="236.90" y="289.92">− 1</text><text x="236.90" y="311.00">− 1.5</text><text x="130.60" y="330.20" text-anchor="middle" style="font-size:8.8px">X (mm)</text><text transform="translate(20.00,242.00) rotate(-90)" text-anchor="middle" style="font-size:8.8px">Y(mm)</text><text x="134.20" y="346.90" text-anchor="middle" style="font-size:11px;fill:#1a1a1a">(<tspan style="font-weight:700">c</tspan>)</text></g>
<defs><clipPath id="clipd"><path d="M333.68,191.96 L508.84,191.96 L508.84,279.35 L384.50,279.35 L384.50,283.85 L333.68,283.85Z" clip-rule="evenodd"/></clipPath></defs><g clip-path="url(#clipd)"><g filter="url(#vb)"><defs><linearGradient id="gd0"><stop offset="0.000" stop-color="#91ff6e"/><stop offset="0.269" stop-color="#a4ff5b"/><stop offset="0.653" stop-color="#e9ff16"/><stop offset="0.874" stop-color="#f3ff0c"/><stop offset="0.998" stop-color="#e7ff18"/></linearGradient><linearGradient id="gd1"><stop offset="0.000" stop-color="#91ff6e"/><stop offset="0.260" stop-color="#a3ff5c"/><stop offset="0.659" stop-color="#e9ff16"/><stop offset="0.871" stop-color="#f3ff0c"/><stop offset="0.998" stop-color="#e7ff18"/></linearGradient><linearGradient id="gd2"><stop offset="0.000" stop-color="#91ff6e"/><stop offset="0.260" stop-color="#a3ff5c"/><stop offset="0.659" stop-color="#e9ff16"/><stop offset="0.871" stop-color="#f3ff0c"/><stop offset="0.998" stop-color="#e7ff18"/></linearGradient><linearGradient id="gd3"><stop offset="0.000" stop-color="#91ff6e"/><stop offset="0.260" stop-color="#a3ff5c"/><stop offset="0.659" stop-color="#e9ff16"/><stop offset="0.871" stop-color="#f3ff0c"/><stop offset="0.998" stop-color="#e7ff18"/></linearGradient><linearGradient id="gd4"><stop offset="0.000" stop-color="#91ff6e"/><stop offset="0.260" stop-color="#a4ff5b"/><stop offset="0.659" stop-color="#e9ff16"/><stop offset="0.871" stop-color="#f3ff0c"/><stop offset="0.998" stop-color="#e7ff18"/></linearGradient><linearGradient id="gd5"><stop offset="0.000" stop-color="#91ff6e"/><stop offset="0.257" stop-color="#a4ff5b"/><stop offset="0.656" stop-color="#e9ff16"/><stop offset="0.871" stop-color="#f2ff0d"/><stop offset="0.998" stop-color="#e6ff19"/></linearGradient><linearGradient id="gd6"><stop offset="0.000" stop-color="#92ff6d"/><stop offset="0.255" stop-color="#a5ff5a"/><stop offset="0.639" stop-color="#e7ff18"/><stop offset="0.871" stop-color="#f0ff0f"/><stop offset="0.998" stop-color="#e4ff1b"/></linearGradient><linearGradient id="gd7"><stop offset="0.000" stop-color="#92ff6d"/><stop offset="0.255" stop-color="#a7ff58"/><stop offset="0.614" stop-color="#e4ff1b"/><stop offset="0.868" stop-color="#eeff11"/><stop offset="0.998" stop-color="#e2ff1d"/></linearGradient><linearGradient id="gd8"><stop offset="0.000" stop-color="#93ff6c"/><stop offset="0.257" stop-color="#aaff55"/><stop offset="0.583" stop-color="#e0ff1f"/><stop offset="0.865" stop-color="#ebff14"/><stop offset="0.998" stop-color="#dfff20"/></linearGradient><linearGradient id="gd9"><stop offset="0.000" stop-color="#93ff6c"/><stop offset="0.263" stop-color="#aeff51"/><stop offset="0.554" stop-color="#dcff23"/><stop offset="0.863" stop-color="#e9ff16"/><stop offset="0.998" stop-color="#dcff23"/></linearGradient><linearGradient id="gd10"><stop offset="0.000" stop-color="#94ff6b"/><stop offset="0.269" stop-color="#b1ff4e"/><stop offset="0.529" stop-color="#d9ff26"/><stop offset="0.857" stop-color="#e6ff19"/><stop offset="0.998" stop-color="#d9ff26"/></linearGradient><linearGradient id="gd11"><stop offset="0.000" stop-color="#95ff6a"/><stop offset="0.274" stop-color="#b5ff4a"/><stop offset="0.492" stop-color="#d3ff2c"/><stop offset="0.829" stop-color="#e4ff1b"/><stop offset="0.998" stop-color="#d4ff2b"/></linearGradient><linearGradient id="gd12"><stop offset="0.000" stop-color="#96ff69"/><stop offset="0.277" stop-color="#b7ff48"/><stop offset="0.438" stop-color="#ccff33"/><stop offset="0.781" stop-color="#e0ff1f"/><stop offset="0.998" stop-color="#ccff33"/></linearGradient><linearGradient id="gd13"><stop offset="0.000" stop-color="#97ff68"/><stop offset="0.283" stop-color="#bbff44"/><stop offset="0.424" stop-color="#caff35"/><stop offset="0.775" stop-color="#dbff24"/><stop offset="0.998" stop-color="#c2ff3d"/></linearGradient><linearGradient id="gd14"><stop offset="0.000" stop-color="#98ff67"/><stop offset="0.294" stop-color="#bfff40"/><stop offset="0.444" stop-color="#c9ff36"/><stop offset="0.761" stop-color="#d5ff2a"/><stop offset="0.998" stop-color="#b7ff48"/></linearGradient><linearGradient id="gd15"><stop offset="0.000" stop-color="#99ff66"/><stop offset="0.407" stop-color="#caff35"/><stop offset="0.749" stop-color="#ceff31"/><stop offset="0.998" stop-color="#abff54"/></linearGradient><linearGradient id="gd16"><stop offset="0.000" stop-color="#9aff65"/><stop offset="0.407" stop-color="#caff35"/><stop offset="0.727" stop-color="#c9ff36"/><stop offset="0.998" stop-color="#a0ff5f"/></linearGradient><linearGradient id="gd17"><stop offset="0.000" stop-color="#9bff64"/><stop offset="0.404" stop-color="#caff35"/><stop offset="0.710" stop-color="#c3ff3c"/><stop offset="0.998" stop-color="#95ff6a"/></linearGradient><linearGradient id="gd18"><stop offset="0.000" stop-color="#9cff63"/><stop offset="0.404" stop-color="#c9ff36"/><stop offset="0.690" stop-color="#bdff42"/><stop offset="0.998" stop-color="#8aff75"/></linearGradient><linearGradient id="gd19"><stop offset="0.000" stop-color="#9cff63"/><stop offset="0.399" stop-color="#c8ff37"/><stop offset="0.662" stop-color="#b9ff46"/><stop offset="0.998" stop-color="#81ff7e"/></linearGradient><linearGradient id="gd20"><stop offset="0.000" stop-color="#9cff63"/><stop offset="0.393" stop-color="#c6ff39"/><stop offset="0.642" stop-color="#b6ff49"/><stop offset="0.998" stop-color="#79ff86"/></linearGradient><linearGradient id="gd21"><stop offset="0.000" stop-color="#9cff63"/><stop offset="0.390" stop-color="#c4ff3b"/><stop offset="0.636" stop-color="#b2ff4d"/><stop offset="0.998" stop-color="#72ff8d"/></linearGradient><linearGradient id="gd22"><stop offset="0.000" stop-color="#9cff63"/><stop offset="0.387" stop-color="#c2ff3d"/><stop offset="0.639" stop-color="#adff52"/><stop offset="0.998" stop-color="#6bff94"/></linearGradient><linearGradient id="gd23"><stop offset="0.000" stop-color="#9cff63"/><stop offset="0.385" stop-color="#c0ff3f"/><stop offset="0.639" stop-color="#a9ff56"/><stop offset="0.998" stop-color="#65ff9a"/></linearGradient><linearGradient id="gd24"><stop offset="0.000" stop-color="#9cff63"/><stop offset="0.382" stop-color="#bfff40"/><stop offset="0.642" stop-color="#a4ff5b"/><stop offset="0.979" stop-color="#61ff9e"/><stop offset="0.998" stop-color="#5effa1"/></linearGradient><linearGradient id="gd25"><stop offset="0.000" stop-color="#9cff63"/><stop offset="0.379" stop-color="#bdff42"/><stop offset="0.645" stop-color="#9fff60"/><stop offset="0.891" stop-color="#6bff94"/><stop offset="0.998" stop-color="#57ffa8"/></linearGradient><linearGradient id="gd26"><stop offset="0.000" stop-color="#9cff63"/><stop offset="0.379" stop-color="#bbff44"/><stop offset="0.648" stop-color="#9bff64"/><stop offset="0.902" stop-color="#62ff9d"/><stop offset="0.998" stop-color="#50ffaf"/></linearGradient><linearGradient id="gd27"><stop offset="0.000" stop-color="#9cff63"/><stop offset="0.382" stop-color="#b8ff47"/><stop offset="0.648" stop-color="#97ff68"/><stop offset="0.922" stop-color="#57ffa8"/><stop offset="0.998" stop-color="#4affb5"/></linearGradient><linearGradient id="gd28"><stop offset="0.000" stop-color="#9cff63"/><stop offset="0.382" stop-color="#b6ff49"/><stop offset="0.650" stop-color="#92ff6d"/><stop offset="0.942" stop-color="#4effb1"/><stop offset="0.998" stop-color="#43ffbc"/></linearGradient><linearGradient id="gd29"><stop offset="0.000" stop-color="#9cff63"/><stop offset="0.379" stop-color="#b5ff4a"/><stop offset="0.650" stop-color="#8fff70"/><stop offset="0.945" stop-color="#48ffb7"/><stop offset="0.998" stop-color="#3fffc0"/></linearGradient><linearGradient id="gd30"><stop offset="0.000" stop-color="#9bff64"/><stop offset="0.373" stop-color="#b3ff4c"/><stop offset="0.653" stop-color="#8cff73"/><stop offset="0.947" stop-color="#45ffba"/><stop offset="0.998" stop-color="#3cffc3"/></linearGradient><linearGradient id="gd31"><stop offset="0.000" stop-color="#9bff64"/><stop offset="0.368" stop-color="#b2ff4d"/><stop offset="0.656" stop-color="#89ff76"/><stop offset="0.950" stop-color="#42ffbd"/><stop offset="0.998" stop-color="#3affc5"/></linearGradient><linearGradient id="gd32"><stop offset="0.000" stop-color="#9aff65"/><stop offset="0.351" stop-color="#b0ff4f"/><stop offset="0.650" stop-color="#88ff77"/><stop offset="0.950" stop-color="#41ffbe"/><stop offset="0.998" stop-color="#38ffc7"/></linearGradient><linearGradient id="gd33"><stop offset="0.000" stop-color="#9aff65"/><stop offset="0.325" stop-color="#adff52"/><stop offset="0.450" stop-color="#a4ff5b"/><stop offset="0.684" stop-color="#7dff82"/><stop offset="0.979" stop-color="#39ffc6"/><stop offset="0.998" stop-color="#36ffc9"/></linearGradient><linearGradient id="gd34"><stop offset="0.000" stop-color="#9aff65"/><stop offset="0.314" stop-color="#abff54"/><stop offset="0.421" stop-color="#a5ff5a"/><stop offset="0.684" stop-color="#7bff84"/><stop offset="0.981" stop-color="#37ffc8"/><stop offset="0.998" stop-color="#34ffcb"/></linearGradient><linearGradient id="gd35"><stop offset="0.000" stop-color="#99ff66"/><stop offset="0.311" stop-color="#aaff55"/><stop offset="0.419" stop-color="#a4ff5b"/><stop offset="0.690" stop-color="#77ff88"/><stop offset="0.987" stop-color="#34ffcb"/><stop offset="0.998" stop-color="#32ffcd"/></linearGradient><linearGradient id="gd36"><stop offset="0.000" stop-color="#99ff66"/><stop offset="0.317" stop-color="#aaff55"/><stop offset="0.419" stop-color="#a2ff5d"/><stop offset="0.696" stop-color="#74ff8b"/><stop offset="0.993" stop-color="#31ffce"/><stop offset="0.998" stop-color="#31ffce"/></linearGradient><linearGradient id="gd37"><stop offset="0.000" stop-color="#99ff66"/><stop offset="0.325" stop-color="#acff53"/><stop offset="0.421" stop-color="#9fff60"/><stop offset="0.701" stop-color="#70ff8f"/><stop offset="0.998" stop-color="#30ffcf"/></linearGradient><linearGradient id="gd38"><stop offset="0.000" stop-color="#98ff67"/><stop offset="0.238" stop-color="#b1ff4e"/><stop offset="0.376" stop-color="#acff53"/><stop offset="0.478" stop-color="#96ff69"/><stop offset="0.715" stop-color="#6aff95"/><stop offset="0.998" stop-color="#30ffcf"/></linearGradient><linearGradient id="gd39"><stop offset="0.000" stop-color="#98ff67"/><stop offset="0.218" stop-color="#aeff51"/><stop offset="0.274" stop-color="#bfff40"/><stop offset="0.365" stop-color="#b6ff49"/><stop offset="0.438" stop-color="#98ff67"/><stop offset="0.713" stop-color="#69ff96"/><stop offset="0.998" stop-color="#33ffcc"/></linearGradient><linearGradient id="gd40"><stop offset="0.000" stop-color="#98ff67"/><stop offset="0.215" stop-color="#adff52"/><stop offset="0.271" stop-color="#ccff33"/><stop offset="0.345" stop-color="#c6ff39"/><stop offset="0.433" stop-color="#98ff67"/><stop offset="0.727" stop-color="#64ff9b"/><stop offset="0.998" stop-color="#36ffc9"/></linearGradient><linearGradient id="gd41"><stop offset="0.000" stop-color="#98ff67"/><stop offset="0.215" stop-color="#aeff51"/><stop offset="0.280" stop-color="#daff25"/><stop offset="0.334" stop-color="#d3ff2c"/><stop offset="0.436" stop-color="#95ff6a"/><stop offset="0.998" stop-color="#39ffc6"/></linearGradient><linearGradient id="gd42"><stop offset="0.000" stop-color="#98ff67"/><stop offset="0.215" stop-color="#aeff51"/><stop offset="0.288" stop-color="#e5ff1a"/><stop offset="0.331" stop-color="#d8ff27"/><stop offset="0.438" stop-color="#93ff6c"/><stop offset="0.998" stop-color="#3bffc4"/></linearGradient><linearGradient id="gd43"><stop offset="0.000" stop-color="#98ff67"/><stop offset="0.215" stop-color="#aeff51"/><stop offset="0.288" stop-color="#e6ff19"/><stop offset="0.334" stop-color="#d1ff2e"/><stop offset="0.433" stop-color="#93ff6c"/><stop offset="0.998" stop-color="#3cffc3"/></linearGradient><linearGradient id="gd44"><stop offset="0.000" stop-color="#99ff66"/><stop offset="0.215" stop-color="#aeff51"/><stop offset="0.283" stop-color="#e0ff1f"/><stop offset="0.331" stop-color="#c8ff37"/><stop offset="0.419" stop-color="#94ff6b"/><stop offset="0.913" stop-color="#43ffbc"/><stop offset="0.998" stop-color="#3cffc3"/></linearGradient><linearGradient id="gd45"><stop offset="0.000" stop-color="#99ff66"/><stop offset="0.215" stop-color="#adff52"/><stop offset="0.274" stop-color="#d6ff29"/><stop offset="0.325" stop-color="#bdff42"/><stop offset="0.402" stop-color="#95ff6a"/><stop offset="0.775" stop-color="#5cffa3"/><stop offset="0.905" stop-color="#46ffb9"/><stop offset="0.998" stop-color="#3dffc2"/></linearGradient><linearGradient id="gd46"><stop offset="0.000" stop-color="#99ff66"/><stop offset="0.218" stop-color="#aeff51"/><stop offset="0.271" stop-color="#c7ff38"/><stop offset="0.390" stop-color="#96ff69"/><stop offset="0.769" stop-color="#64ff9b"/><stop offset="0.820" stop-color="#57ffa8"/><stop offset="0.905" stop-color="#4cffb3"/><stop offset="0.998" stop-color="#45ffba"/></linearGradient><linearGradient id="gd47"><stop offset="0.000" stop-color="#9aff65"/><stop offset="0.240" stop-color="#b0ff4f"/><stop offset="0.294" stop-color="#aeff51"/><stop offset="0.419" stop-color="#95ff6a"/><stop offset="0.775" stop-color="#6bff94"/><stop offset="0.998" stop-color="#51ffae"/></linearGradient><linearGradient id="gd48"><stop offset="0.000" stop-color="#9aff65"/><stop offset="0.274" stop-color="#a7ff58"/><stop offset="0.998" stop-color="#5bffa4"/></linearGradient><linearGradient id="gd49"><stop offset="0.000" stop-color="#9bff64"/><stop offset="0.252" stop-color="#a5ff5a"/><stop offset="0.998" stop-color="#5dffa2"/></linearGradient><linearGradient id="gd50"><stop offset="0.000" stop-color="#9bff64"/><stop offset="0.252" stop-color="#a5ff5a"/><stop offset="0.998" stop-color="#5effa1"/></linearGradient><linearGradient id="gd51"><stop offset="0.000" stop-color="#9bff64"/><stop offset="0.260" stop-color="#a5ff5a"/><stop offset="0.749" stop-color="#79ff86"/><stop offset="0.812" stop-color="#6cff93"/><stop offset="0.998" stop-color="#5effa1"/></linearGradient><linearGradient id="gd52"><stop offset="0.000" stop-color="#9bff64"/><stop offset="0.110" stop-color="#a4ff5b"/><stop offset="0.342" stop-color="#a2ff5d"/><stop offset="0.393" stop-color="#94ff6b"/><stop offset="0.741" stop-color="#84ff7b"/><stop offset="0.775" stop-color="#67ff98"/><stop offset="0.998" stop-color="#5effa1"/></linearGradient><linearGradient id="gd53"><stop offset="0.000" stop-color="#9bff64"/><stop offset="0.102" stop-color="#a2ff5d"/><stop offset="0.320" stop-color="#a8ff57"/><stop offset="0.356" stop-color="#9bff64"/><stop offset="0.399" stop-color="#91ff6e"/><stop offset="0.738" stop-color="#8bff74"/><stop offset="0.772" stop-color="#62ff9d"/><stop offset="0.998" stop-color="#5effa1"/></linearGradient><linearGradient id="gd54"><stop offset="0.000" stop-color="#9bff64"/><stop offset="0.099" stop-color="#a1ff5e"/><stop offset="0.181" stop-color="#a8ff57"/><stop offset="0.345" stop-color="#a4ff5b"/><stop offset="0.382" stop-color="#91ff6e"/><stop offset="0.738" stop-color="#8cff73"/><stop offset="0.772" stop-color="#60ff9f"/><stop offset="0.998" stop-color="#5effa1"/></linearGradient><linearGradient id="gd55"><stop offset="0.000" stop-color="#9bff64"/><stop offset="0.099" stop-color="#a1ff5e"/><stop offset="0.178" stop-color="#a8ff57"/><stop offset="0.345" stop-color="#a4ff5b"/><stop offset="0.382" stop-color="#91ff6e"/><stop offset="0.738" stop-color="#8cff73"/><stop offset="0.772" stop-color="#60ff9f"/><stop offset="0.998" stop-color="#5effa1"/></linearGradient><linearGradient id="gd56"><stop offset="0.000" stop-color="#9bff64"/><stop offset="0.099" stop-color="#a1ff5e"/><stop offset="0.178" stop-color="#a8ff57"/><stop offset="0.345" stop-color="#a4ff5b"/><stop offset="0.382" stop-color="#91ff6e"/><stop offset="0.738" stop-color="#8cff73"/><stop offset="0.772" stop-color="#60ff9f"/><stop offset="0.998" stop-color="#5dffa2"/></linearGradient><linearGradient id="gd57"><stop offset="0.000" stop-color="#9bff64"/><stop offset="0.099" stop-color="#a1ff5e"/><stop offset="0.178" stop-color="#a8ff57"/><stop offset="0.345" stop-color="#a4ff5b"/><stop offset="0.382" stop-color="#91ff6e"/><stop offset="0.738" stop-color="#8cff73"/><stop offset="0.772" stop-color="#60ff9f"/><stop offset="0.998" stop-color="#5dffa2"/></linearGradient><linearGradient id="gd58"><stop offset="0.000" stop-color="#9bff64"/><stop offset="0.099" stop-color="#a1ff5e"/><stop offset="0.178" stop-color="#a8ff57"/><stop offset="0.345" stop-color="#a4ff5b"/><stop offset="0.382" stop-color="#91ff6e"/><stop offset="0.738" stop-color="#8cff73"/><stop offset="0.772" stop-color="#60ff9f"/><stop offset="0.998" stop-color="#5dffa2"/></linearGradient><linearGradient id="gd59"><stop offset="0.000" stop-color="#9bff64"/><stop offset="0.099" stop-color="#a1ff5e"/><stop offset="0.178" stop-color="#a8ff57"/><stop offset="0.345" stop-color="#a4ff5b"/><stop offset="0.382" stop-color="#91ff6e"/><stop offset="0.738" stop-color="#8cff73"/><stop offset="0.772" stop-color="#60ff9f"/><stop offset="0.998" stop-color="#5dffa2"/></linearGradient><linearGradient id="gd60"><stop offset="0.000" stop-color="#9bff64"/><stop offset="0.099" stop-color="#a1ff5e"/><stop offset="0.178" stop-color="#a8ff57"/><stop offset="0.345" stop-color="#a4ff5b"/><stop offset="0.382" stop-color="#91ff6e"/><stop offset="0.738" stop-color="#8cff73"/><stop offset="0.772" stop-color="#60ff9f"/><stop offset="0.998" stop-color="#5dffa2"/></linearGradient><linearGradient id="gd61"><stop offset="0.000" stop-color="#9bff64"/><stop offset="0.099" stop-color="#a1ff5e"/><stop offset="0.178" stop-color="#a8ff57"/><stop offset="0.345" stop-color="#a4ff5b"/><stop offset="0.382" stop-color="#91ff6e"/><stop offset="0.738" stop-color="#8cff73"/><stop offset="0.772" stop-color="#60ff9f"/><stop offset="0.998" stop-color="#5dffa2"/></linearGradient><linearGradient id="gd62"><stop offset="0.000" stop-color="#9bff64"/><stop offset="0.099" stop-color="#a1ff5e"/><stop offset="0.178" stop-color="#a8ff57"/><stop offset="0.345" stop-color="#a4ff5b"/><stop offset="0.382" stop-color="#91ff6e"/><stop offset="0.738" stop-color="#8cff73"/><stop offset="0.772" stop-color="#60ff9f"/><stop offset="0.998" stop-color="#5dffa2"/></linearGradient><linearGradient id="gd63"><stop offset="0.000" stop-color="#9bff64"/><stop offset="0.099" stop-color="#a1ff5e"/><stop offset="0.178" stop-color="#a8ff57"/><stop offset="0.345" stop-color="#a4ff5b"/><stop offset="0.382" stop-color="#91ff6e"/><stop offset="0.738" stop-color="#8cff73"/><stop offset="0.772" stop-color="#60ff9f"/><stop offset="0.998" stop-color="#5dffa2"/></linearGradient><linearGradient id="gd64"><stop offset="0.000" stop-color="#9bff64"/><stop offset="0.099" stop-color="#a1ff5e"/><stop offset="0.178" stop-color="#a8ff57"/><stop offset="0.345" stop-color="#a4ff5b"/><stop offset="0.382" stop-color="#91ff6e"/><stop offset="0.738" stop-color="#8cff73"/><stop offset="0.772" stop-color="#60ff9f"/><stop offset="0.998" stop-color="#5dffa2"/></linearGradient></defs><rect x="332.5" y="181.8" width="176.8" height="2.05" fill="url(#gd0)"/><rect x="332.5" y="183.8" width="176.8" height="2.05" fill="url(#gd1)"/><rect x="332.5" y="185.8" width="176.8" height="2.05" fill="url(#gd2)"/><rect x="332.5" y="187.8" width="176.8" height="2.05" fill="url(#gd3)"/><rect x="332.5" y="189.8" width="176.8" height="2.05" fill="url(#gd4)"/><rect x="332.5" y="191.8" width="176.8" height="2.05" fill="url(#gd5)"/><rect x="332.5" y="193.8" width="176.8" height="2.05" fill="url(#gd6)"/><rect x="332.5" y="195.8" width="176.8" height="2.05" fill="url(#gd7)"/><rect x="332.5" y="197.8" width="176.8" height="2.05" fill="url(#gd8)"/><rect x="332.5" y="199.8" width="176.8" height="2.05" fill="url(#gd9)"/><rect x="332.5" y="201.8" width="176.8" height="2.05" fill="url(#gd10)"/><rect x="332.5" y="203.8" width="176.8" height="2.05" fill="url(#gd11)"/><rect x="332.5" y="205.8" width="176.8" height="2.05" fill="url(#gd12)"/><rect x="332.5" y="207.8" width="176.8" height="2.05" fill="url(#gd13)"/><rect x="332.5" y="209.8" width="176.8" height="2.05" fill="url(#gd14)"/><rect x="332.5" y="211.8" width="176.8" height="2.05" fill="url(#gd15)"/><rect x="332.5" y="213.8" width="176.8" height="2.05" fill="url(#gd16)"/><rect x="332.5" y="215.8" width="176.8" height="2.05" fill="url(#gd17)"/><rect x="332.5" y="217.8" width="176.8" height="2.05" fill="url(#gd18)"/><rect x="332.5" y="219.8" width="176.8" height="2.05" fill="url(#gd19)"/><rect x="332.5" y="221.8" width="176.8" height="2.05" fill="url(#gd20)"/><rect x="332.5" y="223.8" width="176.8" height="2.05" fill="url(#gd21)"/><rect x="332.5" y="225.8" width="176.8" height="2.05" fill="url(#gd22)"/><rect x="332.5" y="227.8" width="176.8" height="2.05" fill="url(#gd23)"/><rect x="332.5" y="229.8" width="176.8" height="2.05" fill="url(#gd24)"/><rect x="332.5" y="231.8" width="176.8" height="2.05" fill="url(#gd25)"/><rect x="332.5" y="233.8" width="176.8" height="2.05" fill="url(#gd26)"/><rect x="332.5" y="235.8" width="176.8" height="2.05" fill="url(#gd27)"/><rect x="332.5" y="237.8" width="176.8" height="2.05" fill="url(#gd28)"/><rect x="332.5" y="239.8" width="176.8" height="2.05" fill="url(#gd29)"/><rect x="332.5" y="241.8" width="176.8" height="2.05" fill="url(#gd30)"/><rect x="332.5" y="243.8" width="176.8" height="2.05" fill="url(#gd31)"/><rect x="332.5" y="245.8" width="176.8" height="2.05" fill="url(#gd32)"/><rect x="332.5" y="247.8" width="176.8" height="2.05" fill="url(#gd33)"/><rect x="332.5" y="249.8" width="176.8" height="2.05" fill="url(#gd34)"/><rect x="332.5" y="251.8" width="176.8" height="2.05" fill="url(#gd35)"/><rect x="332.5" y="253.8" width="176.8" height="2.05" fill="url(#gd36)"/><rect x="332.5" y="255.8" width="176.8" height="2.05" fill="url(#gd37)"/><rect x="332.5" y="257.8" width="176.8" height="2.05" fill="url(#gd38)"/><rect x="332.5" y="259.8" width="176.8" height="2.05" fill="url(#gd39)"/><rect x="332.5" y="261.8" width="176.8" height="2.05" fill="url(#gd40)"/><rect x="332.5" y="263.8" width="176.8" height="2.05" fill="url(#gd41)"/><rect x="332.5" y="265.8" width="176.8" height="2.05" fill="url(#gd42)"/><rect x="332.5" y="267.8" width="176.8" height="2.05" fill="url(#gd43)"/><rect x="332.5" y="269.8" width="176.8" height="2.05" fill="url(#gd44)"/><rect x="332.5" y="271.8" width="176.8" height="2.05" fill="url(#gd45)"/><rect x="332.5" y="273.8" width="176.8" height="2.05" fill="url(#gd46)"/><rect x="332.5" y="275.8" width="176.8" height="2.05" fill="url(#gd47)"/><rect x="332.5" y="277.8" width="176.8" height="2.05" fill="url(#gd48)"/><rect x="332.5" y="279.8" width="176.8" height="2.05" fill="url(#gd49)"/><rect x="332.5" y="281.8" width="176.8" height="2.05" fill="url(#gd50)"/><rect x="332.5" y="283.8" width="176.8" height="2.05" fill="url(#gd51)"/><rect x="332.5" y="285.8" width="176.8" height="2.05" fill="url(#gd52)"/><rect x="332.5" y="287.8" width="176.8" height="2.05" fill="url(#gd53)"/><rect x="332.5" y="289.8" width="176.8" height="2.05" fill="url(#gd54)"/><rect x="332.5" y="291.8" width="176.8" height="2.05" fill="url(#gd55)"/><rect x="332.5" y="293.8" width="176.8" height="2.05" fill="url(#gd56)"/><rect x="332.5" y="295.8" width="176.8" height="2.05" fill="url(#gd57)"/><rect x="332.5" y="297.8" width="176.8" height="2.05" fill="url(#gd58)"/><rect x="332.5" y="299.8" width="176.8" height="2.05" fill="url(#gd59)"/><rect x="332.5" y="301.8" width="176.8" height="2.05" fill="url(#gd60)"/><rect x="332.5" y="303.8" width="176.8" height="2.05" fill="url(#gd61)"/><rect x="332.5" y="305.8" width="176.8" height="2.05" fill="url(#gd62)"/><rect x="332.5" y="307.8" width="176.8" height="2.05" fill="url(#gd63)"/><rect x="332.5" y="309.8" width="176.8" height="2.05" fill="url(#gd64)"/></g><path d="M440 257l68.8-.5M428 260l80.8-.3M416 263l92.8-.1M404 266l104.8 0M394 269.3l114.8 0M385.1 271.8l-1.7-1-1.9-.7-2.7-.6-2.4-.2-2 .2-1.5 .5-1.4 .8-.8 .9M508.5 248.6l-15.1-1.4-16.7-2.2-16.6-2.8-34.9-6.5-15.8-2.8-17-2.5-12.7-1.4-4.4-.1-7.2 .3-6.4 .6-5.9 .9-5.9 1.2-5.4 1.5-5.3 1.7-4.9 2M425.7 258l-28.6-6.2-8.3-1.3-8.7-1.1-4.8-.2-6 .4-5.5 .9-5 1.4-3 1.1-2.5 1.2-2.4 1.5-2.3 1.6-1.7 1.7-1.5 1.9-1 1.7-.7 1.9-.4 2-.1 2.4 .1 2 .5 2.3 .9 2.7 1.1 2.5 3.1 5.2M508.5 220.2l-8-2.5-14.7-5.4-6.9-2-4.6-1.1-5.6-.9-5.1-.5-5.6-.3-12-.1-23.2 1-11.2 .3-11.6 0-20.8-.5-7.2 .2-10 .7-9.9 1.2-9.1 1.6-8.9 2M403.4 263.3l-4.3-2.1-3.4-1.3-3.5-.8-4-.4-10 .2-4.7 .3-5.1 1-4.2 1.6-3 1.9-2.3 2.2-1.3 2.4-.5 1.6-.2 1.6 .3 3.1 1.1 3 1.8 3.1 2.7 2.9M462.5 254l-63.3-11.9-13.8-2.2-9.2-.8-6.4 .2-6.3 .7-6.3 1.1-5.8 1.6-5.3 1.9-4.7 2.3-4 2.5-3.4 2.9M508.5 236.5l-11.5-1.3-11.9-1.8-11-2.1-23.1-4.8-14.6-2.5-21.4-2.5-30.3-2.6-6.4-.3-4.4 0-7.6 .5-7.2 .7-6.7 1-6.3 1.2-6.2 1.4-5.8 1.7M508.5 202.7l-13.7-2.8-12.7-1.9-13.1-1.1-13.6-.3-12.4 .2-34.4 1.4-11.6 .1-19.2-.1-8 .3-9.1 .6-9.2 1-8.7 1.3-8.6 1.7M395.6 266.3l-3.1-1.7-3.5-.9-4-.1-9.2 .4-3.9 .7-3 1.1-2.4 1.5-1.9 2-.7 1.5-.3 1.5 0 1.6 .3 1.6 .8 1.8 .9 1.4 1 1.2 1.6 1.2 2.8 1.6 3 .8 10.4 .1M413.9 261l-16.5-4.8-4.7-.9-5.5-.6-9.2-.5-5.2 .1-5.9 .9-5.4 1.6-4 1.9-1.9 1.4-1.6 1.3-1.3 1.5-1.1 1.6-.8 1.9-.4 1.5-.3 2 .1 2 .9 3.9 1.8 4 2.7 3.9M438.2 255l-38.4-7.6-11.1-1.9-8.3-1.1-5.2-.2-6.8 .4-6.3 .9-5.8 1.4-3.4 1.2-3.4 1.4-3.1 1.6-2.7 1.8-2.2 1.8-1.9 2-1.6 2.3-1 2.1-.7 2.3-.3 2.4 .1 2.4 .5 2.8 .9 3 1.3 3 1.6 3.2 2.1 3.4M502.1 253.7l-15.1-1.6-16.2-2.3-17.4-3-49.9-9.3-14.6-2.3-10.4-1.1-5.2 0-6.8 .4-6.3 .8-5.9 1.1-5.4 1.4-5.3 1.7-5.2 2.2-4.3 2.2M508.5 242.8l-14.3-1.4-15.1-2.1-14.2-2.5-31-5.8-18.6-3-19-2.6-14.7-1.4-5.2-.3-6 .2-6.8 .6-6.4 .7-5.9 1-5.8 1.3-5.8 1.6-5.3 1.8M508.5 229.3l-9.1-1.5-9-2-7.3-2-13.8-4.2-6.6-1.6-8.2-1.4-9.2-.8-32.8-1-29.2-1.3-7.6-.1-11.1 .6-10.8 1.3-9.8 1.7-9.7 2.4M508.5 210.3l-14.2-4.3-5.4-1.3-5.9-1.2-5.9-.9-6.4-.6-6.4-.5-6.8-.1-13.2 .2-34.7 1.6-11.6 .1-20-.1-8 .3-9.6 .7-9.1 1.1-8.7 1.4-8.2 1.7M447.5 192.3l-38 1-31.6 0-8.4 .2-9.2 .6-9.1 .9-8.7 1.2-8.3 1.5M508.5 196.8l-12.3-1.9-11.1-1.3-11.1-.9-11.6-.4M393.5 271.8l-1-1.2-1.6-1.3-1.7-1-2.3-.7-2.8-.6-3.5-.3-3.6-.1-2.4 .2-2 .4-1.8 .8-1.4 .8-1.4 1.4-.8 1.4-.4 1.5 .1 1.6 .6 1.5M371.3 280l1.9 .7 1.9 .4 9.2 0M401.1 265.5l-3.4-2.1-2.9-1.3-2.7-.8-3.6-.4-4.8 .1-9.6 .7-4.7 1-3.6 1.5-2.6 1.9-1.8 2.1-1 2.6-.2 2.4 .3 1.6 .4 1.5 1.5 2.9 2.1 2.4 2.9 2.2M410.2 262.9l-12.8-4.6-3.9-.9-4-.5-8.8-.4-6.4 .2-5.9 .8-5 1.6-3.9 2-2.7 2.3-1.3 1.5-.8 1.4-1 3-.2 2 .1 1.6 .9 3.5 2 3.9 2.7 3.5M421.2 259.8l-24.1-5.7-6.3-1.1-8-.9-6.4-.4-4.8 .2-5.5 .8-5.4 1.4-4.8 2.1-2 1.2-2 1.5-1.4 1.3-1.5 1.9-1.1 1.7-.7 1.9-.4 1.9-.1 2 .1 2 .5 2.3 .7 2.3 1.2 2.6 2.9 4.7M433.2 256.8l-34.9-7.1-9.9-1.7-7.9-1-4.8-.3-6.4 .3-5.9 .9-5.5 1.4-3.4 1.1-2.9 1.3-2.8 1.6-2.3 1.5-2.1 1.9-1.6 1.8-1.4 1.9-1 2.2-.6 2.3-.2 2.4 .2 2.4 .4 2.4 .8 2.7 1.3 2.9 1.4 2.8 1.9 3.1M446 253.8l-36.5-7.2-16.1-2.9-12.7-1.8-4-.2-4 0-6.8 .6-6.3 1-5.8 1.5-5.6 2.1-4.7 2.3-3.9 2.7-3.2 3-2.3 3.3M334 273.3l2.3 5.1 3 5.2M479.1 253.8l-24.1-3.9-40.5-7.7-14.5-2.7-13.5-2-9.1-.9-6 .1-6.4 .5-5.9 .9-5.9 1.3-5.4 1.6-5.2 2-4.6 2.3-3.8 2.3M507.7 251.4l-15.9-1.5-17.5-2.4-18.1-3-34.6-6.6-15.8-2.8-15.8-2.4-11.1-1.1-4.8-.1-6.8 .3-6.4 .7-5.9 1-5.8 1.4-5.4 1.6-4.9 1.8-4.7 2.1M508.5 245.7l-13.9-1.3-15.1-2-15.8-2.6-33-6.2-16.2-2.7-19.4-2.9-14.7-1.5-4.4-.2-6.8 .3-6.4 .5-6.3 .9-5.9 1.1-5.8 1.4-5.4 1.6-5.2 1.9M508.5 239.7l-13.1-1.3-13.5-2-11.8-2.1-27.5-5.3-17-2.8-22.6-2.9-20.3-1.9-5.6-.2-5.2 .1-7.2 .5-6.7 .7-6.3 1-5.9 1.2-5.8 1.5-5.8 1.8M508.5 233.1l-9.9-1.3-9.9-1.7-9.4-2.1-20.6-4.9-12.2-2.2-15.5-1.6-42.7-2.9-12.4-.4-7.6 .3-7.1 .7-7.2 .9-7.1 1.2-6.6 1.5-6.2 1.7M508.5 225l-6.3-1.3-6.5-1.8-17.4-6.1-6.5-2-8.2-1.6-9.2-.8-10-.2-32 .5-31.6-.9-6.8 .1-10.7 .7-10.4 1.2-9.4 1.7-9.4 2.2M508.5 215l-16.6-5.7-9.7-2.5-5.5-1.1-6-.8-5.9-.5-6.4-.2-12.8 .1-24 1.2-11.2 .4-11.6 .1-20.4-.3-7.6 .2-10 .8-9.1 1.1-9.1 1.5-8.6 1.9M508.5 206.2l-13.6-3.4-11.8-2.1-6.7-.9-6.4-.5-13.6-.4-12.8 .2-34.8 1.6-11.6 .1-19.2-.1-8.4 .3-9.5 .7-9.2 1-8.7 1.4-8.2 1.7M508.5 199.6l-13.8-2.4-13.1-1.6-13.1-1-14.4-.2-12 .2-33.2 1.1-30.8 0-8.4 .3-9.2 .6-9.1 1-8.8 1.2-8.2 1.5M350.7 192.5l-8.3 1.2-8.3 1.4M508.5 194l-13.1-1.7M389.2 271.8l-1.1-1.1-2.2-1.1-2.6-.8-3.2-.6M475.6 224.5l-14.7-3.8-5.9-1.2-5.9-.8-12.4-1.1-31.1-1.5M489.8 223l-19.4-6.4-5.8-1.4-6.3-1-6-.5-7.2-.3-25.6-.1-13.6-.2M498.1 219.8l-14.6-5.4-5.7-1.9-7.4-1.7-7.2-1-6.7-.5-7.6-.1-29.2 .9-15.6 0" fill="none" stroke="#000" stroke-opacity="0.65" stroke-width="0.6"/><path d="M339.1 194.2L336.8 195.7 336.4 193.5ZM359.0 194.2L356.6 195.6 356.4 193.3ZM378.4 195.7L375.9 196.9 375.9 194.6ZM398.0 195.8L395.5 197.0 395.5 194.7ZM417.6 195.5L415.1 196.7 415.0 194.5ZM437.2 194.8L434.7 196.0 434.6 193.7ZM456.8 194.4L454.3 195.5 454.3 193.3ZM476.3 195.1L473.8 196.1 473.9 193.8ZM496.1 194.9L493.5 195.7 493.8 193.4ZM339.4 204.6L337.2 206.2 336.7 204.0ZM358.7 204.4L356.3 205.8 356.1 203.5ZM378.7 205.7L376.2 206.8 376.2 204.6ZM397.9 206.0L395.4 207.1 395.4 204.8ZM417.9 205.7L415.4 206.9 415.4 204.6ZM437.5 204.7L435.0 205.9 434.9 203.7ZM457.1 204.1L454.6 205.2 454.6 203.0ZM476.2 205.7L473.6 206.4 473.9 204.2ZM495.8 206.4L493.1 206.8 493.6 204.7ZM339.5 215.3L337.3 217.0 336.8 214.8ZM358.9 214.6L356.6 216.0 356.3 213.8ZM378.6 216.0L376.1 217.1 376.1 214.8ZM398.0 214.2L395.5 215.2 395.6 213.0ZM417.6 215.0L415.1 216.0 415.1 213.8ZM437.2 215.4L434.7 216.5 434.7 214.3ZM457.0 214.1L454.4 215.0 454.6 212.7ZM476.3 215.1L473.6 215.5 474.3 213.3ZM495.9 216.1L493.1 216.2 493.9 214.1ZM339.0 223.7L336.9 225.4 336.3 223.3ZM359.1 225.0L356.8 226.4 356.5 224.2ZM378.7 223.8L376.1 224.9 376.2 222.6ZM398.2 225.6L395.6 226.5 395.8 224.2ZM417.6 225.1L415.0 225.9 415.3 223.7ZM437.5 224.2L434.9 224.9 435.2 222.7ZM476.7 224.8L474.0 225.2 474.6 223.1ZM339.4 235.0L337.5 237.0 336.7 234.9ZM358.9 235.5L356.7 237.0 356.2 234.8ZM378.4 234.1L375.9 235.1 376.0 232.9ZM398.2 233.9L395.6 234.6 395.9 232.4ZM418.0 234.4L415.3 235.1 415.7 232.8ZM437.3 234.9L434.6 235.5 435.0 233.3ZM457.0 235.3L454.3 236.0 454.7 233.8ZM476.3 235.5L473.6 236.1 474.0 233.9ZM496.1 235.1L493.4 235.9 493.8 233.6ZM339.3 244.5L337.6 246.8 336.5 244.8ZM358.7 243.5L356.6 245.2 356.0 243.0ZM378.7 244.3L376.2 245.3 376.3 243.0ZM398.0 244.5L395.3 245.1 395.7 242.9ZM417.6 245.5L414.9 246.1 415.4 243.9ZM437.6 243.8L434.9 244.4 435.4 242.2ZM456.9 244.6L454.2 245.2 454.6 243.0ZM476.6 245.0L474.0 245.7 474.3 243.5ZM496.1 244.6L493.4 245.4 493.7 243.2ZM338.2 253.0L337.3 255.6 335.7 254.0ZM359.1 254.7L357.3 256.8 356.3 254.7ZM378.7 254.2L376.2 255.3 376.2 253.0ZM398.2 254.3L395.5 254.9 395.9 252.7ZM417.3 256.2L414.7 256.8 415.1 254.6ZM437.4 254.8L434.7 255.4 435.1 253.2ZM457.3 253.1L454.6 253.7 455.0 251.5ZM476.6 253.5L474.0 254.2 474.3 252.0ZM496.4 253.2L493.8 254.0 494.1 251.8ZM336.3 263.1L337.1 265.8 334.9 265.5ZM357.5 262.5L356.6 265.1 355.0 263.6ZM378.5 263.8L376.1 265.1 375.9 262.9ZM398.6 263.9L395.9 263.7 397.0 261.7ZM417.9 266.0L415.4 267.1 415.4 264.9ZM437.5 266.0L435.0 267.1 435.0 264.9ZM457.1 266.0L454.6 267.1 454.6 264.9ZM476.7 266.0L474.2 267.1 474.2 264.9ZM496.3 266.0L493.8 267.1 493.8 264.9ZM338.4 276.2L336.4 274.3 338.5 273.5ZM357.5 276.1L355.9 273.9 358.1 273.4ZM340.1 284.9L337.8 283.4 339.7 282.1ZM359.9 284.6L357.4 283.5 359.1 282.0ZM378.3 283.6L375.8 284.8 375.8 282.5Z" fill="#000" fill-opacity="0.7"/></g>
<path d="M368.10,278.28 C369.60,274.78 372.65,271.73 377.65,271.13 L378.85,272.56 L508.30,272.56 L508.30,279.35 L370.60,279.35 Q368.10,279.35 368.10,278.28 Z" fill="#000" stroke="#fff" stroke-width="3.6" stroke-linejoin="round"/>
<path d="M368.10,278.28 C369.60,274.78 372.65,271.73 377.65,271.13 L378.85,272.56 L508.30,272.56 L508.30,279.35 L370.60,279.35 Q368.10,279.35 368.10,278.28 Z" fill="#000"/>
<rect x="333.50" y="182.80" width="174.80" height="125.10" fill="none" stroke="#b4b4b4" stroke-width="0.7"/>
<path d="M348.46,307.90v-1.7M348.46,182.80v1.7M366.48,307.90v-1.7M366.48,182.80v1.7M384.50,307.90v-1.7M384.50,182.80v1.7M402.52,307.90v-1.7M402.52,182.80v1.7M420.54,307.90v-1.7M420.54,182.80v1.7M438.56,307.90v-1.7M438.56,182.80v1.7M456.58,307.90v-1.7M456.58,182.80v1.7M474.60,307.90v-1.7M474.60,182.80v1.7M492.62,307.90v-1.7M492.62,182.80v1.7M333.50,290.07h1.7M508.30,290.07h-1.7M333.50,272.20h1.7M508.30,272.20h-1.7M333.50,254.33h1.7M508.30,254.33h-1.7M333.50,236.46h1.7M508.30,236.46h-1.7M333.50,218.59h1.7M508.30,218.59h-1.7M333.50,200.72h1.7M508.30,200.72h-1.7M333.50,182.85h1.7M508.30,182.85h-1.7" stroke="#b4b4b4" stroke-width="0.6" fill="none"/>
<defs><linearGradient id="jetd" x1="0" y1="0" x2="0" y2="1"><stop offset="0.0000" stop-color="#800000"/><stop offset="0.0312" stop-color="#9f0000"/><stop offset="0.0625" stop-color="#bf0000"/><stop offset="0.0938" stop-color="#df0000"/><stop offset="0.1250" stop-color="#ff0000"/><stop offset="0.1562" stop-color="#ff2000"/><stop offset="0.1875" stop-color="#ff4000"/><stop offset="0.2188" stop-color="#ff6000"/><stop offset="0.2500" stop-color="#ff8000"/><stop offset="0.2812" stop-color="#ff9f00"/><stop offset="0.3125" stop-color="#ffbf00"/><stop offset="0.3438" stop-color="#ffdf00"/><stop offset="0.3750" stop-color="#ffff00"/><stop offset="0.4062" stop-color="#dfff20"/><stop offset="0.4375" stop-color="#bfff40"/><stop offset="0.4688" stop-color="#9fff60"/><stop offset="0.5000" stop-color="#80ff80"/><stop offset="0.5312" stop-color="#60ff9f"/><stop offset="0.5625" stop-color="#40ffbf"/><stop offset="0.5938" stop-color="#20ffdf"/><stop offset="0.6250" stop-color="#00ffff"/><stop offset="0.6562" stop-color="#00dfff"/><stop offset="0.6875" stop-color="#00bfff"/><stop offset="0.7188" stop-color="#009fff"/><stop offset="0.7500" stop-color="#0080ff"/><stop offset="0.7812" stop-color="#0060ff"/><stop offset="0.8125" stop-color="#0040ff"/><stop offset="0.8438" stop-color="#0020ff"/><stop offset="0.8750" stop-color="#0000ff"/><stop offset="0.9062" stop-color="#0000df"/><stop offset="0.9375" stop-color="#0000bf"/><stop offset="0.9688" stop-color="#00009f"/><stop offset="1.0000" stop-color="#000080"/></linearGradient></defs>
<rect x="515.00" y="183.00" width="9.20" height="124.80" fill="url(#jetd)"/>
<g><text x="348.46" y="318.20" text-anchor="middle">100</text><text x="340.76" y="318.20" text-anchor="end">−</text><text x="366.48" y="318.20" text-anchor="middle">50</text><text x="360.88" y="318.20" text-anchor="end">−</text><text x="384.50" y="318.20" text-anchor="middle">0</text><text x="402.52" y="318.20" text-anchor="middle">50</text><text x="420.54" y="318.20" text-anchor="middle">100</text><text x="438.56" y="318.20" text-anchor="middle">150</text><text x="456.58" y="318.20" text-anchor="middle">200</text><text x="474.60" y="318.20" text-anchor="middle">250</text><text x="492.62" y="318.20" text-anchor="middle">300</text><text x="329.70" y="293.07" text-anchor="end">− 50</text><text x="329.70" y="275.20" text-anchor="end">0</text><text x="329.70" y="257.33" text-anchor="end">50</text><text x="329.70" y="239.46" text-anchor="end">100</text><text x="329.70" y="221.59" text-anchor="end">150</text><text x="329.70" y="203.72" text-anchor="end">200</text><text x="329.70" y="185.25" text-anchor="end">250</text><text x="527.40" y="185.50">1.5</text><text x="527.40" y="206.30">1</text><text x="527.40" y="227.10">0.5</text><text x="527.40" y="247.90">0</text><text x="527.40" y="268.70">− 0.5</text><text x="527.40" y="289.50">− 1</text><text x="527.40" y="310.30">− 1.5</text><text x="422.20" y="329.70" text-anchor="middle" style="font-size:8.8px">X (mm)</text><text transform="translate(313.70,241.50) rotate(-90)" text-anchor="middle" style="font-size:8.8px">Y(mm)</text><text x="426.40" y="345.90" text-anchor="middle" style="font-size:11px;fill:#1a1a1a">(<tspan style="font-weight:700">d</tspan>)</text></g>
</g>
</svg></body></html>
